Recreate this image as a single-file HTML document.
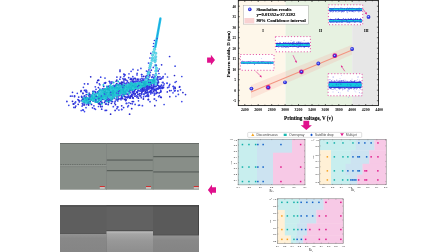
<!DOCTYPE html><html><head><meta charset="utf-8"><style>html,body{margin:0;padding:0;background:#fff;width:448px;height:252px;overflow:hidden}svg{display:block}text{font-family:"Liberation Serif",serif;font-weight:bold}.n{font-weight:normal}</style></head><body><svg width="448" height="252" viewBox="0 0 448 252"><defs><radialGradient id="gb" cx="0.45" cy="0.42" r="0.6"><stop offset="0" stop-color="#d0e0ff"/><stop offset="0.4" stop-color="#4048f0"/><stop offset="1" stop-color="#1a10b8"/></radialGradient></defs><circle cx="123.1" cy="94.4" r="0.9" fill="#3a4ae4"/><circle cx="135.0" cy="96.2" r="0.9" fill="#2828c8"/><circle cx="159.1" cy="92.9" r="0.9" fill="#2828c8"/><circle cx="156.9" cy="83.6" r="0.9" fill="#2828c8"/><circle cx="85.8" cy="91.7" r="0.9" fill="#4048ec"/><circle cx="129.7" cy="88.2" r="0.9" fill="#3038e0"/><circle cx="148.5" cy="95.4" r="0.9" fill="#4048ec"/><circle cx="88.4" cy="103.1" r="0.9" fill="#3038e0"/><circle cx="127.5" cy="81.1" r="0.9" fill="#2c30d8"/><circle cx="155.6" cy="78.4" r="0.9" fill="#3038e0"/><circle cx="152.4" cy="76.9" r="0.9" fill="#3840e8"/><circle cx="113.8" cy="94.0" r="0.9" fill="#4048ec"/><circle cx="142.0" cy="91.2" r="0.9" fill="#2828c8"/><circle cx="144.6" cy="86.8" r="0.9" fill="#2c30d8"/><circle cx="157.2" cy="84.7" r="0.9" fill="#2c30d8"/><circle cx="113.6" cy="92.1" r="0.9" fill="#3840e8"/><circle cx="145.5" cy="85.5" r="0.9" fill="#3a4ae4"/><circle cx="117.0" cy="87.9" r="0.9" fill="#2828c8"/><circle cx="88.8" cy="103.6" r="0.9" fill="#3a4ae4"/><circle cx="151.3" cy="90.6" r="0.9" fill="#3840e8"/><circle cx="151.3" cy="70.2" r="0.9" fill="#3038e0"/><circle cx="104.7" cy="91.7" r="0.9" fill="#3840e8"/><circle cx="130.6" cy="88.5" r="0.9" fill="#2828c8"/><circle cx="118.4" cy="93.7" r="0.9" fill="#3038e0"/><circle cx="82.7" cy="98.9" r="0.9" fill="#2c30d8"/><circle cx="86.6" cy="90.8" r="0.9" fill="#4048ec"/><circle cx="115.9" cy="95.4" r="0.9" fill="#3038e0"/><circle cx="103.0" cy="96.0" r="0.9" fill="#4048ec"/><circle cx="119.5" cy="85.3" r="0.9" fill="#3038e0"/><circle cx="111.5" cy="93.1" r="0.9" fill="#2828c8"/><circle cx="149.8" cy="75.8" r="0.9" fill="#2c30d8"/><circle cx="123.4" cy="89.4" r="0.9" fill="#4048ec"/><circle cx="151.9" cy="88.2" r="0.9" fill="#3840e8"/><circle cx="83.3" cy="110.2" r="0.9" fill="#3a4ae4"/><circle cx="93.1" cy="101.1" r="0.9" fill="#2828c8"/><circle cx="98.8" cy="91.0" r="0.9" fill="#4048ec"/><circle cx="128.4" cy="87.1" r="0.9" fill="#2c30d8"/><circle cx="116.2" cy="87.0" r="0.9" fill="#2c30d8"/><circle cx="147.4" cy="77.6" r="0.9" fill="#3a4ae4"/><circle cx="153.6" cy="88.3" r="0.9" fill="#4048ec"/><circle cx="95.9" cy="102.0" r="0.9" fill="#2c30d8"/><circle cx="127.2" cy="91.2" r="0.9" fill="#3840e8"/><circle cx="141.9" cy="76.6" r="0.9" fill="#4048ec"/><circle cx="125.0" cy="79.0" r="0.9" fill="#2c30d8"/><circle cx="141.5" cy="91.0" r="0.9" fill="#3a4ae4"/><circle cx="103.7" cy="86.4" r="0.9" fill="#2c30d8"/><circle cx="137.4" cy="91.8" r="0.9" fill="#3038e0"/><circle cx="88.7" cy="95.0" r="0.9" fill="#3038e0"/><circle cx="110.1" cy="83.1" r="0.9" fill="#3840e8"/><circle cx="112.0" cy="91.2" r="0.9" fill="#4048ec"/><circle cx="109.3" cy="81.3" r="0.9" fill="#2828c8"/><circle cx="106.3" cy="90.1" r="0.9" fill="#2c30d8"/><circle cx="105.8" cy="93.7" r="0.9" fill="#2828c8"/><circle cx="144.1" cy="89.9" r="0.9" fill="#2828c8"/><circle cx="73.3" cy="104.0" r="0.9" fill="#2828c8"/><circle cx="122.3" cy="86.4" r="0.9" fill="#4048ec"/><circle cx="119.9" cy="79.2" r="0.9" fill="#4048ec"/><circle cx="131.7" cy="94.5" r="0.9" fill="#2c30d8"/><circle cx="148.5" cy="87.2" r="0.9" fill="#2c30d8"/><circle cx="138.4" cy="98.2" r="0.9" fill="#2828c8"/><circle cx="113.9" cy="85.3" r="0.9" fill="#4048ec"/><circle cx="124.9" cy="89.0" r="0.9" fill="#3a4ae4"/><circle cx="142.1" cy="83.7" r="0.9" fill="#3a4ae4"/><circle cx="147.7" cy="84.2" r="0.9" fill="#3840e8"/><circle cx="125.4" cy="90.2" r="0.9" fill="#4048ec"/><circle cx="144.8" cy="89.2" r="0.9" fill="#3038e0"/><circle cx="102.5" cy="88.8" r="0.9" fill="#3a4ae4"/><circle cx="130.0" cy="98.2" r="0.9" fill="#3038e0"/><circle cx="108.3" cy="101.2" r="0.9" fill="#3840e8"/><circle cx="84.8" cy="96.0" r="0.9" fill="#3a4ae4"/><circle cx="83.0" cy="93.6" r="0.9" fill="#4048ec"/><circle cx="99.9" cy="98.2" r="0.9" fill="#3840e8"/><circle cx="91.3" cy="99.9" r="0.9" fill="#2828c8"/><circle cx="156.1" cy="88.6" r="0.9" fill="#3a4ae4"/><circle cx="116.0" cy="91.8" r="0.9" fill="#3a4ae4"/><circle cx="144.3" cy="89.6" r="0.9" fill="#2828c8"/><circle cx="118.6" cy="91.4" r="0.9" fill="#2c30d8"/><circle cx="86.4" cy="97.2" r="0.9" fill="#2828c8"/><circle cx="105.5" cy="96.3" r="0.9" fill="#2828c8"/><circle cx="129.5" cy="92.2" r="0.9" fill="#2c30d8"/><circle cx="106.0" cy="100.4" r="0.9" fill="#2c30d8"/><circle cx="121.8" cy="91.5" r="0.9" fill="#3a4ae4"/><circle cx="121.3" cy="98.2" r="0.9" fill="#3840e8"/><circle cx="92.9" cy="96.6" r="0.9" fill="#2828c8"/><circle cx="92.8" cy="93.4" r="0.9" fill="#2c30d8"/><circle cx="105.0" cy="91.4" r="0.9" fill="#3a4ae4"/><circle cx="109.5" cy="94.1" r="0.9" fill="#3a4ae4"/><circle cx="138.2" cy="85.4" r="0.9" fill="#3a4ae4"/><circle cx="143.6" cy="90.9" r="0.9" fill="#2828c8"/><circle cx="118.0" cy="97.9" r="0.9" fill="#2828c8"/><circle cx="113.9" cy="89.9" r="0.9" fill="#2c30d8"/><circle cx="99.8" cy="103.9" r="0.9" fill="#3840e8"/><circle cx="148.3" cy="99.7" r="0.9" fill="#3a4ae4"/><circle cx="104.0" cy="93.5" r="0.9" fill="#2828c8"/><circle cx="128.3" cy="82.9" r="0.9" fill="#2c30d8"/><circle cx="143.0" cy="87.3" r="0.9" fill="#2828c8"/><circle cx="145.1" cy="83.3" r="0.9" fill="#3840e8"/><circle cx="141.9" cy="89.3" r="0.9" fill="#3a4ae4"/><circle cx="133.0" cy="81.4" r="0.9" fill="#2828c8"/><circle cx="135.2" cy="86.3" r="0.9" fill="#3038e0"/><circle cx="105.3" cy="83.0" r="0.9" fill="#2c30d8"/><circle cx="121.9" cy="91.5" r="0.9" fill="#2c30d8"/><circle cx="136.4" cy="95.9" r="0.9" fill="#3840e8"/><circle cx="127.8" cy="89.5" r="0.9" fill="#2c30d8"/><circle cx="113.6" cy="88.1" r="0.9" fill="#3840e8"/><circle cx="153.7" cy="89.8" r="0.9" fill="#2c30d8"/><circle cx="86.3" cy="94.6" r="0.9" fill="#2c30d8"/><circle cx="154.8" cy="84.1" r="0.9" fill="#3840e8"/><circle cx="97.0" cy="82.5" r="0.9" fill="#2c30d8"/><circle cx="146.1" cy="87.0" r="0.9" fill="#3a4ae4"/><circle cx="94.5" cy="98.7" r="0.9" fill="#2c30d8"/><circle cx="120.0" cy="70.1" r="0.9" fill="#2828c8"/><circle cx="118.2" cy="85.1" r="0.9" fill="#3840e8"/><circle cx="102.8" cy="99.2" r="0.9" fill="#2c30d8"/><circle cx="122.0" cy="97.0" r="0.9" fill="#3038e0"/><circle cx="83.5" cy="101.0" r="0.9" fill="#4048ec"/><circle cx="72.5" cy="101.3" r="0.9" fill="#2828c8"/><circle cx="105.2" cy="101.4" r="0.9" fill="#3840e8"/><circle cx="141.7" cy="74.6" r="0.9" fill="#4048ec"/><circle cx="150.7" cy="82.1" r="0.9" fill="#3038e0"/><circle cx="153.2" cy="87.4" r="0.9" fill="#2828c8"/><circle cx="104.0" cy="88.9" r="0.9" fill="#4048ec"/><circle cx="82.9" cy="104.9" r="0.9" fill="#2828c8"/><circle cx="137.7" cy="96.3" r="0.9" fill="#3038e0"/><circle cx="131.1" cy="83.2" r="0.9" fill="#2828c8"/><circle cx="99.5" cy="103.9" r="0.9" fill="#2828c8"/><circle cx="157.9" cy="88.2" r="0.9" fill="#4048ec"/><circle cx="108.2" cy="104.5" r="0.9" fill="#2c30d8"/><circle cx="111.3" cy="92.3" r="0.9" fill="#3038e0"/><circle cx="139.1" cy="85.2" r="0.9" fill="#3038e0"/><circle cx="134.4" cy="87.5" r="0.9" fill="#3a4ae4"/><circle cx="121.1" cy="91.5" r="0.9" fill="#2828c8"/><circle cx="123.8" cy="94.8" r="0.9" fill="#4048ec"/><circle cx="124.6" cy="93.0" r="0.9" fill="#4048ec"/><circle cx="128.1" cy="88.6" r="0.9" fill="#4048ec"/><circle cx="78.7" cy="97.1" r="0.9" fill="#3038e0"/><circle cx="110.1" cy="100.6" r="0.9" fill="#2828c8"/><circle cx="126.2" cy="86.5" r="0.9" fill="#4048ec"/><circle cx="155.6" cy="80.6" r="0.9" fill="#3840e8"/><circle cx="158.2" cy="70.9" r="0.9" fill="#2c30d8"/><circle cx="110.2" cy="90.9" r="0.9" fill="#3038e0"/><circle cx="114.7" cy="98.1" r="0.9" fill="#2828c8"/><circle cx="109.9" cy="99.4" r="0.9" fill="#3a4ae4"/><circle cx="135.1" cy="104.4" r="0.9" fill="#3a4ae4"/><circle cx="123.2" cy="88.7" r="0.9" fill="#2c30d8"/><circle cx="113.3" cy="86.9" r="0.9" fill="#3840e8"/><circle cx="143.4" cy="99.0" r="0.9" fill="#2828c8"/><circle cx="157.5" cy="84.9" r="0.9" fill="#2c30d8"/><circle cx="108.1" cy="98.9" r="0.9" fill="#3a4ae4"/><circle cx="82.1" cy="100.2" r="0.9" fill="#2828c8"/><circle cx="158.5" cy="82.4" r="0.9" fill="#4048ec"/><circle cx="108.9" cy="95.1" r="0.9" fill="#3840e8"/><circle cx="120.1" cy="89.5" r="0.9" fill="#4048ec"/><circle cx="133.8" cy="85.1" r="0.9" fill="#3a4ae4"/><circle cx="137.1" cy="73.4" r="0.9" fill="#3a4ae4"/><circle cx="117.4" cy="95.8" r="0.9" fill="#2828c8"/><circle cx="122.0" cy="96.2" r="0.9" fill="#2828c8"/><circle cx="143.7" cy="83.4" r="0.9" fill="#2c30d8"/><circle cx="153.2" cy="86.2" r="0.9" fill="#3038e0"/><circle cx="117.8" cy="107.0" r="0.9" fill="#3038e0"/><circle cx="146.4" cy="83.1" r="0.9" fill="#3038e0"/><circle cx="125.4" cy="92.1" r="0.9" fill="#4048ec"/><circle cx="147.8" cy="88.4" r="0.9" fill="#2c30d8"/><circle cx="142.9" cy="80.6" r="0.9" fill="#2c30d8"/><circle cx="81.6" cy="96.4" r="0.9" fill="#2c30d8"/><circle cx="158.6" cy="85.9" r="0.9" fill="#2c30d8"/><circle cx="128.8" cy="91.2" r="0.9" fill="#3038e0"/><circle cx="115.1" cy="110.4" r="0.9" fill="#2c30d8"/><circle cx="156.2" cy="91.0" r="0.9" fill="#3038e0"/><circle cx="132.2" cy="85.9" r="0.9" fill="#2c30d8"/><circle cx="94.0" cy="91.5" r="0.9" fill="#3038e0"/><circle cx="141.5" cy="94.2" r="0.9" fill="#3a4ae4"/><circle cx="101.7" cy="109.2" r="0.9" fill="#3038e0"/><circle cx="122.6" cy="98.5" r="0.9" fill="#2c30d8"/><circle cx="142.5" cy="88.3" r="0.9" fill="#3a4ae4"/><circle cx="96.7" cy="101.1" r="0.9" fill="#3038e0"/><circle cx="154.4" cy="89.8" r="0.9" fill="#4048ec"/><circle cx="138.7" cy="84.3" r="0.9" fill="#3a4ae4"/><circle cx="129.0" cy="84.2" r="0.9" fill="#3a4ae4"/><circle cx="140.3" cy="85.7" r="0.9" fill="#2828c8"/><circle cx="146.6" cy="92.5" r="0.9" fill="#3840e8"/><circle cx="109.4" cy="96.7" r="0.9" fill="#2828c8"/><circle cx="120.0" cy="91.8" r="0.9" fill="#2c30d8"/><circle cx="99.6" cy="100.3" r="0.9" fill="#2c30d8"/><circle cx="130.0" cy="85.4" r="0.9" fill="#4048ec"/><circle cx="139.6" cy="90.9" r="0.9" fill="#3840e8"/><circle cx="151.9" cy="83.1" r="0.9" fill="#3a4ae4"/><circle cx="153.7" cy="83.7" r="0.9" fill="#2828c8"/><circle cx="114.7" cy="94.6" r="0.9" fill="#3a4ae4"/><circle cx="149.6" cy="86.5" r="0.9" fill="#2828c8"/><circle cx="106.9" cy="99.2" r="0.9" fill="#3840e8"/><circle cx="150.5" cy="83.8" r="0.9" fill="#3a4ae4"/><circle cx="128.8" cy="91.3" r="0.9" fill="#3038e0"/><circle cx="131.2" cy="96.1" r="0.9" fill="#3840e8"/><circle cx="116.8" cy="83.8" r="0.9" fill="#3a4ae4"/><circle cx="148.2" cy="87.1" r="0.9" fill="#3038e0"/><circle cx="86.8" cy="92.2" r="0.9" fill="#3a4ae4"/><circle cx="142.4" cy="86.1" r="0.9" fill="#2c30d8"/><circle cx="102.8" cy="91.9" r="0.9" fill="#2828c8"/><circle cx="128.4" cy="93.6" r="0.9" fill="#3840e8"/><circle cx="146.8" cy="79.0" r="0.9" fill="#3840e8"/><circle cx="136.9" cy="92.0" r="0.9" fill="#4048ec"/><circle cx="114.8" cy="86.7" r="0.9" fill="#2c30d8"/><circle cx="119.8" cy="95.7" r="0.9" fill="#3038e0"/><circle cx="144.9" cy="87.0" r="0.9" fill="#3a4ae4"/><circle cx="146.9" cy="75.7" r="0.9" fill="#3a4ae4"/><circle cx="106.5" cy="94.1" r="0.9" fill="#3038e0"/><circle cx="129.0" cy="102.8" r="0.9" fill="#4048ec"/><circle cx="118.5" cy="89.8" r="0.9" fill="#3a4ae4"/><circle cx="138.2" cy="79.6" r="0.9" fill="#3a4ae4"/><circle cx="157.9" cy="89.0" r="0.9" fill="#4048ec"/><circle cx="125.9" cy="87.2" r="0.9" fill="#2c30d8"/><circle cx="129.5" cy="97.5" r="0.9" fill="#4048ec"/><circle cx="136.5" cy="81.5" r="0.9" fill="#3840e8"/><circle cx="131.8" cy="84.0" r="0.9" fill="#4048ec"/><circle cx="113.5" cy="96.1" r="0.9" fill="#3038e0"/><circle cx="120.8" cy="91.4" r="0.9" fill="#2828c8"/><circle cx="104.6" cy="95.6" r="0.9" fill="#3a4ae4"/><circle cx="127.4" cy="86.2" r="0.9" fill="#3840e8"/><circle cx="125.4" cy="79.8" r="0.9" fill="#2c30d8"/><circle cx="116.6" cy="84.8" r="0.9" fill="#2828c8"/><circle cx="115.1" cy="101.5" r="0.9" fill="#3a4ae4"/><circle cx="97.7" cy="101.8" r="0.9" fill="#2828c8"/><circle cx="148.1" cy="87.4" r="0.9" fill="#2c30d8"/><circle cx="145.2" cy="93.0" r="0.9" fill="#2828c8"/><circle cx="111.9" cy="82.0" r="0.9" fill="#3840e8"/><circle cx="137.0" cy="97.3" r="0.9" fill="#3840e8"/><circle cx="128.0" cy="90.7" r="0.9" fill="#4048ec"/><circle cx="160.6" cy="86.3" r="0.9" fill="#2c30d8"/><circle cx="97.1" cy="98.5" r="0.9" fill="#3038e0"/><circle cx="153.0" cy="74.8" r="0.9" fill="#3a4ae4"/><circle cx="106.9" cy="100.1" r="0.9" fill="#2828c8"/><circle cx="117.3" cy="94.9" r="0.9" fill="#3038e0"/><circle cx="147.6" cy="89.0" r="0.9" fill="#2c30d8"/><circle cx="121.6" cy="92.4" r="0.9" fill="#2c30d8"/><circle cx="112.5" cy="101.6" r="0.9" fill="#3038e0"/><circle cx="110.0" cy="92.0" r="0.9" fill="#2828c8"/><circle cx="144.1" cy="87.8" r="0.9" fill="#2c30d8"/><circle cx="147.1" cy="85.3" r="0.9" fill="#3038e0"/><circle cx="158.3" cy="82.0" r="0.9" fill="#3038e0"/><circle cx="144.0" cy="94.6" r="0.9" fill="#3840e8"/><circle cx="144.9" cy="86.8" r="0.9" fill="#3a4ae4"/><circle cx="154.3" cy="78.3" r="0.9" fill="#2c30d8"/><circle cx="116.8" cy="99.0" r="0.9" fill="#2c30d8"/><circle cx="139.9" cy="82.1" r="0.9" fill="#2c30d8"/><circle cx="132.9" cy="80.9" r="0.9" fill="#2828c8"/><circle cx="123.1" cy="87.6" r="0.9" fill="#3038e0"/><circle cx="79.3" cy="101.8" r="0.9" fill="#2828c8"/><circle cx="160.9" cy="91.5" r="0.9" fill="#2828c8"/><circle cx="141.2" cy="90.7" r="0.9" fill="#3a4ae4"/><circle cx="90.5" cy="98.0" r="0.9" fill="#3a4ae4"/><circle cx="123.7" cy="90.6" r="0.9" fill="#2828c8"/><circle cx="106.5" cy="110.3" r="0.9" fill="#3038e0"/><circle cx="144.7" cy="83.4" r="0.9" fill="#4048ec"/><circle cx="148.4" cy="99.4" r="0.9" fill="#2828c8"/><circle cx="127.1" cy="94.4" r="0.9" fill="#2c30d8"/><circle cx="116.1" cy="99.9" r="0.9" fill="#3840e8"/><circle cx="153.9" cy="85.2" r="0.9" fill="#3a4ae4"/><circle cx="114.7" cy="93.6" r="0.9" fill="#2c30d8"/><circle cx="114.0" cy="94.9" r="0.9" fill="#4048ec"/><circle cx="95.3" cy="86.8" r="0.9" fill="#4048ec"/><circle cx="96.0" cy="93.6" r="0.9" fill="#3038e0"/><circle cx="152.9" cy="92.9" r="0.9" fill="#3038e0"/><circle cx="153.8" cy="77.4" r="0.9" fill="#4048ec"/><circle cx="116.9" cy="88.4" r="0.9" fill="#3038e0"/><circle cx="118.6" cy="85.0" r="0.9" fill="#3a4ae4"/><circle cx="147.1" cy="83.5" r="0.9" fill="#3840e8"/><circle cx="120.8" cy="83.6" r="0.9" fill="#2c30d8"/><circle cx="94.2" cy="94.5" r="0.9" fill="#4048ec"/><circle cx="123.2" cy="95.7" r="0.9" fill="#2828c8"/><circle cx="119.0" cy="85.2" r="0.9" fill="#3840e8"/><circle cx="148.0" cy="93.9" r="0.9" fill="#3038e0"/><circle cx="118.8" cy="89.2" r="0.9" fill="#4048ec"/><circle cx="106.3" cy="95.8" r="0.9" fill="#3a4ae4"/><circle cx="147.5" cy="94.9" r="0.9" fill="#2c30d8"/><circle cx="147.0" cy="95.9" r="0.9" fill="#2828c8"/><circle cx="99.7" cy="96.9" r="0.9" fill="#3038e0"/><circle cx="143.5" cy="85.4" r="0.9" fill="#3038e0"/><circle cx="154.0" cy="79.0" r="0.9" fill="#3a4ae4"/><circle cx="135.6" cy="87.9" r="0.9" fill="#3a4ae4"/><circle cx="153.0" cy="79.9" r="0.9" fill="#3840e8"/><circle cx="123.9" cy="79.9" r="0.9" fill="#2828c8"/><circle cx="147.8" cy="80.8" r="0.9" fill="#3a4ae4"/><circle cx="109.1" cy="86.0" r="0.9" fill="#3038e0"/><circle cx="94.5" cy="98.3" r="0.9" fill="#2828c8"/><circle cx="142.0" cy="83.9" r="0.9" fill="#2828c8"/><circle cx="106.5" cy="92.8" r="0.9" fill="#3840e8"/><circle cx="150.9" cy="86.8" r="0.9" fill="#3038e0"/><circle cx="154.1" cy="89.2" r="0.9" fill="#3a4ae4"/><circle cx="132.6" cy="97.9" r="0.9" fill="#2828c8"/><circle cx="128.7" cy="77.7" r="0.9" fill="#3038e0"/><circle cx="136.2" cy="84.9" r="0.9" fill="#3a4ae4"/><circle cx="92.9" cy="91.5" r="0.9" fill="#3038e0"/><circle cx="103.0" cy="92.3" r="0.9" fill="#2c30d8"/><circle cx="100.3" cy="94.7" r="0.9" fill="#2c30d8"/><circle cx="132.5" cy="92.0" r="0.9" fill="#3038e0"/><circle cx="116.4" cy="91.6" r="0.9" fill="#2828c8"/><circle cx="135.3" cy="81.5" r="0.9" fill="#2c30d8"/><circle cx="90.1" cy="101.4" r="0.9" fill="#2828c8"/><circle cx="115.8" cy="88.5" r="0.9" fill="#4048ec"/><circle cx="127.7" cy="90.7" r="0.9" fill="#3038e0"/><circle cx="97.0" cy="102.1" r="0.9" fill="#3038e0"/><circle cx="142.9" cy="84.8" r="0.9" fill="#3a4ae4"/><circle cx="161.4" cy="78.2" r="0.9" fill="#4048ec"/><circle cx="85.2" cy="100.3" r="0.9" fill="#3a4ae4"/><circle cx="140.8" cy="89.6" r="0.9" fill="#3038e0"/><circle cx="109.0" cy="100.7" r="0.9" fill="#2828c8"/><circle cx="140.3" cy="85.5" r="0.9" fill="#3a4ae4"/><circle cx="141.6" cy="74.6" r="0.9" fill="#3038e0"/><circle cx="107.5" cy="91.5" r="0.9" fill="#4048ec"/><circle cx="107.7" cy="97.1" r="0.9" fill="#4048ec"/><circle cx="119.5" cy="83.2" r="0.9" fill="#3840e8"/><circle cx="75.6" cy="101.9" r="0.9" fill="#4048ec"/><circle cx="134.1" cy="78.4" r="0.9" fill="#4048ec"/><circle cx="153.7" cy="82.0" r="0.9" fill="#4048ec"/><circle cx="153.1" cy="81.6" r="0.9" fill="#4048ec"/><circle cx="130.5" cy="82.2" r="0.9" fill="#3038e0"/><circle cx="139.1" cy="86.1" r="0.9" fill="#3840e8"/><circle cx="83.0" cy="98.1" r="0.9" fill="#2c30d8"/><circle cx="151.4" cy="88.7" r="0.9" fill="#2828c8"/><circle cx="137.9" cy="94.4" r="0.9" fill="#2c30d8"/><circle cx="103.7" cy="95.4" r="0.9" fill="#3a4ae4"/><circle cx="130.4" cy="89.1" r="0.9" fill="#3038e0"/><circle cx="113.2" cy="96.1" r="0.9" fill="#3840e8"/><circle cx="154.8" cy="86.6" r="0.9" fill="#3a4ae4"/><circle cx="126.9" cy="85.9" r="0.9" fill="#4048ec"/><circle cx="141.7" cy="84.8" r="0.9" fill="#2828c8"/><circle cx="105.0" cy="78.1" r="0.9" fill="#3a4ae4"/><circle cx="162.6" cy="88.3" r="0.9" fill="#2c30d8"/><circle cx="148.0" cy="84.9" r="0.9" fill="#3038e0"/><circle cx="131.7" cy="108.7" r="0.9" fill="#2828c8"/><circle cx="115.6" cy="89.4" r="0.9" fill="#3a4ae4"/><circle cx="135.0" cy="81.3" r="0.9" fill="#3038e0"/><circle cx="159.7" cy="88.3" r="0.9" fill="#2c30d8"/><circle cx="82.8" cy="109.9" r="0.9" fill="#4048ec"/><circle cx="111.8" cy="88.4" r="0.9" fill="#2828c8"/><circle cx="129.0" cy="97.2" r="0.9" fill="#3840e8"/><circle cx="141.7" cy="86.4" r="0.9" fill="#3a4ae4"/><circle cx="96.3" cy="96.8" r="0.9" fill="#3840e8"/><circle cx="110.1" cy="95.0" r="0.9" fill="#3a4ae4"/><circle cx="135.1" cy="83.6" r="0.9" fill="#2c30d8"/><circle cx="99.3" cy="98.1" r="0.9" fill="#2828c8"/><circle cx="131.8" cy="86.9" r="0.9" fill="#3a4ae4"/><circle cx="125.1" cy="96.7" r="0.9" fill="#3a4ae4"/><circle cx="150.3" cy="91.6" r="0.9" fill="#2c30d8"/><circle cx="77.9" cy="99.6" r="0.9" fill="#4048ec"/><circle cx="146.7" cy="82.2" r="0.9" fill="#2828c8"/><circle cx="128.4" cy="93.9" r="0.9" fill="#3840e8"/><circle cx="149.2" cy="80.3" r="0.9" fill="#3a4ae4"/><circle cx="149.6" cy="74.6" r="0.9" fill="#2c30d8"/><circle cx="91.1" cy="95.2" r="0.9" fill="#2c30d8"/><circle cx="124.5" cy="99.3" r="0.9" fill="#2828c8"/><circle cx="82.1" cy="106.1" r="0.9" fill="#3840e8"/><circle cx="98.3" cy="92.9" r="0.9" fill="#2828c8"/><circle cx="141.9" cy="88.4" r="0.9" fill="#2828c8"/><circle cx="141.3" cy="86.8" r="0.9" fill="#3a4ae4"/><circle cx="160.5" cy="92.2" r="0.9" fill="#3038e0"/><circle cx="157.5" cy="83.6" r="0.9" fill="#3038e0"/><circle cx="112.5" cy="93.3" r="0.9" fill="#3840e8"/><circle cx="115.4" cy="104.7" r="0.9" fill="#2828c8"/><circle cx="121.0" cy="99.7" r="0.9" fill="#4048ec"/><circle cx="135.9" cy="81.7" r="0.9" fill="#3a4ae4"/><circle cx="119.8" cy="85.9" r="0.9" fill="#3a4ae4"/><circle cx="133.0" cy="97.6" r="0.9" fill="#2828c8"/><circle cx="120.5" cy="77.1" r="0.9" fill="#2828c8"/><circle cx="123.5" cy="91.0" r="0.9" fill="#3a4ae4"/><circle cx="137.8" cy="81.7" r="0.9" fill="#3038e0"/><circle cx="109.8" cy="90.4" r="0.9" fill="#2828c8"/><circle cx="113.3" cy="86.3" r="0.9" fill="#4048ec"/><circle cx="121.6" cy="82.2" r="0.9" fill="#2c30d8"/><circle cx="151.1" cy="92.8" r="0.9" fill="#2c30d8"/><circle cx="113.0" cy="94.5" r="0.9" fill="#3a4ae4"/><circle cx="154.9" cy="84.2" r="0.9" fill="#2c30d8"/><circle cx="91.5" cy="104.4" r="0.9" fill="#2828c8"/><circle cx="121.7" cy="85.0" r="0.9" fill="#3038e0"/><circle cx="121.5" cy="95.2" r="0.9" fill="#4048ec"/><circle cx="148.3" cy="76.7" r="0.9" fill="#3038e0"/><circle cx="96.2" cy="99.5" r="0.9" fill="#2c30d8"/><circle cx="138.1" cy="90.8" r="0.9" fill="#3840e8"/><circle cx="155.3" cy="86.4" r="0.9" fill="#2828c8"/><circle cx="87.9" cy="103.9" r="0.9" fill="#4048ec"/><circle cx="149.5" cy="83.4" r="0.9" fill="#2828c8"/><circle cx="145.6" cy="96.3" r="0.9" fill="#3038e0"/><circle cx="89.0" cy="94.3" r="0.9" fill="#2828c8"/><circle cx="140.0" cy="81.2" r="0.9" fill="#3038e0"/><circle cx="146.6" cy="82.6" r="0.9" fill="#2c30d8"/><circle cx="151.8" cy="91.9" r="0.9" fill="#3038e0"/><circle cx="114.7" cy="87.6" r="0.9" fill="#4048ec"/><circle cx="139.6" cy="88.2" r="0.9" fill="#4048ec"/><circle cx="117.3" cy="106.8" r="0.9" fill="#4048ec"/><circle cx="103.2" cy="92.2" r="0.9" fill="#3840e8"/><circle cx="139.7" cy="84.2" r="0.9" fill="#3a4ae4"/><circle cx="116.2" cy="84.9" r="0.9" fill="#4048ec"/><circle cx="101.7" cy="95.7" r="0.9" fill="#4048ec"/><circle cx="120.9" cy="92.5" r="0.9" fill="#4048ec"/><circle cx="120.7" cy="83.3" r="0.9" fill="#2828c8"/><circle cx="103.4" cy="92.9" r="0.9" fill="#3a4ae4"/><circle cx="97.8" cy="80.5" r="0.9" fill="#2828c8"/><circle cx="135.2" cy="89.6" r="0.9" fill="#3840e8"/><circle cx="139.0" cy="94.4" r="0.9" fill="#3840e8"/><circle cx="139.2" cy="88.3" r="0.9" fill="#2828c8"/><circle cx="109.9" cy="81.9" r="0.9" fill="#3840e8"/><circle cx="126.8" cy="88.6" r="0.9" fill="#2828c8"/><circle cx="93.9" cy="105.8" r="0.9" fill="#3a4ae4"/><circle cx="106.1" cy="104.0" r="0.9" fill="#2c30d8"/><circle cx="147.8" cy="85.5" r="0.9" fill="#3a4ae4"/><circle cx="124.6" cy="96.4" r="0.9" fill="#2828c8"/><circle cx="78.2" cy="104.3" r="0.9" fill="#2c30d8"/><circle cx="128.4" cy="105.7" r="0.9" fill="#3a4ae4"/><circle cx="149.5" cy="87.9" r="0.9" fill="#3a4ae4"/><circle cx="139.3" cy="82.8" r="0.9" fill="#2c30d8"/><circle cx="133.1" cy="83.9" r="0.9" fill="#2c30d8"/><circle cx="74.5" cy="96.5" r="0.9" fill="#2828c8"/><circle cx="133.4" cy="88.5" r="0.9" fill="#2c30d8"/><circle cx="151.7" cy="77.3" r="0.9" fill="#4048ec"/><circle cx="133.8" cy="82.0" r="0.9" fill="#3840e8"/><circle cx="125.9" cy="97.4" r="0.9" fill="#3a4ae4"/><circle cx="133.1" cy="79.2" r="0.9" fill="#2828c8"/><circle cx="108.7" cy="102.6" r="0.9" fill="#2828c8"/><circle cx="98.7" cy="91.8" r="0.9" fill="#4048ec"/><circle cx="160.6" cy="97.2" r="0.9" fill="#2c30d8"/><circle cx="129.1" cy="89.9" r="0.9" fill="#3038e0"/><circle cx="134.1" cy="88.8" r="0.9" fill="#3a4ae4"/><circle cx="135.2" cy="78.5" r="0.9" fill="#2c30d8"/><circle cx="124.5" cy="94.3" r="0.9" fill="#3840e8"/><circle cx="116.9" cy="77.1" r="0.9" fill="#3038e0"/><circle cx="147.4" cy="90.8" r="0.9" fill="#3a4ae4"/><circle cx="146.5" cy="77.8" r="0.9" fill="#3840e8"/><circle cx="117.0" cy="97.2" r="0.9" fill="#2c30d8"/><circle cx="138.0" cy="90.1" r="0.9" fill="#2828c8"/><circle cx="117.7" cy="100.9" r="0.9" fill="#3a4ae4"/><circle cx="126.6" cy="80.3" r="0.9" fill="#4048ec"/><circle cx="154.8" cy="94.1" r="0.9" fill="#3840e8"/><circle cx="137.3" cy="92.7" r="0.9" fill="#2c30d8"/><circle cx="130.4" cy="87.6" r="0.9" fill="#2828c8"/><circle cx="145.3" cy="90.0" r="0.9" fill="#3a4ae4"/><circle cx="118.1" cy="89.2" r="0.9" fill="#3a4ae4"/><circle cx="84.5" cy="90.4" r="0.9" fill="#2c30d8"/><circle cx="127.9" cy="90.5" r="0.9" fill="#3a4ae4"/><circle cx="92.6" cy="98.8" r="0.9" fill="#2c30d8"/><circle cx="126.2" cy="99.8" r="0.9" fill="#2c30d8"/><circle cx="108.0" cy="96.6" r="0.9" fill="#3a4ae4"/><circle cx="123.9" cy="82.0" r="0.9" fill="#4048ec"/><circle cx="73.8" cy="104.0" r="0.9" fill="#2c30d8"/><circle cx="111.0" cy="97.4" r="0.9" fill="#4048ec"/><circle cx="127.5" cy="97.8" r="0.9" fill="#4048ec"/><circle cx="85.0" cy="99.1" r="0.9" fill="#3a4ae4"/><circle cx="86.0" cy="90.2" r="0.9" fill="#3840e8"/><circle cx="156.1" cy="86.4" r="0.9" fill="#3840e8"/><circle cx="130.3" cy="92.7" r="0.9" fill="#4048ec"/><circle cx="159.8" cy="86.5" r="0.9" fill="#2c30d8"/><circle cx="148.4" cy="85.8" r="0.9" fill="#3a4ae4"/><circle cx="88.8" cy="95.8" r="0.9" fill="#3038e0"/><circle cx="124.9" cy="75.0" r="0.9" fill="#3038e0"/><circle cx="149.8" cy="92.1" r="0.9" fill="#3038e0"/><circle cx="130.4" cy="79.4" r="0.9" fill="#2828c8"/><circle cx="100.9" cy="101.5" r="0.9" fill="#2828c8"/><circle cx="96.0" cy="89.3" r="0.9" fill="#3a4ae4"/><circle cx="102.5" cy="92.3" r="0.9" fill="#4048ec"/><circle cx="157.6" cy="83.1" r="0.9" fill="#2828c8"/><circle cx="131.8" cy="89.3" r="0.9" fill="#3038e0"/><circle cx="132.8" cy="88.8" r="0.9" fill="#3038e0"/><circle cx="107.2" cy="92.3" r="0.9" fill="#3a4ae4"/><circle cx="124.0" cy="76.4" r="0.9" fill="#3a4ae4"/><circle cx="131.5" cy="78.9" r="0.9" fill="#3840e8"/><circle cx="155.9" cy="73.9" r="0.9" fill="#3840e8"/><circle cx="116.0" cy="88.2" r="0.9" fill="#3038e0"/><circle cx="115.9" cy="86.9" r="0.9" fill="#4048ec"/><circle cx="146.9" cy="89.6" r="0.9" fill="#3038e0"/><circle cx="135.9" cy="88.9" r="0.9" fill="#2c30d8"/><circle cx="136.2" cy="88.2" r="0.9" fill="#2828c8"/><circle cx="141.1" cy="89.3" r="0.9" fill="#4048ec"/><circle cx="151.2" cy="82.1" r="0.9" fill="#3038e0"/><circle cx="114.3" cy="98.3" r="0.9" fill="#4048ec"/><circle cx="98.5" cy="103.6" r="0.9" fill="#2828c8"/><circle cx="103.0" cy="93.6" r="0.9" fill="#2c30d8"/><circle cx="141.3" cy="97.7" r="0.9" fill="#3a4ae4"/><circle cx="111.4" cy="103.3" r="0.9" fill="#2828c8"/><circle cx="87.9" cy="83.9" r="0.9" fill="#2c30d8"/><circle cx="153.0" cy="80.5" r="0.9" fill="#4048ec"/><circle cx="130.8" cy="96.6" r="0.9" fill="#3840e8"/><circle cx="85.6" cy="97.9" r="0.9" fill="#3038e0"/><circle cx="142.4" cy="90.6" r="0.9" fill="#3840e8"/><circle cx="145.0" cy="93.3" r="0.9" fill="#3a4ae4"/><circle cx="104.4" cy="83.2" r="0.9" fill="#4048ec"/><circle cx="139.9" cy="93.6" r="0.9" fill="#2828c8"/><circle cx="113.3" cy="106.7" r="0.9" fill="#4048ec"/><circle cx="127.2" cy="88.2" r="0.9" fill="#2c30d8"/><circle cx="101.0" cy="95.1" r="0.9" fill="#3840e8"/><circle cx="143.6" cy="96.8" r="0.9" fill="#3840e8"/><circle cx="142.6" cy="88.9" r="0.9" fill="#2c30d8"/><circle cx="155.1" cy="84.0" r="0.9" fill="#3a4ae4"/><circle cx="135.1" cy="86.3" r="0.9" fill="#3038e0"/><circle cx="92.5" cy="107.8" r="0.9" fill="#3038e0"/><circle cx="84.3" cy="104.9" r="0.9" fill="#2828c8"/><circle cx="123.8" cy="91.5" r="0.9" fill="#2c30d8"/><circle cx="147.3" cy="86.9" r="0.9" fill="#2828c8"/><circle cx="148.5" cy="83.4" r="0.9" fill="#2c30d8"/><circle cx="132.8" cy="76.7" r="0.9" fill="#3a4ae4"/><circle cx="79.6" cy="101.0" r="0.9" fill="#3a4ae4"/><circle cx="132.4" cy="90.3" r="0.9" fill="#3840e8"/><circle cx="153.5" cy="83.3" r="0.9" fill="#3840e8"/><circle cx="111.5" cy="101.0" r="0.9" fill="#3038e0"/><circle cx="130.9" cy="78.5" r="0.9" fill="#3a4ae4"/><circle cx="134.5" cy="90.7" r="0.9" fill="#2c30d8"/><circle cx="88.6" cy="105.0" r="0.9" fill="#2828c8"/><circle cx="161.6" cy="87.7" r="0.9" fill="#3840e8"/><circle cx="126.0" cy="84.1" r="0.9" fill="#4048ec"/><circle cx="118.8" cy="98.9" r="0.9" fill="#3840e8"/><circle cx="109.7" cy="89.7" r="0.9" fill="#4048ec"/><circle cx="75.1" cy="107.4" r="0.9" fill="#2828c8"/><circle cx="132.6" cy="84.4" r="0.9" fill="#3038e0"/><circle cx="117.2" cy="90.4" r="0.9" fill="#3840e8"/><circle cx="142.7" cy="88.9" r="0.9" fill="#2828c8"/><circle cx="100.7" cy="94.4" r="0.9" fill="#3038e0"/><circle cx="105.6" cy="82.6" r="0.9" fill="#2c30d8"/><circle cx="123.6" cy="107.6" r="0.9" fill="#3038e0"/><circle cx="124.2" cy="87.3" r="0.9" fill="#3038e0"/><circle cx="150.2" cy="84.7" r="0.9" fill="#4048ec"/><circle cx="159.2" cy="87.3" r="0.9" fill="#2c30d8"/><circle cx="156.4" cy="80.5" r="0.9" fill="#4048ec"/><circle cx="148.9" cy="89.0" r="0.9" fill="#3038e0"/><circle cx="126.0" cy="83.4" r="0.9" fill="#4048ec"/><circle cx="133.7" cy="87.0" r="0.9" fill="#2c30d8"/><circle cx="148.7" cy="77.6" r="0.9" fill="#3038e0"/><circle cx="114.7" cy="86.1" r="0.9" fill="#3038e0"/><circle cx="109.4" cy="89.8" r="0.9" fill="#4048ec"/><circle cx="111.9" cy="97.3" r="0.9" fill="#3a4ae4"/><circle cx="84.5" cy="83.8" r="0.9" fill="#3038e0"/><circle cx="140.8" cy="85.1" r="0.9" fill="#3038e0"/><circle cx="160.7" cy="88.5" r="0.9" fill="#4048ec"/><circle cx="81.8" cy="97.3" r="0.9" fill="#2c30d8"/><circle cx="84.1" cy="99.1" r="0.9" fill="#3a4ae4"/><circle cx="118.8" cy="94.8" r="0.9" fill="#3038e0"/><circle cx="94.4" cy="108.6" r="0.9" fill="#3038e0"/><circle cx="143.7" cy="76.4" r="0.9" fill="#2828c8"/><circle cx="121.7" cy="105.8" r="0.9" fill="#2828c8"/><circle cx="109.9" cy="87.4" r="0.9" fill="#2828c8"/><circle cx="147.3" cy="96.1" r="0.9" fill="#3a4ae4"/><circle cx="148.4" cy="96.4" r="0.9" fill="#3038e0"/><circle cx="150.0" cy="101.7" r="0.9" fill="#3a4ae4"/><circle cx="136.1" cy="84.2" r="0.9" fill="#2c30d8"/><circle cx="151.8" cy="89.2" r="0.9" fill="#3a4ae4"/><circle cx="131.5" cy="87.7" r="0.9" fill="#2828c8"/><circle cx="155.0" cy="76.1" r="0.9" fill="#3038e0"/><circle cx="148.6" cy="85.1" r="0.9" fill="#3a4ae4"/><circle cx="148.6" cy="86.3" r="0.9" fill="#3a4ae4"/><circle cx="151.2" cy="79.9" r="0.9" fill="#3a4ae4"/><circle cx="154.3" cy="95.1" r="0.9" fill="#3840e8"/><circle cx="95.2" cy="91.7" r="0.9" fill="#3a4ae4"/><circle cx="129.8" cy="87.8" r="0.9" fill="#3038e0"/><circle cx="107.0" cy="98.9" r="0.9" fill="#3a4ae4"/><circle cx="132.3" cy="103.8" r="0.9" fill="#4048ec"/><circle cx="118.0" cy="99.4" r="0.9" fill="#2828c8"/><circle cx="106.9" cy="86.5" r="0.9" fill="#3840e8"/><circle cx="161.6" cy="85.4" r="0.9" fill="#2c30d8"/><circle cx="102.0" cy="102.3" r="0.9" fill="#3a4ae4"/><circle cx="112.1" cy="86.7" r="0.9" fill="#3038e0"/><circle cx="135.9" cy="88.3" r="0.9" fill="#2c30d8"/><circle cx="130.3" cy="90.6" r="0.9" fill="#2828c8"/><circle cx="146.2" cy="83.5" r="0.9" fill="#3a4ae4"/><circle cx="126.8" cy="103.3" r="0.9" fill="#3038e0"/><circle cx="139.8" cy="84.4" r="0.9" fill="#2c30d8"/><circle cx="151.6" cy="83.7" r="0.9" fill="#2c30d8"/><circle cx="100.8" cy="106.7" r="0.9" fill="#2828c8"/><circle cx="150.3" cy="72.4" r="0.9" fill="#3840e8"/><circle cx="105.7" cy="104.2" r="0.9" fill="#3a4ae4"/><circle cx="156.3" cy="93.4" r="0.9" fill="#3038e0"/><circle cx="131.1" cy="79.3" r="0.9" fill="#2828c8"/><circle cx="82.3" cy="103.5" r="0.9" fill="#3a4ae4"/><circle cx="157.2" cy="92.6" r="0.9" fill="#2828c8"/><circle cx="133.5" cy="91.7" r="0.9" fill="#3038e0"/><circle cx="130.9" cy="83.9" r="0.9" fill="#2828c8"/><circle cx="132.3" cy="101.6" r="0.9" fill="#2828c8"/><circle cx="105.4" cy="100.8" r="0.9" fill="#3840e8"/><circle cx="111.6" cy="83.3" r="0.9" fill="#3840e8"/><circle cx="135.2" cy="93.7" r="0.9" fill="#3038e0"/><circle cx="66.9" cy="101.5" r="0.9" fill="#3038e0"/><circle cx="101.7" cy="102.9" r="0.9" fill="#3038e0"/><circle cx="87.3" cy="103.0" r="0.9" fill="#3038e0"/><circle cx="106.0" cy="91.2" r="0.9" fill="#3a4ae4"/><circle cx="146.5" cy="71.1" r="0.9" fill="#3840e8"/><circle cx="116.8" cy="95.9" r="0.9" fill="#3a4ae4"/><circle cx="147.9" cy="86.9" r="0.9" fill="#3840e8"/><circle cx="88.2" cy="99.4" r="0.9" fill="#2c30d8"/><circle cx="143.5" cy="94.1" r="0.9" fill="#3a4ae4"/><circle cx="129.6" cy="114.2" r="0.9" fill="#2828c8"/><circle cx="123.8" cy="74.1" r="0.9" fill="#3038e0"/><circle cx="132.5" cy="92.0" r="0.9" fill="#3840e8"/><circle cx="89.8" cy="94.5" r="0.9" fill="#2c30d8"/><circle cx="133.6" cy="93.2" r="0.9" fill="#2828c8"/><circle cx="115.2" cy="88.5" r="0.9" fill="#3038e0"/><circle cx="101.2" cy="96.9" r="0.9" fill="#4048ec"/><circle cx="152.2" cy="88.1" r="0.9" fill="#2828c8"/><circle cx="122.0" cy="96.8" r="0.9" fill="#3a4ae4"/><circle cx="99.4" cy="102.6" r="0.9" fill="#4048ec"/><circle cx="138.1" cy="79.2" r="0.9" fill="#3a4ae4"/><circle cx="134.4" cy="83.3" r="0.9" fill="#3a4ae4"/><circle cx="108.7" cy="98.7" r="0.9" fill="#3840e8"/><circle cx="139.1" cy="85.5" r="0.9" fill="#4048ec"/><circle cx="122.4" cy="90.9" r="0.9" fill="#2828c8"/><circle cx="144.0" cy="81.1" r="0.9" fill="#3a4ae4"/><circle cx="133.5" cy="101.6" r="0.9" fill="#3038e0"/><circle cx="151.0" cy="87.5" r="0.9" fill="#3840e8"/><circle cx="84.2" cy="96.2" r="0.9" fill="#3038e0"/><circle cx="139.0" cy="88.4" r="0.9" fill="#4048ec"/><circle cx="147.8" cy="83.5" r="0.9" fill="#3038e0"/><circle cx="118.1" cy="87.2" r="0.9" fill="#2828c8"/><circle cx="97.5" cy="92.0" r="0.9" fill="#3038e0"/><circle cx="130.5" cy="86.4" r="0.9" fill="#2828c8"/><circle cx="108.2" cy="95.5" r="0.9" fill="#2828c8"/><circle cx="126.3" cy="93.0" r="0.9" fill="#4048ec"/><circle cx="122.2" cy="85.2" r="0.9" fill="#3038e0"/><circle cx="122.6" cy="90.0" r="0.9" fill="#3840e8"/><circle cx="117.4" cy="91.2" r="0.9" fill="#3840e8"/><circle cx="156.0" cy="81.9" r="0.9" fill="#3a4ae4"/><circle cx="138.7" cy="84.5" r="0.9" fill="#2828c8"/><circle cx="107.5" cy="88.6" r="0.9" fill="#4048ec"/><circle cx="113.4" cy="96.6" r="0.9" fill="#3a4ae4"/><circle cx="123.5" cy="87.8" r="0.9" fill="#3a4ae4"/><circle cx="123.8" cy="85.8" r="0.9" fill="#3038e0"/><circle cx="128.4" cy="96.0" r="0.9" fill="#3840e8"/><circle cx="102.7" cy="94.9" r="0.9" fill="#3840e8"/><circle cx="118.0" cy="96.2" r="0.9" fill="#4048ec"/><circle cx="111.7" cy="95.2" r="0.9" fill="#2828c8"/><circle cx="142.4" cy="105.7" r="0.9" fill="#4048ec"/><circle cx="137.3" cy="79.3" r="0.9" fill="#2828c8"/><circle cx="129.9" cy="88.1" r="0.9" fill="#3038e0"/><circle cx="84.4" cy="102.4" r="0.9" fill="#3038e0"/><circle cx="135.6" cy="88.7" r="0.9" fill="#2828c8"/><circle cx="126.9" cy="87.5" r="0.9" fill="#2c30d8"/><circle cx="122.0" cy="86.3" r="0.9" fill="#3840e8"/><circle cx="101.6" cy="96.3" r="0.9" fill="#2828c8"/><circle cx="158.1" cy="88.8" r="0.9" fill="#2c30d8"/><circle cx="144.0" cy="78.9" r="0.9" fill="#3840e8"/><circle cx="151.3" cy="87.7" r="0.9" fill="#2828c8"/><circle cx="109.7" cy="88.4" r="0.9" fill="#2828c8"/><circle cx="109.6" cy="88.6" r="0.9" fill="#3038e0"/><circle cx="121.5" cy="87.4" r="0.9" fill="#4048ec"/><circle cx="161.2" cy="97.4" r="0.9" fill="#2c30d8"/><circle cx="109.7" cy="89.6" r="0.9" fill="#2c30d8"/><circle cx="75.0" cy="103.0" r="0.9" fill="#3a4ae4"/><circle cx="157.9" cy="76.9" r="0.9" fill="#2828c8"/><circle cx="118.1" cy="90.5" r="0.9" fill="#4048ec"/><circle cx="135.0" cy="94.2" r="0.9" fill="#2828c8"/><circle cx="146.3" cy="88.8" r="0.9" fill="#3038e0"/><circle cx="113.5" cy="93.9" r="0.9" fill="#3840e8"/><circle cx="122.5" cy="82.4" r="0.9" fill="#2828c8"/><circle cx="136.9" cy="81.2" r="0.9" fill="#3840e8"/><circle cx="121.4" cy="85.8" r="0.9" fill="#4048ec"/><circle cx="116.8" cy="80.2" r="0.9" fill="#2828c8"/><circle cx="147.7" cy="92.3" r="0.9" fill="#3a4ae4"/><circle cx="141.4" cy="91.2" r="0.9" fill="#2c30d8"/><circle cx="134.0" cy="94.8" r="0.9" fill="#3840e8"/><circle cx="116.6" cy="84.0" r="0.9" fill="#2828c8"/><circle cx="142.0" cy="78.6" r="0.9" fill="#2c30d8"/><circle cx="124.2" cy="85.2" r="0.9" fill="#2c30d8"/><circle cx="122.9" cy="93.5" r="0.9" fill="#3a4ae4"/><circle cx="103.5" cy="97.8" r="0.9" fill="#2828c8"/><circle cx="154.4" cy="82.4" r="0.9" fill="#3a4ae4"/><circle cx="139.9" cy="95.8" r="0.9" fill="#2828c8"/><circle cx="134.5" cy="91.8" r="0.9" fill="#3038e0"/><circle cx="145.9" cy="77.9" r="0.9" fill="#2c30d8"/><circle cx="98.9" cy="93.9" r="0.9" fill="#2828c8"/><circle cx="127.0" cy="82.8" r="0.9" fill="#3a4ae4"/><circle cx="151.6" cy="83.7" r="0.9" fill="#3a4ae4"/><circle cx="151.2" cy="81.5" r="0.9" fill="#2c30d8"/><circle cx="150.7" cy="93.8" r="0.9" fill="#4048ec"/><circle cx="128.7" cy="84.9" r="0.9" fill="#2c30d8"/><circle cx="101.2" cy="100.4" r="0.9" fill="#2c30d8"/><circle cx="140.7" cy="86.3" r="0.9" fill="#4048ec"/><circle cx="150.1" cy="91.7" r="0.9" fill="#2c30d8"/><circle cx="148.2" cy="81.9" r="0.9" fill="#3840e8"/><circle cx="125.7" cy="100.5" r="0.9" fill="#2c30d8"/><circle cx="102.2" cy="106.5" r="0.9" fill="#3a4ae4"/><circle cx="124.2" cy="83.3" r="0.9" fill="#3038e0"/><circle cx="135.5" cy="78.8" r="0.9" fill="#2c30d8"/><circle cx="112.4" cy="98.9" r="0.9" fill="#3038e0"/><circle cx="145.9" cy="76.4" r="0.9" fill="#2c30d8"/><circle cx="95.8" cy="96.6" r="0.9" fill="#3038e0"/><circle cx="114.7" cy="103.1" r="0.85" fill="#2c30d8"/><circle cx="163.6" cy="85.7" r="0.85" fill="#4048ec"/><circle cx="143.0" cy="90.6" r="0.85" fill="#2c30d8"/><circle cx="158.6" cy="96.6" r="0.85" fill="#3a4ae4"/><circle cx="153.8" cy="91.3" r="0.85" fill="#2828c8"/><circle cx="131.7" cy="96.0" r="0.85" fill="#2828c8"/><circle cx="127.7" cy="106.8" r="0.85" fill="#3840e8"/><circle cx="102.7" cy="98.9" r="0.85" fill="#3038e0"/><circle cx="121.0" cy="91.9" r="0.85" fill="#4048ec"/><circle cx="145.9" cy="79.5" r="0.85" fill="#4048ec"/><circle cx="78.7" cy="100.2" r="0.85" fill="#2c30d8"/><circle cx="89.4" cy="102.2" r="0.85" fill="#3038e0"/><circle cx="138.1" cy="80.8" r="0.85" fill="#3840e8"/><circle cx="120.0" cy="71.5" r="0.85" fill="#2c30d8"/><circle cx="104.4" cy="102.5" r="0.85" fill="#2828c8"/><circle cx="141.6" cy="93.7" r="0.85" fill="#2c30d8"/><circle cx="132.6" cy="83.0" r="0.85" fill="#4048ec"/><circle cx="130.2" cy="83.3" r="0.85" fill="#2828c8"/><circle cx="109.7" cy="91.5" r="0.85" fill="#3038e0"/><circle cx="151.6" cy="85.4" r="0.85" fill="#3038e0"/><circle cx="86.3" cy="99.8" r="0.85" fill="#2828c8"/><circle cx="116.1" cy="81.3" r="0.85" fill="#2c30d8"/><circle cx="153.7" cy="87.0" r="0.85" fill="#3038e0"/><circle cx="150.3" cy="87.9" r="0.85" fill="#4048ec"/><circle cx="156.3" cy="89.5" r="0.85" fill="#4048ec"/><circle cx="129.0" cy="73.8" r="0.85" fill="#4048ec"/><circle cx="140.2" cy="79.2" r="0.85" fill="#3a4ae4"/><circle cx="95.5" cy="109.3" r="0.85" fill="#4048ec"/><circle cx="121.5" cy="98.0" r="0.85" fill="#2c30d8"/><circle cx="154.2" cy="99.0" r="0.85" fill="#2c30d8"/><circle cx="101.5" cy="90.5" r="0.85" fill="#3a4ae4"/><circle cx="125.2" cy="89.8" r="0.85" fill="#3a4ae4"/><circle cx="81.5" cy="100.7" r="0.85" fill="#4048ec"/><circle cx="126.2" cy="103.4" r="0.85" fill="#3a4ae4"/><circle cx="94.2" cy="99.5" r="0.85" fill="#4048ec"/><circle cx="95.7" cy="92.8" r="0.85" fill="#2828c8"/><circle cx="88.6" cy="102.7" r="0.85" fill="#3038e0"/><circle cx="130.2" cy="96.0" r="0.85" fill="#2828c8"/><circle cx="118.9" cy="110.1" r="0.85" fill="#3840e8"/><circle cx="121.9" cy="83.8" r="0.85" fill="#2828c8"/><circle cx="143.4" cy="80.1" r="0.85" fill="#2c30d8"/><circle cx="149.9" cy="58.0" r="0.85" fill="#3a4ae4"/><circle cx="86.8" cy="101.0" r="0.85" fill="#2c30d8"/><circle cx="131.5" cy="95.4" r="0.85" fill="#3038e0"/><circle cx="99.9" cy="89.2" r="0.85" fill="#3a4ae4"/><circle cx="157.8" cy="77.0" r="0.85" fill="#2c30d8"/><circle cx="123.0" cy="78.7" r="0.85" fill="#3038e0"/><circle cx="156.5" cy="93.0" r="0.85" fill="#3038e0"/><circle cx="130.7" cy="103.5" r="0.85" fill="#2828c8"/><circle cx="111.4" cy="91.6" r="0.85" fill="#2c30d8"/><circle cx="139.5" cy="105.2" r="0.85" fill="#3a4ae4"/><circle cx="107.0" cy="101.3" r="0.85" fill="#3038e0"/><circle cx="108.1" cy="86.8" r="0.85" fill="#2828c8"/><circle cx="145.3" cy="91.3" r="0.85" fill="#2828c8"/><circle cx="140.9" cy="68.4" r="0.85" fill="#3a4ae4"/><circle cx="146.8" cy="78.2" r="0.85" fill="#3a4ae4"/><circle cx="150.4" cy="84.2" r="0.85" fill="#2c30d8"/><circle cx="133.3" cy="98.3" r="0.85" fill="#4048ec"/><circle cx="70.5" cy="96.2" r="0.85" fill="#3840e8"/><circle cx="98.4" cy="87.6" r="0.85" fill="#2828c8"/><circle cx="115.8" cy="85.4" r="0.85" fill="#3840e8"/><circle cx="138.5" cy="105.3" r="0.85" fill="#3a4ae4"/><circle cx="124.9" cy="88.4" r="0.85" fill="#4048ec"/><circle cx="132.4" cy="94.2" r="0.85" fill="#3840e8"/><circle cx="89.2" cy="93.1" r="0.85" fill="#3a4ae4"/><circle cx="99.9" cy="84.8" r="0.85" fill="#3a4ae4"/><circle cx="105.7" cy="94.5" r="0.85" fill="#3038e0"/><circle cx="98.5" cy="106.5" r="0.85" fill="#3840e8"/><circle cx="100.7" cy="77.2" r="0.85" fill="#3840e8"/><circle cx="147.8" cy="71.7" r="0.85" fill="#3038e0"/><circle cx="154.7" cy="93.1" r="0.85" fill="#3a4ae4"/><circle cx="84.5" cy="111.6" r="0.85" fill="#4048ec"/><circle cx="124.6" cy="74.5" r="0.85" fill="#3038e0"/><circle cx="105.2" cy="110.4" r="0.85" fill="#2c30d8"/><circle cx="83.4" cy="87.3" r="0.85" fill="#3a4ae4"/><circle cx="91.1" cy="96.5" r="0.85" fill="#3038e0"/><circle cx="144.7" cy="89.1" r="0.85" fill="#3840e8"/><circle cx="77.3" cy="93.3" r="0.85" fill="#3840e8"/><circle cx="103.0" cy="99.5" r="0.85" fill="#3038e0"/><circle cx="120.1" cy="98.6" r="0.85" fill="#3038e0"/><circle cx="125.6" cy="99.1" r="0.85" fill="#2828c8"/><circle cx="162.6" cy="87.1" r="0.85" fill="#2828c8"/><circle cx="154.7" cy="99.0" r="0.85" fill="#3a4ae4"/><circle cx="160.8" cy="79.2" r="0.85" fill="#2828c8"/><circle cx="81.2" cy="110.6" r="0.85" fill="#4048ec"/><circle cx="120.8" cy="91.2" r="0.85" fill="#2c30d8"/><circle cx="152.5" cy="89.7" r="0.85" fill="#4048ec"/><circle cx="150.1" cy="87.6" r="0.85" fill="#4048ec"/><circle cx="141.8" cy="91.9" r="0.85" fill="#3a4ae4"/><circle cx="105.1" cy="92.6" r="0.85" fill="#3840e8"/><circle cx="148.5" cy="63.1" r="0.85" fill="#4048ec"/><circle cx="137.0" cy="92.5" r="0.85" fill="#2828c8"/><circle cx="154.9" cy="89.9" r="0.85" fill="#2828c8"/><circle cx="130.3" cy="97.6" r="0.85" fill="#2828c8"/><circle cx="146.1" cy="86.3" r="0.85" fill="#2c30d8"/><circle cx="110.6" cy="114.2" r="0.85" fill="#2828c8"/><circle cx="146.8" cy="90.2" r="0.85" fill="#3038e0"/><circle cx="102.1" cy="91.1" r="0.85" fill="#3038e0"/><circle cx="153.5" cy="80.6" r="0.85" fill="#4048ec"/><circle cx="121.7" cy="109.5" r="0.85" fill="#2c30d8"/><circle cx="146.5" cy="92.8" r="0.85" fill="#3a4ae4"/><circle cx="75.8" cy="106.1" r="0.85" fill="#2c30d8"/><circle cx="89.7" cy="102.4" r="0.85" fill="#3038e0"/><circle cx="100.5" cy="96.5" r="0.85" fill="#4048ec"/><circle cx="154.8" cy="105.7" r="0.85" fill="#2828c8"/><circle cx="98.7" cy="80.2" r="0.85" fill="#2c30d8"/><circle cx="148.9" cy="69.9" r="0.85" fill="#3840e8"/><circle cx="133.6" cy="81.9" r="0.85" fill="#2c30d8"/><circle cx="140.8" cy="95.9" r="0.85" fill="#2c30d8"/><circle cx="132.2" cy="96.0" r="0.85" fill="#2828c8"/><circle cx="156.3" cy="100.5" r="0.85" fill="#3a4ae4"/><circle cx="129.0" cy="88.0" r="0.85" fill="#4048ec"/><circle cx="157.0" cy="78.6" r="0.85" fill="#3840e8"/><circle cx="147.3" cy="95.4" r="0.85" fill="#3a4ae4"/><circle cx="101.1" cy="94.5" r="0.85" fill="#3a4ae4"/><circle cx="72.5" cy="92.3" r="0.85" fill="#3038e0"/><circle cx="121.7" cy="109.4" r="0.85" fill="#4048ec"/><circle cx="138.5" cy="100.8" r="0.85" fill="#3a4ae4"/><circle cx="133.0" cy="83.1" r="0.85" fill="#3840e8"/><circle cx="114.9" cy="93.6" r="0.85" fill="#4048ec"/><circle cx="86.0" cy="107.7" r="0.85" fill="#3a4ae4"/><circle cx="115.6" cy="94.3" r="0.85" fill="#4048ec"/><circle cx="74.6" cy="95.8" r="0.85" fill="#3840e8"/><circle cx="163.0" cy="82.4" r="0.85" fill="#3038e0"/><circle cx="137.0" cy="74.9" r="0.85" fill="#4048ec"/><circle cx="164.1" cy="104.5" r="0.85" fill="#3a4ae4"/><circle cx="129.0" cy="90.8" r="0.85" fill="#3038e0"/><circle cx="80.9" cy="91.6" r="0.85" fill="#3038e0"/><circle cx="142.5" cy="79.9" r="0.85" fill="#3a4ae4"/><circle cx="150.5" cy="90.5" r="0.85" fill="#2c30d8"/><circle cx="131.1" cy="71.3" r="0.85" fill="#3840e8"/><circle cx="141.9" cy="92.1" r="0.85" fill="#2828c8"/><circle cx="81.1" cy="90.7" r="0.85" fill="#2828c8"/><circle cx="157.2" cy="85.0" r="0.85" fill="#2c30d8"/><circle cx="134.8" cy="86.8" r="0.85" fill="#3a4ae4"/><circle cx="127.9" cy="96.9" r="0.85" fill="#2c30d8"/><circle cx="117.2" cy="89.7" r="0.85" fill="#2c30d8"/><circle cx="122.5" cy="88.9" r="0.85" fill="#2828c8"/><circle cx="150.8" cy="53.3" r="0.85" fill="#2828c8"/><circle cx="159.2" cy="87.2" r="0.85" fill="#2c30d8"/><circle cx="153.3" cy="67.4" r="0.85" fill="#3a4ae4"/><circle cx="148.5" cy="77.6" r="0.85" fill="#4048ec"/><circle cx="116.9" cy="108.7" r="0.85" fill="#3038e0"/><circle cx="126.8" cy="97.2" r="0.85" fill="#3038e0"/><circle cx="100.4" cy="104.8" r="0.85" fill="#2828c8"/><circle cx="148.1" cy="92.2" r="0.85" fill="#3a4ae4"/><circle cx="147.0" cy="85.3" r="0.85" fill="#2c30d8"/><circle cx="131.6" cy="81.0" r="0.85" fill="#3840e8"/><circle cx="149.0" cy="87.5" r="0.85" fill="#2c30d8"/><circle cx="68.8" cy="105.3" r="0.85" fill="#3a4ae4"/><circle cx="137.9" cy="70.1" r="0.85" fill="#3038e0"/><circle cx="90.7" cy="76.8" r="0.85" fill="#2828c8"/><circle cx="101.0" cy="96.1" r="0.85" fill="#2828c8"/><circle cx="72.1" cy="96.1" r="0.85" fill="#3038e0"/><circle cx="148.1" cy="87.9" r="0.85" fill="#3840e8"/><circle cx="82.9" cy="93.0" r="0.85" fill="#2828c8"/><circle cx="146.9" cy="92.3" r="0.85" fill="#2828c8"/><circle cx="141.2" cy="91.0" r="0.85" fill="#3a4ae4"/><circle cx="99.3" cy="83.8" r="0.85" fill="#3840e8"/><circle cx="155.7" cy="90.2" r="0.85" fill="#3038e0"/><circle cx="122.5" cy="86.0" r="0.85" fill="#3840e8"/><circle cx="109.3" cy="88.4" r="0.85" fill="#2c30d8"/><circle cx="107.4" cy="86.7" r="0.85" fill="#3038e0"/><circle cx="121.7" cy="96.6" r="0.85" fill="#3840e8"/><circle cx="73.8" cy="107.4" r="0.85" fill="#3a4ae4"/><circle cx="148.4" cy="74.4" r="0.85" fill="#4048ec"/><circle cx="161.2" cy="87.5" r="0.85" fill="#3038e0"/><circle cx="113.9" cy="91.1" r="0.85" fill="#4048ec"/><circle cx="133.0" cy="69.4" r="0.85" fill="#3a4ae4"/><circle cx="118.6" cy="88.7" r="0.85" fill="#3a4ae4"/><circle cx="164.1" cy="83.9" r="0.85" fill="#3840e8"/><circle cx="175.1" cy="82.3" r="0.85" fill="#3a4ae4"/><circle cx="161.1" cy="88.1" r="0.85" fill="#3840e8"/><circle cx="159.4" cy="95.6" r="0.85" fill="#3840e8"/><circle cx="178.4" cy="94.4" r="0.85" fill="#3a4ae4"/><circle cx="174.4" cy="90.9" r="0.85" fill="#3038e0"/><circle cx="185.5" cy="94.6" r="0.85" fill="#2c30d8"/><circle cx="180.5" cy="89.8" r="0.85" fill="#3a4ae4"/><circle cx="169.8" cy="96.7" r="0.85" fill="#2c30d8"/><circle cx="181.8" cy="101.6" r="0.85" fill="#4048ec"/><circle cx="181.8" cy="76.5" r="0.85" fill="#3a4ae4"/><circle cx="167.0" cy="83.1" r="0.85" fill="#4048ec"/><circle cx="175.0" cy="87.4" r="0.85" fill="#2828c8"/><circle cx="179.5" cy="87.2" r="0.85" fill="#2c30d8"/><circle cx="176.2" cy="81.5" r="0.85" fill="#3840e8"/><circle cx="169.3" cy="85.6" r="0.85" fill="#3a4ae4"/><circle cx="169.7" cy="90.7" r="0.85" fill="#2828c8"/><circle cx="167.3" cy="91.9" r="0.85" fill="#2c30d8"/><circle cx="169.8" cy="84.3" r="0.85" fill="#3840e8"/><circle cx="173.2" cy="86.3" r="0.85" fill="#2828c8"/><circle cx="163.6" cy="87.6" r="0.85" fill="#2c30d8"/><circle cx="160.8" cy="90.4" r="0.85" fill="#4048ec"/><circle cx="175.9" cy="96.3" r="0.85" fill="#3a4ae4"/><circle cx="168.9" cy="87.1" r="0.85" fill="#3038e0"/><circle cx="162.8" cy="77.9" r="0.85" fill="#4048ec"/><circle cx="175.2" cy="90.6" r="0.85" fill="#3840e8"/><circle cx="177.9" cy="90.9" r="0.85" fill="#2c30d8"/><circle cx="162.4" cy="82.5" r="0.85" fill="#3a4ae4"/><circle cx="167.6" cy="87.7" r="0.85" fill="#3a4ae4"/><circle cx="174.0" cy="87.0" r="0.85" fill="#3a4ae4"/><circle cx="171.2" cy="90.5" r="0.85" fill="#3a4ae4"/><circle cx="173.8" cy="88.8" r="0.85" fill="#2c30d8"/><circle cx="173.4" cy="86.6" r="0.85" fill="#3840e8"/><circle cx="161.4" cy="85.1" r="0.85" fill="#3a4ae4"/><circle cx="173.0" cy="92.8" r="0.85" fill="#4048ec"/><circle cx="175.2" cy="88.4" r="0.85" fill="#2828c8"/><circle cx="179.7" cy="86.5" r="0.85" fill="#2c30d8"/><circle cx="174.5" cy="75.5" r="0.85" fill="#2828c8"/><circle cx="157.1" cy="88.5" r="0.85" fill="#2c30d8"/><circle cx="182.9" cy="92.6" r="0.85" fill="#2828c8"/><circle cx="92.0" cy="98.0" r="1.0" fill="#20c0d0"/><circle cx="119.3" cy="92.6" r="1.0" fill="#20c0d0"/><circle cx="119.5" cy="88.0" r="1.0" fill="#1cbcd0"/><circle cx="94.9" cy="99.9" r="1.0" fill="#20c0d0"/><circle cx="132.1" cy="88.8" r="1.0" fill="#30c8d8"/><circle cx="124.4" cy="88.7" r="1.0" fill="#18b4c8"/><circle cx="123.8" cy="90.2" r="1.0" fill="#1cbcd0"/><circle cx="136.9" cy="87.9" r="1.0" fill="#30c8d8"/><circle cx="128.7" cy="86.9" r="1.0" fill="#30c8d8"/><circle cx="115.6" cy="88.3" r="1.0" fill="#18b4c8"/><circle cx="96.7" cy="98.1" r="1.0" fill="#18b4c8"/><circle cx="112.8" cy="93.0" r="1.0" fill="#30c8d8"/><circle cx="89.6" cy="97.4" r="1.0" fill="#20c0d0"/><circle cx="141.1" cy="85.5" r="1.0" fill="#20c0d0"/><circle cx="82.5" cy="101.4" r="1.0" fill="#28c8d8"/><circle cx="129.6" cy="87.6" r="1.0" fill="#18b4c8"/><circle cx="116.9" cy="85.7" r="1.0" fill="#28c8d8"/><circle cx="129.3" cy="85.1" r="1.0" fill="#30c8d8"/><circle cx="134.4" cy="85.4" r="1.0" fill="#30c8d8"/><circle cx="134.3" cy="85.6" r="1.0" fill="#28c8d8"/><circle cx="106.4" cy="98.6" r="1.0" fill="#20c0d0"/><circle cx="140.6" cy="86.3" r="1.0" fill="#28c8d8"/><circle cx="82.9" cy="98.8" r="1.0" fill="#20c0d0"/><circle cx="148.8" cy="81.0" r="1.0" fill="#1cbcd0"/><circle cx="152.7" cy="81.4" r="1.0" fill="#28c8d8"/><circle cx="101.9" cy="96.0" r="1.0" fill="#30c8d8"/><circle cx="103.0" cy="90.2" r="1.0" fill="#20c0d0"/><circle cx="141.9" cy="83.6" r="1.0" fill="#18b4c8"/><circle cx="107.2" cy="92.2" r="1.0" fill="#20c0d0"/><circle cx="131.7" cy="87.6" r="1.0" fill="#20c0d0"/><circle cx="147.9" cy="84.3" r="1.0" fill="#30c8d8"/><circle cx="85.9" cy="101.1" r="1.0" fill="#30c8d8"/><circle cx="105.8" cy="92.4" r="1.0" fill="#20c0d0"/><circle cx="127.2" cy="88.7" r="1.0" fill="#18b4c8"/><circle cx="92.9" cy="99.0" r="1.0" fill="#18b4c8"/><circle cx="121.6" cy="87.2" r="1.0" fill="#30c8d8"/><circle cx="106.7" cy="101.5" r="1.0" fill="#28c8d8"/><circle cx="144.9" cy="86.5" r="1.0" fill="#18b4c8"/><circle cx="149.9" cy="83.0" r="1.0" fill="#18b4c8"/><circle cx="141.0" cy="83.2" r="1.0" fill="#18b4c8"/><circle cx="131.0" cy="86.9" r="1.0" fill="#18b4c8"/><circle cx="106.8" cy="87.1" r="1.0" fill="#1cbcd0"/><circle cx="147.8" cy="82.9" r="1.0" fill="#1cbcd0"/><circle cx="140.5" cy="85.9" r="1.0" fill="#30c8d8"/><circle cx="126.1" cy="88.0" r="1.0" fill="#18b4c8"/><circle cx="99.6" cy="96.7" r="1.0" fill="#20c0d0"/><circle cx="148.1" cy="82.5" r="1.0" fill="#1cbcd0"/><circle cx="147.3" cy="83.2" r="1.0" fill="#20c0d0"/><circle cx="107.6" cy="95.5" r="1.0" fill="#30c8d8"/><circle cx="98.6" cy="93.3" r="1.0" fill="#18b4c8"/><circle cx="145.2" cy="82.7" r="1.0" fill="#1cbcd0"/><circle cx="142.9" cy="83.2" r="1.0" fill="#28c8d8"/><circle cx="98.6" cy="98.4" r="1.0" fill="#28c8d8"/><circle cx="123.6" cy="89.7" r="1.0" fill="#28c8d8"/><circle cx="84.1" cy="101.8" r="1.0" fill="#28c8d8"/><circle cx="148.6" cy="81.9" r="1.0" fill="#18b4c8"/><circle cx="143.4" cy="83.2" r="1.0" fill="#18b4c8"/><circle cx="149.3" cy="83.2" r="1.0" fill="#18b4c8"/><circle cx="107.8" cy="89.0" r="1.0" fill="#30c8d8"/><circle cx="91.0" cy="98.6" r="1.0" fill="#28c8d8"/><circle cx="137.3" cy="88.4" r="1.0" fill="#30c8d8"/><circle cx="108.3" cy="91.2" r="1.0" fill="#18b4c8"/><circle cx="151.8" cy="81.1" r="1.0" fill="#30c8d8"/><circle cx="135.1" cy="87.8" r="1.0" fill="#28c8d8"/><circle cx="137.8" cy="86.4" r="1.0" fill="#1cbcd0"/><circle cx="86.2" cy="100.2" r="1.0" fill="#28c8d8"/><circle cx="150.3" cy="80.9" r="1.0" fill="#30c8d8"/><circle cx="147.1" cy="82.0" r="1.0" fill="#1cbcd0"/><circle cx="147.0" cy="84.2" r="1.0" fill="#28c8d8"/><circle cx="145.7" cy="83.3" r="1.0" fill="#18b4c8"/><circle cx="141.7" cy="83.4" r="1.0" fill="#1cbcd0"/><circle cx="119.3" cy="86.3" r="1.0" fill="#28c8d8"/><circle cx="95.7" cy="97.9" r="1.0" fill="#18b4c8"/><circle cx="139.9" cy="83.4" r="1.0" fill="#18b4c8"/><circle cx="84.3" cy="102.6" r="1.0" fill="#1cbcd0"/><circle cx="116.6" cy="90.9" r="1.0" fill="#28c8d8"/><circle cx="97.5" cy="97.9" r="1.0" fill="#18b4c8"/><circle cx="120.0" cy="88.5" r="1.0" fill="#1cbcd0"/><circle cx="146.6" cy="81.9" r="1.0" fill="#30c8d8"/><circle cx="142.6" cy="83.2" r="1.0" fill="#28c8d8"/><circle cx="101.2" cy="98.9" r="1.0" fill="#1cbcd0"/><circle cx="136.9" cy="86.1" r="1.0" fill="#18b4c8"/><circle cx="139.1" cy="85.0" r="1.0" fill="#30c8d8"/><circle cx="100.1" cy="95.8" r="1.0" fill="#18b4c8"/><circle cx="100.1" cy="96.0" r="1.0" fill="#28c8d8"/><circle cx="137.0" cy="83.9" r="1.0" fill="#18b4c8"/><circle cx="146.6" cy="83.4" r="1.0" fill="#20c0d0"/><circle cx="118.0" cy="93.4" r="1.0" fill="#18b4c8"/><circle cx="131.2" cy="87.0" r="1.0" fill="#30c8d8"/><circle cx="122.5" cy="91.6" r="1.0" fill="#30c8d8"/><circle cx="131.9" cy="86.5" r="1.0" fill="#20c0d0"/><circle cx="140.7" cy="84.5" r="1.0" fill="#28c8d8"/><circle cx="88.1" cy="98.2" r="1.0" fill="#1cbcd0"/><circle cx="114.0" cy="92.1" r="1.0" fill="#18b4c8"/><circle cx="109.0" cy="96.3" r="1.0" fill="#18b4c8"/><circle cx="133.8" cy="84.3" r="1.0" fill="#1cbcd0"/><circle cx="98.4" cy="93.4" r="1.0" fill="#30c8d8"/><circle cx="138.8" cy="82.9" r="1.0" fill="#1cbcd0"/><circle cx="105.7" cy="88.9" r="1.0" fill="#20c0d0"/><circle cx="133.8" cy="87.8" r="1.0" fill="#18b4c8"/><circle cx="139.5" cy="85.4" r="1.0" fill="#30c8d8"/><circle cx="126.7" cy="87.8" r="1.0" fill="#1cbcd0"/><circle cx="122.2" cy="90.9" r="1.0" fill="#20c0d0"/><circle cx="118.2" cy="88.3" r="1.0" fill="#20c0d0"/><circle cx="87.4" cy="99.7" r="1.0" fill="#20c0d0"/><circle cx="140.6" cy="87.2" r="1.0" fill="#30c8d8"/><circle cx="142.4" cy="85.7" r="1.0" fill="#18b4c8"/><circle cx="152.0" cy="82.6" r="1.0" fill="#28c8d8"/><circle cx="129.4" cy="92.9" r="1.0" fill="#18b4c8"/><circle cx="127.6" cy="89.0" r="1.0" fill="#18b4c8"/><circle cx="120.8" cy="88.9" r="1.0" fill="#30c8d8"/><circle cx="95.3" cy="94.2" r="1.0" fill="#30c8d8"/><circle cx="107.2" cy="93.6" r="1.0" fill="#28c8d8"/><circle cx="108.8" cy="90.5" r="1.0" fill="#1cbcd0"/><circle cx="107.1" cy="90.2" r="1.0" fill="#1cbcd0"/><circle cx="131.1" cy="86.9" r="1.0" fill="#1cbcd0"/><circle cx="153.3" cy="83.1" r="1.0" fill="#1cbcd0"/><circle cx="91.4" cy="99.8" r="1.0" fill="#20c0d0"/><circle cx="110.7" cy="84.7" r="1.0" fill="#20c0d0"/><circle cx="90.9" cy="98.7" r="1.0" fill="#18b4c8"/><circle cx="110.3" cy="92.1" r="1.0" fill="#1cbcd0"/><circle cx="121.2" cy="88.6" r="1.0" fill="#30c8d8"/><circle cx="116.4" cy="88.4" r="1.0" fill="#1cbcd0"/><circle cx="88.4" cy="100.9" r="1.0" fill="#30c8d8"/><circle cx="148.3" cy="83.9" r="1.0" fill="#20c0d0"/><circle cx="98.5" cy="101.7" r="1.0" fill="#30c8d8"/><circle cx="105.1" cy="89.6" r="1.0" fill="#28c8d8"/><circle cx="147.3" cy="83.2" r="1.0" fill="#18b4c8"/><circle cx="143.0" cy="83.2" r="1.0" fill="#28c8d8"/><circle cx="130.7" cy="88.9" r="1.0" fill="#20c0d0"/><circle cx="114.2" cy="91.7" r="1.0" fill="#1cbcd0"/><circle cx="146.6" cy="82.8" r="1.0" fill="#30c8d8"/><circle cx="141.2" cy="84.9" r="1.0" fill="#28c8d8"/><circle cx="123.8" cy="84.5" r="1.0" fill="#28c8d8"/><circle cx="122.6" cy="89.2" r="1.0" fill="#18b4c8"/><circle cx="146.6" cy="82.5" r="1.0" fill="#20c0d0"/><circle cx="94.8" cy="97.0" r="1.0" fill="#30c8d8"/><circle cx="146.2" cy="81.2" r="1.0" fill="#28c8d8"/><circle cx="111.2" cy="91.9" r="1.0" fill="#28c8d8"/><circle cx="118.2" cy="90.8" r="1.0" fill="#18b4c8"/><circle cx="149.4" cy="82.4" r="1.0" fill="#20c0d0"/><circle cx="90.6" cy="96.8" r="1.0" fill="#20c0d0"/><circle cx="116.6" cy="91.7" r="1.0" fill="#18b4c8"/><circle cx="137.5" cy="84.1" r="1.0" fill="#20c0d0"/><circle cx="152.1" cy="79.8" r="1.0" fill="#30c8d8"/><circle cx="127.5" cy="89.2" r="1.0" fill="#18b4c8"/><circle cx="104.8" cy="93.7" r="1.0" fill="#18b4c8"/><circle cx="137.7" cy="84.2" r="1.0" fill="#20c0d0"/><circle cx="143.0" cy="81.9" r="1.0" fill="#30c8d8"/><circle cx="122.4" cy="91.3" r="1.0" fill="#18b4c8"/><circle cx="128.3" cy="86.2" r="1.0" fill="#1cbcd0"/><circle cx="104.9" cy="99.3" r="1.0" fill="#28c8d8"/><circle cx="132.9" cy="87.5" r="1.0" fill="#1cbcd0"/><circle cx="98.3" cy="101.0" r="1.0" fill="#20c0d0"/><circle cx="86.2" cy="100.9" r="1.0" fill="#28c8d8"/><circle cx="151.1" cy="81.6" r="1.0" fill="#20c0d0"/><circle cx="86.9" cy="98.0" r="1.0" fill="#20c0d0"/><circle cx="110.1" cy="88.5" r="1.0" fill="#18b4c8"/><circle cx="151.0" cy="82.7" r="1.0" fill="#1cbcd0"/><circle cx="147.1" cy="82.5" r="1.0" fill="#30c8d8"/><circle cx="110.2" cy="89.5" r="1.0" fill="#18b4c8"/><circle cx="133.7" cy="84.6" r="1.0" fill="#1cbcd0"/><circle cx="120.5" cy="93.0" r="1.0" fill="#28c8d8"/><circle cx="128.7" cy="90.6" r="1.0" fill="#18b4c8"/><circle cx="140.8" cy="87.8" r="1.0" fill="#28c8d8"/><circle cx="91.7" cy="96.0" r="1.0" fill="#18b4c8"/><circle cx="134.5" cy="88.5" r="1.0" fill="#18b4c8"/><circle cx="130.5" cy="88.3" r="1.0" fill="#20c0d0"/><circle cx="93.2" cy="92.4" r="1.0" fill="#20c0d0"/><circle cx="112.9" cy="93.2" r="1.0" fill="#30c8d8"/><circle cx="132.9" cy="89.4" r="1.0" fill="#20c0d0"/><circle cx="150.8" cy="81.9" r="1.0" fill="#1cbcd0"/><circle cx="126.2" cy="85.2" r="1.0" fill="#28c8d8"/><circle cx="140.7" cy="85.0" r="1.0" fill="#30c8d8"/><circle cx="85.2" cy="99.6" r="1.0" fill="#18b4c8"/><circle cx="151.3" cy="80.8" r="1.0" fill="#20c0d0"/><circle cx="120.3" cy="89.8" r="1.0" fill="#1cbcd0"/><circle cx="111.3" cy="100.1" r="1.0" fill="#18b4c8"/><circle cx="134.6" cy="85.5" r="1.0" fill="#28c8d8"/><circle cx="96.0" cy="96.2" r="1.0" fill="#30c8d8"/><circle cx="152.0" cy="82.1" r="1.0" fill="#1cbcd0"/><circle cx="126.3" cy="87.8" r="1.0" fill="#30c8d8"/><circle cx="150.2" cy="80.9" r="1.0" fill="#30c8d8"/><circle cx="112.1" cy="95.1" r="1.0" fill="#20c0d0"/><circle cx="123.6" cy="88.7" r="1.0" fill="#30c8d8"/><circle cx="115.4" cy="94.5" r="1.0" fill="#18b4c8"/><circle cx="148.9" cy="82.0" r="1.0" fill="#20c0d0"/><circle cx="146.8" cy="83.9" r="1.0" fill="#1cbcd0"/><circle cx="140.3" cy="87.1" r="1.0" fill="#18b4c8"/><circle cx="110.8" cy="87.6" r="1.0" fill="#28c8d8"/><circle cx="132.8" cy="87.2" r="1.0" fill="#18b4c8"/><circle cx="142.2" cy="84.7" r="1.0" fill="#30c8d8"/><circle cx="106.5" cy="91.4" r="1.0" fill="#28c8d8"/><circle cx="117.3" cy="90.5" r="1.0" fill="#30c8d8"/><circle cx="148.3" cy="83.4" r="1.0" fill="#20c0d0"/><circle cx="110.1" cy="90.0" r="1.0" fill="#1cbcd0"/><circle cx="140.6" cy="84.5" r="1.0" fill="#28c8d8"/><circle cx="135.1" cy="86.9" r="1.0" fill="#28c8d8"/><circle cx="122.1" cy="91.8" r="1.0" fill="#28c8d8"/><circle cx="153.2" cy="80.0" r="1.0" fill="#28c8d8"/><circle cx="100.8" cy="92.1" r="1.0" fill="#30c8d8"/><circle cx="137.8" cy="84.4" r="1.0" fill="#30c8d8"/><circle cx="116.3" cy="94.1" r="1.0" fill="#30c8d8"/><circle cx="92.8" cy="100.7" r="1.0" fill="#30c8d8"/><circle cx="107.9" cy="90.0" r="1.0" fill="#20c0d0"/><circle cx="101.6" cy="96.4" r="1.0" fill="#28c8d8"/><circle cx="134.6" cy="84.6" r="1.0" fill="#18b4c8"/><circle cx="131.3" cy="86.3" r="1.0" fill="#30c8d8"/><circle cx="148.8" cy="82.3" r="1.0" fill="#18b4c8"/><circle cx="112.6" cy="86.6" r="1.0" fill="#30c8d8"/><circle cx="149.3" cy="82.5" r="1.0" fill="#20c0d0"/><circle cx="132.8" cy="89.6" r="1.0" fill="#18b4c8"/><circle cx="123.5" cy="87.2" r="1.0" fill="#30c8d8"/><circle cx="135.3" cy="84.6" r="1.0" fill="#18b4c8"/><circle cx="123.1" cy="88.0" r="1.0" fill="#28c8d8"/><circle cx="95.5" cy="101.5" r="1.0" fill="#1cbcd0"/><circle cx="154.5" cy="82.1" r="1.0" fill="#18b4c8"/><circle cx="91.9" cy="97.3" r="1.0" fill="#28c8d8"/><circle cx="123.4" cy="91.2" r="1.0" fill="#28c8d8"/><circle cx="110.7" cy="91.0" r="1.0" fill="#20c0d0"/><circle cx="108.0" cy="93.5" r="1.0" fill="#20c0d0"/><circle cx="137.0" cy="88.4" r="1.0" fill="#28c8d8"/><circle cx="105.3" cy="92.3" r="1.0" fill="#20c0d0"/><circle cx="87.7" cy="103.0" r="1.0" fill="#20c0d0"/><circle cx="89.3" cy="98.9" r="1.0" fill="#30c8d8"/><circle cx="110.6" cy="89.8" r="1.0" fill="#28c8d8"/><circle cx="132.7" cy="85.3" r="1.0" fill="#20c0d0"/><circle cx="136.2" cy="86.0" r="1.0" fill="#18b4c8"/><circle cx="150.1" cy="83.1" r="1.0" fill="#20c0d0"/><circle cx="138.1" cy="84.7" r="1.0" fill="#28c8d8"/><circle cx="116.3" cy="87.1" r="1.0" fill="#1cbcd0"/><circle cx="117.2" cy="95.7" r="1.0" fill="#30c8d8"/><circle cx="118.2" cy="91.6" r="1.0" fill="#28c8d8"/><circle cx="147.6" cy="81.1" r="1.0" fill="#20c0d0"/><circle cx="110.0" cy="86.8" r="1.0" fill="#28c8d8"/><circle cx="83.2" cy="100.5" r="1.0" fill="#28c8d8"/><circle cx="119.9" cy="87.4" r="1.0" fill="#18b4c8"/><circle cx="119.7" cy="94.5" r="1.0" fill="#18b4c8"/><circle cx="89.7" cy="99.7" r="1.0" fill="#1cbcd0"/><circle cx="103.0" cy="90.1" r="1.0" fill="#18b4c8"/><circle cx="112.7" cy="93.8" r="1.0" fill="#28c8d8"/><circle cx="153.2" cy="79.4" r="1.0" fill="#1cbcd0"/><circle cx="111.5" cy="95.1" r="1.0" fill="#18b4c8"/><circle cx="126.5" cy="90.4" r="1.0" fill="#20c0d0"/><circle cx="146.7" cy="81.6" r="1.0" fill="#20c0d0"/><circle cx="106.1" cy="91.7" r="1.0" fill="#1cbcd0"/><circle cx="153.5" cy="81.8" r="1.0" fill="#30c8d8"/><circle cx="94.8" cy="96.3" r="1.0" fill="#18b4c8"/><circle cx="116.1" cy="92.1" r="1.0" fill="#28c8d8"/><circle cx="103.7" cy="97.9" r="1.0" fill="#1cbcd0"/><circle cx="132.3" cy="87.1" r="1.0" fill="#18b4c8"/><circle cx="92.7" cy="96.3" r="1.0" fill="#30c8d8"/><circle cx="126.3" cy="90.4" r="1.0" fill="#28c8d8"/><circle cx="138.0" cy="86.8" r="1.0" fill="#30c8d8"/><circle cx="98.1" cy="97.1" r="1.0" fill="#30c8d8"/><circle cx="150.6" cy="83.3" r="1.0" fill="#1cbcd0"/><circle cx="121.3" cy="91.6" r="1.0" fill="#20c0d0"/><circle cx="140.7" cy="86.1" r="1.0" fill="#28c8d8"/><circle cx="118.8" cy="87.8" r="1.0" fill="#30c8d8"/><circle cx="96.7" cy="96.4" r="1.0" fill="#18b4c8"/><circle cx="92.4" cy="95.1" r="1.0" fill="#28c8d8"/><circle cx="143.7" cy="82.5" r="1.0" fill="#30c8d8"/><circle cx="115.1" cy="92.8" r="1.0" fill="#1cbcd0"/><circle cx="139.2" cy="83.6" r="1.0" fill="#18b4c8"/><circle cx="137.4" cy="87.0" r="1.0" fill="#18b4c8"/><circle cx="119.1" cy="87.5" r="1.0" fill="#30c8d8"/><circle cx="136.6" cy="86.5" r="1.0" fill="#1cbcd0"/><circle cx="108.2" cy="94.2" r="1.0" fill="#20c0d0"/><circle cx="118.3" cy="92.0" r="1.0" fill="#30c8d8"/><circle cx="86.0" cy="100.8" r="1.0" fill="#1cbcd0"/><circle cx="110.5" cy="91.5" r="1.0" fill="#18b4c8"/><circle cx="117.3" cy="91.2" r="1.0" fill="#30c8d8"/><circle cx="133.8" cy="87.3" r="1.0" fill="#28c8d8"/><circle cx="113.1" cy="92.4" r="1.0" fill="#30c8d8"/><circle cx="96.6" cy="93.8" r="1.0" fill="#30c8d8"/><circle cx="102.4" cy="93.1" r="1.0" fill="#30c8d8"/><circle cx="142.7" cy="84.0" r="1.0" fill="#30c8d8"/><circle cx="126.3" cy="89.4" r="1.0" fill="#30c8d8"/><circle cx="109.6" cy="89.0" r="1.0" fill="#20c0d0"/><circle cx="85.0" cy="101.6" r="1.0" fill="#1cbcd0"/><circle cx="93.6" cy="98.0" r="1.0" fill="#28c8d8"/><circle cx="150.6" cy="80.4" r="1.0" fill="#18b4c8"/><circle cx="104.5" cy="95.6" r="1.0" fill="#20c0d0"/><circle cx="137.0" cy="86.8" r="1.0" fill="#28c8d8"/><circle cx="150.0" cy="80.4" r="1.0" fill="#28c8d8"/><circle cx="108.8" cy="93.3" r="1.0" fill="#28c8d8"/><circle cx="128.7" cy="84.2" r="1.0" fill="#18b4c8"/><circle cx="145.5" cy="84.9" r="1.0" fill="#18b4c8"/><circle cx="92.1" cy="98.4" r="1.0" fill="#20c0d0"/><circle cx="109.0" cy="92.6" r="1.0" fill="#30c8d8"/><circle cx="141.0" cy="85.8" r="1.0" fill="#18b4c8"/><circle cx="103.6" cy="95.9" r="1.0" fill="#20c0d0"/><circle cx="149.3" cy="83.2" r="1.0" fill="#28c8d8"/><circle cx="110.1" cy="91.7" r="1.0" fill="#28c8d8"/><circle cx="86.3" cy="99.3" r="1.0" fill="#18b4c8"/><circle cx="120.7" cy="90.6" r="1.0" fill="#20c0d0"/><circle cx="152.8" cy="81.7" r="1.0" fill="#1cbcd0"/><circle cx="152.6" cy="82.7" r="1.0" fill="#30c8d8"/><circle cx="148.2" cy="81.8" r="1.0" fill="#18b4c8"/><circle cx="120.8" cy="88.6" r="1.0" fill="#28c8d8"/><circle cx="145.8" cy="82.7" r="1.0" fill="#1cbcd0"/><circle cx="134.9" cy="88.0" r="1.0" fill="#30c8d8"/><circle cx="140.9" cy="84.4" r="1.0" fill="#1cbcd0"/><circle cx="100.1" cy="95.6" r="1.0" fill="#18b4c8"/><circle cx="102.5" cy="95.5" r="1.0" fill="#1cbcd0"/><circle cx="112.1" cy="94.9" r="1.0" fill="#28c8d8"/><circle cx="124.6" cy="88.5" r="1.0" fill="#30c8d8"/><circle cx="148.8" cy="82.6" r="1.0" fill="#18b4c8"/><circle cx="99.5" cy="96.7" r="1.0" fill="#30c8d8"/><circle cx="110.2" cy="93.9" r="1.0" fill="#20c0d0"/><circle cx="153.1" cy="82.2" r="1.0" fill="#30c8d8"/><circle cx="124.5" cy="93.0" r="1.0" fill="#18b4c8"/><circle cx="95.0" cy="95.4" r="1.0" fill="#18b4c8"/><circle cx="122.6" cy="86.5" r="1.0" fill="#18b4c8"/><circle cx="95.3" cy="102.0" r="1.0" fill="#20c0d0"/><circle cx="149.7" cy="84.4" r="1.0" fill="#18b4c8"/><circle cx="144.5" cy="84.7" r="1.0" fill="#20c0d0"/><circle cx="90.4" cy="103.2" r="1.0" fill="#30c8d8"/><circle cx="135.8" cy="87.6" r="1.0" fill="#28c8d8"/><circle cx="87.6" cy="98.8" r="1.0" fill="#30c8d8"/><circle cx="112.3" cy="87.8" r="1.0" fill="#18b4c8"/><circle cx="146.2" cy="81.4" r="1.0" fill="#1cbcd0"/><circle cx="144.1" cy="84.3" r="1.0" fill="#20c0d0"/><circle cx="122.9" cy="95.7" r="1.0" fill="#28c8d8"/><circle cx="96.9" cy="97.3" r="1.0" fill="#28c8d8"/><circle cx="121.2" cy="89.1" r="1.0" fill="#28c8d8"/><circle cx="128.9" cy="86.1" r="1.0" fill="#20c0d0"/><circle cx="113.1" cy="90.9" r="1.0" fill="#20c0d0"/><circle cx="103.4" cy="95.3" r="1.0" fill="#20c0d0"/><circle cx="118.5" cy="94.5" r="1.0" fill="#20c0d0"/><circle cx="103.6" cy="92.8" r="1.0" fill="#18b4c8"/><circle cx="145.5" cy="81.9" r="1.0" fill="#30c8d8"/><circle cx="117.2" cy="98.1" r="1.0" fill="#30c8d8"/><circle cx="120.3" cy="92.0" r="1.0" fill="#1cbcd0"/><circle cx="148.9" cy="82.1" r="1.0" fill="#1cbcd0"/><circle cx="137.0" cy="86.1" r="1.0" fill="#30c8d8"/><circle cx="144.5" cy="83.3" r="1.0" fill="#1cbcd0"/><circle cx="126.0" cy="86.8" r="1.0" fill="#30c8d8"/><circle cx="102.8" cy="98.0" r="1.0" fill="#20c0d0"/><circle cx="129.2" cy="87.6" r="1.0" fill="#30c8d8"/><circle cx="115.9" cy="87.8" r="1.0" fill="#28c8d8"/><circle cx="114.9" cy="93.9" r="1.0" fill="#28c8d8"/><circle cx="133.0" cy="87.1" r="1.0" fill="#18b4c8"/><circle cx="132.7" cy="87.3" r="1.0" fill="#18b4c8"/><circle cx="113.4" cy="93.8" r="1.0" fill="#1cbcd0"/><circle cx="101.0" cy="100.2" r="1.0" fill="#18b4c8"/><circle cx="134.7" cy="84.0" r="1.0" fill="#18b4c8"/><circle cx="83.9" cy="99.9" r="1.0" fill="#20c0d0"/><circle cx="134.7" cy="83.6" r="1.0" fill="#30c8d8"/><circle cx="146.0" cy="82.1" r="1.0" fill="#18b4c8"/><circle cx="107.6" cy="91.3" r="1.0" fill="#20c0d0"/><circle cx="112.7" cy="93.1" r="1.0" fill="#1cbcd0"/><circle cx="128.9" cy="88.7" r="1.0" fill="#18b4c8"/><circle cx="131.9" cy="88.7" r="1.0" fill="#20c0d0"/><circle cx="137.3" cy="84.6" r="1.0" fill="#28c8d8"/><circle cx="116.3" cy="92.7" r="1.0" fill="#28c8d8"/><circle cx="135.4" cy="85.6" r="1.0" fill="#20c0d0"/><circle cx="123.7" cy="86.5" r="1.0" fill="#18b4c8"/><circle cx="120.3" cy="89.4" r="1.0" fill="#28c8d8"/><circle cx="94.7" cy="97.8" r="1.0" fill="#30c8d8"/><circle cx="109.4" cy="96.1" r="1.0" fill="#18b4c8"/><circle cx="133.6" cy="85.1" r="1.0" fill="#18b4c8"/><circle cx="129.3" cy="89.4" r="1.0" fill="#1cbcd0"/><circle cx="148.2" cy="81.1" r="1.0" fill="#30c8d8"/><circle cx="103.8" cy="93.7" r="1.0" fill="#18b4c8"/><circle cx="149.6" cy="81.5" r="1.0" fill="#1cbcd0"/><circle cx="119.1" cy="94.2" r="1.0" fill="#18b4c8"/><circle cx="100.6" cy="96.0" r="1.0" fill="#18b4c8"/><circle cx="113.6" cy="92.1" r="1.0" fill="#30c8d8"/><circle cx="134.0" cy="85.7" r="1.0" fill="#1cbcd0"/><circle cx="97.4" cy="93.5" r="1.0" fill="#1cbcd0"/><circle cx="133.0" cy="85.0" r="1.0" fill="#28c8d8"/><circle cx="102.4" cy="97.9" r="1.0" fill="#1cbcd0"/><circle cx="86.0" cy="102.9" r="1.0" fill="#30c8d8"/><circle cx="146.7" cy="81.5" r="1.0" fill="#28c8d8"/><circle cx="93.3" cy="99.4" r="1.0" fill="#28c8d8"/><circle cx="113.8" cy="97.4" r="1.0" fill="#28c8d8"/><circle cx="136.2" cy="86.9" r="1.0" fill="#28c8d8"/><circle cx="144.4" cy="83.3" r="1.0" fill="#20c0d0"/><circle cx="118.1" cy="81.5" r="1.0" fill="#1cbcd0"/><circle cx="129.2" cy="87.5" r="1.0" fill="#20c0d0"/><circle cx="131.5" cy="83.0" r="1.0" fill="#20c0d0"/><circle cx="142.7" cy="85.7" r="1.0" fill="#20c0d0"/><circle cx="140.2" cy="82.4" r="1.0" fill="#1cbcd0"/><circle cx="138.7" cy="83.8" r="1.0" fill="#30c8d8"/><circle cx="122.0" cy="90.1" r="1.0" fill="#1cbcd0"/><circle cx="139.6" cy="85.6" r="1.0" fill="#18b4c8"/><circle cx="149.9" cy="83.4" r="1.0" fill="#28c8d8"/><circle cx="138.1" cy="86.5" r="1.0" fill="#20c0d0"/><circle cx="132.2" cy="88.3" r="1.0" fill="#20c0d0"/><circle cx="127.6" cy="89.0" r="1.0" fill="#20c0d0"/><circle cx="99.1" cy="91.2" r="1.0" fill="#28c8d8"/><circle cx="116.8" cy="91.8" r="1.0" fill="#28c8d8"/><circle cx="106.3" cy="95.7" r="1.0" fill="#18b4c8"/><circle cx="119.3" cy="93.7" r="1.0" fill="#18b4c8"/><circle cx="149.7" cy="81.4" r="1.0" fill="#20c0d0"/><circle cx="128.0" cy="89.3" r="1.0" fill="#30c8d8"/><circle cx="152.9" cy="80.4" r="1.0" fill="#28c8d8"/><circle cx="121.9" cy="92.8" r="1.0" fill="#20c0d0"/><circle cx="91.6" cy="97.0" r="1.0" fill="#20c0d0"/><circle cx="145.9" cy="85.0" r="1.0" fill="#18b4c8"/><circle cx="129.0" cy="86.8" r="1.0" fill="#18b4c8"/><circle cx="103.4" cy="85.0" r="1.0" fill="#20c0d0"/><circle cx="143.1" cy="81.8" r="1.0" fill="#30c8d8"/><circle cx="98.9" cy="94.9" r="1.0" fill="#20c0d0"/><circle cx="113.2" cy="87.4" r="1.0" fill="#1cbcd0"/><circle cx="148.3" cy="83.2" r="1.0" fill="#28c8d8"/><circle cx="98.2" cy="99.1" r="1.0" fill="#1cbcd0"/><circle cx="95.9" cy="98.8" r="1.0" fill="#30c8d8"/><circle cx="149.5" cy="81.4" r="1.0" fill="#20c0d0"/><circle cx="129.4" cy="86.7" r="1.0" fill="#20c0d0"/><circle cx="100.0" cy="90.2" r="1.0" fill="#18b4c8"/><circle cx="130.6" cy="86.3" r="1.0" fill="#30c8d8"/><circle cx="113.9" cy="96.4" r="1.0" fill="#20c0d0"/><circle cx="124.2" cy="93.6" r="1.0" fill="#30c8d8"/><circle cx="98.7" cy="95.1" r="1.0" fill="#28c8d8"/><circle cx="138.3" cy="82.7" r="1.0" fill="#30c8d8"/><circle cx="132.4" cy="86.8" r="1.0" fill="#28c8d8"/><circle cx="137.8" cy="84.1" r="1.0" fill="#30c8d8"/><circle cx="130.3" cy="86.7" r="1.0" fill="#20c0d0"/><circle cx="151.0" cy="80.9" r="1.0" fill="#18b4c8"/><circle cx="100.7" cy="97.3" r="1.0" fill="#30c8d8"/><circle cx="131.0" cy="88.3" r="1.0" fill="#28c8d8"/><circle cx="129.0" cy="90.4" r="1.0" fill="#20c0d0"/><circle cx="115.4" cy="93.9" r="1.0" fill="#28c8d8"/><circle cx="146.9" cy="81.1" r="1.0" fill="#18b4c8"/><circle cx="149.6" cy="82.5" r="1.0" fill="#28c8d8"/><circle cx="137.2" cy="87.5" r="1.0" fill="#18b4c8"/><circle cx="150.9" cy="80.6" r="1.0" fill="#18b4c8"/><circle cx="87.3" cy="98.6" r="1.0" fill="#1cbcd0"/><circle cx="112.6" cy="92.7" r="1.0" fill="#28c8d8"/><circle cx="127.3" cy="86.9" r="1.0" fill="#20c0d0"/><circle cx="113.6" cy="82.5" r="1.0" fill="#1cbcd0"/><circle cx="119.9" cy="87.4" r="1.0" fill="#30c8d8"/><circle cx="116.7" cy="87.3" r="1.0" fill="#30c8d8"/><circle cx="128.5" cy="88.5" r="1.0" fill="#18b4c8"/><circle cx="131.3" cy="85.0" r="1.0" fill="#18b4c8"/><circle cx="150.1" cy="81.6" r="1.0" fill="#1cbcd0"/><circle cx="117.6" cy="88.6" r="1.0" fill="#1cbcd0"/><circle cx="139.8" cy="84.0" r="1.0" fill="#18b4c8"/><circle cx="144.4" cy="84.0" r="1.0" fill="#1cbcd0"/><circle cx="136.5" cy="84.9" r="1.0" fill="#18b4c8"/><circle cx="147.2" cy="82.5" r="1.0" fill="#1cbcd0"/><circle cx="120.1" cy="89.6" r="1.0" fill="#30c8d8"/><circle cx="85.5" cy="102.0" r="1.0" fill="#28c8d8"/><circle cx="138.9" cy="86.0" r="1.0" fill="#28c8d8"/><circle cx="113.5" cy="89.5" r="1.0" fill="#1cbcd0"/><circle cx="127.4" cy="86.5" r="1.0" fill="#18b4c8"/><circle cx="128.9" cy="85.5" r="1.0" fill="#28c8d8"/><circle cx="154.1" cy="80.7" r="1.0" fill="#20c0d0"/><circle cx="138.3" cy="83.4" r="1.0" fill="#30c8d8"/><circle cx="110.1" cy="93.1" r="1.0" fill="#20c0d0"/><circle cx="95.0" cy="98.7" r="1.0" fill="#18b4c8"/><circle cx="123.2" cy="88.1" r="1.0" fill="#18b4c8"/><circle cx="90.7" cy="99.4" r="1.0" fill="#18b4c8"/><circle cx="147.8" cy="80.7" r="1.0" fill="#28c8d8"/><circle cx="101.2" cy="90.0" r="1.0" fill="#28c8d8"/><circle cx="109.8" cy="86.0" r="1.0" fill="#28c8d8"/><circle cx="136.8" cy="86.2" r="1.0" fill="#1cbcd0"/><circle cx="140.5" cy="84.1" r="1.0" fill="#18b4c8"/><circle cx="128.5" cy="88.7" r="1.0" fill="#1cbcd0"/><circle cx="146.9" cy="83.9" r="1.0" fill="#28c8d8"/><circle cx="110.9" cy="90.2" r="1.0" fill="#28c8d8"/><circle cx="119.1" cy="91.2" r="1.0" fill="#18b4c8"/><circle cx="135.5" cy="84.0" r="1.0" fill="#1cbcd0"/><circle cx="136.7" cy="85.4" r="1.0" fill="#18b4c8"/><circle cx="142.1" cy="83.1" r="1.0" fill="#20c0d0"/><circle cx="136.8" cy="85.0" r="1.0" fill="#18b4c8"/><circle cx="87.3" cy="100.3" r="1.0" fill="#28c8d8"/><circle cx="99.7" cy="97.3" r="1.0" fill="#28c8d8"/><circle cx="129.4" cy="88.0" r="1.0" fill="#18b4c8"/><circle cx="147.6" cy="82.3" r="1.0" fill="#28c8d8"/><circle cx="152.6" cy="82.1" r="1.0" fill="#28c8d8"/><circle cx="148.8" cy="84.9" r="1.0" fill="#18b4c8"/><circle cx="94.5" cy="99.3" r="1.0" fill="#20c0d0"/><circle cx="107.7" cy="89.8" r="1.0" fill="#18b4c8"/><circle cx="106.1" cy="96.4" r="1.0" fill="#20c0d0"/><circle cx="144.7" cy="82.6" r="1.0" fill="#28c8d8"/><circle cx="93.8" cy="100.6" r="1.0" fill="#1cbcd0"/><circle cx="125.3" cy="91.5" r="1.0" fill="#1cbcd0"/><circle cx="99.3" cy="96.8" r="1.0" fill="#18b4c8"/><circle cx="150.5" cy="82.7" r="1.0" fill="#20c0d0"/><circle cx="119.6" cy="90.7" r="1.0" fill="#1cbcd0"/><circle cx="133.2" cy="87.2" r="1.0" fill="#18b4c8"/><circle cx="111.1" cy="87.8" r="1.0" fill="#30c8d8"/><circle cx="145.7" cy="82.9" r="1.0" fill="#30c8d8"/><circle cx="107.3" cy="90.8" r="1.0" fill="#1cbcd0"/><circle cx="113.7" cy="93.5" r="1.0" fill="#30c8d8"/><circle cx="147.7" cy="82.4" r="1.0" fill="#28c8d8"/><circle cx="152.5" cy="81.8" r="1.0" fill="#1cbcd0"/><circle cx="112.6" cy="86.0" r="1.0" fill="#30c8d8"/><circle cx="131.3" cy="85.6" r="1.0" fill="#1cbcd0"/><circle cx="95.3" cy="97.7" r="1.0" fill="#1cbcd0"/><circle cx="101.9" cy="96.6" r="1.0" fill="#18b4c8"/><circle cx="101.0" cy="97.1" r="1.0" fill="#1cbcd0"/><circle cx="113.6" cy="94.0" r="1.0" fill="#28c8d8"/><circle cx="146.3" cy="83.0" r="1.0" fill="#28c8d8"/><circle cx="150.0" cy="82.0" r="1.0" fill="#1cbcd0"/><circle cx="94.1" cy="97.9" r="1.0" fill="#1cbcd0"/><circle cx="109.4" cy="101.6" r="1.0" fill="#28c8d8"/><circle cx="105.6" cy="97.8" r="1.0" fill="#1cbcd0"/><circle cx="119.7" cy="93.9" r="1.0" fill="#28c8d8"/><circle cx="104.0" cy="96.5" r="1.0" fill="#28c8d8"/><circle cx="129.0" cy="93.7" r="1.0" fill="#30c8d8"/><circle cx="125.6" cy="91.0" r="1.0" fill="#1cbcd0"/><circle cx="127.7" cy="86.3" r="1.0" fill="#28c8d8"/><circle cx="115.5" cy="95.9" r="1.0" fill="#30c8d8"/><circle cx="102.0" cy="95.5" r="1.0" fill="#1cbcd0"/><circle cx="108.7" cy="93.7" r="1.0" fill="#18b4c8"/><circle cx="100.4" cy="99.5" r="1.0" fill="#18b4c8"/><circle cx="126.1" cy="92.5" r="1.0" fill="#18b4c8"/><circle cx="142.9" cy="83.8" r="1.0" fill="#18b4c8"/><circle cx="141.7" cy="83.6" r="1.0" fill="#18b4c8"/><circle cx="153.2" cy="82.0" r="1.0" fill="#30c8d8"/><circle cx="110.1" cy="96.5" r="1.0" fill="#20c0d0"/><circle cx="97.5" cy="101.9" r="1.0" fill="#18b4c8"/><circle cx="136.4" cy="86.3" r="1.0" fill="#18b4c8"/><circle cx="120.3" cy="91.2" r="1.0" fill="#28c8d8"/><circle cx="103.1" cy="92.2" r="1.0" fill="#30c8d8"/><circle cx="133.2" cy="88.3" r="1.0" fill="#1cbcd0"/><circle cx="137.5" cy="84.3" r="1.0" fill="#18b4c8"/><circle cx="123.3" cy="87.4" r="1.0" fill="#1cbcd0"/><circle cx="131.9" cy="86.3" r="1.0" fill="#1cbcd0"/><circle cx="149.8" cy="81.6" r="1.0" fill="#1cbcd0"/><circle cx="130.8" cy="83.0" r="1.0" fill="#28c8d8"/><circle cx="126.7" cy="88.1" r="1.0" fill="#1cbcd0"/><circle cx="142.3" cy="83.5" r="1.0" fill="#1cbcd0"/><circle cx="147.5" cy="82.3" r="1.0" fill="#18b4c8"/><circle cx="117.6" cy="89.8" r="1.0" fill="#1cbcd0"/><circle cx="140.4" cy="84.3" r="1.0" fill="#1cbcd0"/><circle cx="117.9" cy="85.1" r="1.0" fill="#20c0d0"/><circle cx="106.1" cy="95.8" r="1.0" fill="#20c0d0"/><circle cx="92.6" cy="97.7" r="1.0" fill="#18b4c8"/><circle cx="114.6" cy="91.5" r="1.0" fill="#1cbcd0"/><circle cx="133.7" cy="85.8" r="1.0" fill="#18b4c8"/><circle cx="105.9" cy="91.4" r="1.0" fill="#30c8d8"/><circle cx="116.3" cy="85.0" r="1.0" fill="#18b4c8"/><circle cx="117.2" cy="94.4" r="1.0" fill="#1cbcd0"/><circle cx="115.6" cy="89.0" r="1.0" fill="#28c8d8"/><circle cx="118.8" cy="92.0" r="1.0" fill="#30c8d8"/><circle cx="132.3" cy="84.6" r="1.0" fill="#28c8d8"/><circle cx="139.5" cy="85.1" r="1.0" fill="#28c8d8"/><circle cx="149.7" cy="82.3" r="1.0" fill="#1cbcd0"/><circle cx="154.0" cy="81.4" r="1.0" fill="#20c0d0"/><circle cx="127.3" cy="91.0" r="1.0" fill="#18b4c8"/><circle cx="134.7" cy="85.6" r="1.0" fill="#20c0d0"/><circle cx="122.7" cy="91.4" r="1.0" fill="#20c0d0"/><circle cx="109.5" cy="96.7" r="1.0" fill="#1cbcd0"/><circle cx="107.1" cy="92.4" r="1.0" fill="#1cbcd0"/><circle cx="92.5" cy="95.5" r="1.0" fill="#28c8d8"/><circle cx="135.1" cy="87.1" r="1.0" fill="#18b4c8"/><circle cx="131.8" cy="90.0" r="1.0" fill="#18b4c8"/><circle cx="99.9" cy="96.3" r="1.0" fill="#20c0d0"/><circle cx="128.4" cy="89.0" r="1.0" fill="#18b4c8"/><circle cx="120.6" cy="89.4" r="1.0" fill="#20c0d0"/><circle cx="141.8" cy="86.2" r="1.0" fill="#28c8d8"/><circle cx="103.3" cy="94.5" r="1.0" fill="#20c0d0"/><circle cx="131.1" cy="86.9" r="1.0" fill="#20c0d0"/><circle cx="104.4" cy="92.3" r="1.0" fill="#1cbcd0"/><circle cx="106.5" cy="98.2" r="1.0" fill="#1cbcd0"/><circle cx="154.4" cy="80.8" r="1.0" fill="#20c0d0"/><circle cx="146.9" cy="81.3" r="1.0" fill="#18b4c8"/><circle cx="142.3" cy="86.0" r="1.0" fill="#28c8d8"/><circle cx="122.5" cy="92.7" r="1.0" fill="#30c8d8"/><circle cx="84.5" cy="97.5" r="1.0" fill="#1cbcd0"/><circle cx="143.4" cy="83.6" r="1.0" fill="#30c8d8"/><circle cx="110.7" cy="97.9" r="1.0" fill="#1cbcd0"/><circle cx="105.7" cy="91.6" r="1.0" fill="#18b4c8"/><circle cx="112.8" cy="89.7" r="1.0" fill="#30c8d8"/><circle cx="102.3" cy="95.3" r="1.0" fill="#18b4c8"/><circle cx="110.6" cy="97.6" r="1.0" fill="#30c8d8"/><circle cx="113.3" cy="95.4" r="1.0" fill="#20c0d0"/><circle cx="106.9" cy="95.9" r="1.0" fill="#20c0d0"/><circle cx="131.6" cy="85.9" r="1.0" fill="#1cbcd0"/><circle cx="137.3" cy="88.2" r="1.0" fill="#28c8d8"/><circle cx="117.5" cy="90.7" r="1.0" fill="#1cbcd0"/><circle cx="88.0" cy="94.5" r="1.0" fill="#30c8d8"/><circle cx="123.6" cy="88.3" r="1.0" fill="#20c0d0"/><circle cx="135.1" cy="87.2" r="1.0" fill="#20c0d0"/><circle cx="96.5" cy="98.2" r="1.0" fill="#28c8d8"/><circle cx="139.7" cy="87.6" r="1.0" fill="#28c8d8"/><circle cx="120.7" cy="92.4" r="1.0" fill="#28c8d8"/><circle cx="134.9" cy="84.6" r="1.0" fill="#1cbcd0"/><circle cx="95.8" cy="95.2" r="1.0" fill="#30c8d8"/><circle cx="111.1" cy="94.8" r="1.0" fill="#30c8d8"/><circle cx="115.9" cy="94.9" r="1.0" fill="#28c8d8"/><circle cx="147.5" cy="81.7" r="1.0" fill="#30c8d8"/><circle cx="142.9" cy="82.5" r="1.0" fill="#1cbcd0"/><circle cx="102.6" cy="95.9" r="1.0" fill="#28c8d8"/><circle cx="101.5" cy="93.3" r="1.0" fill="#28c8d8"/><circle cx="141.1" cy="85.5" r="1.0" fill="#1cbcd0"/><circle cx="131.5" cy="88.1" r="1.0" fill="#20c0d0"/><circle cx="101.8" cy="103.7" r="1.0" fill="#18b4c8"/><circle cx="115.4" cy="91.4" r="1.0" fill="#28c8d8"/><circle cx="133.2" cy="86.8" r="1.0" fill="#20c0d0"/><circle cx="148.9" cy="81.9" r="1.0" fill="#28c8d8"/><circle cx="104.1" cy="96.1" r="1.0" fill="#18b4c8"/><circle cx="113.9" cy="89.6" r="1.0" fill="#28c8d8"/><circle cx="118.6" cy="90.2" r="1.0" fill="#1cbcd0"/><circle cx="131.2" cy="87.5" r="1.0" fill="#20c0d0"/><circle cx="99.8" cy="93.4" r="1.0" fill="#30c8d8"/><circle cx="113.6" cy="95.3" r="1.0" fill="#20c0d0"/><circle cx="101.1" cy="97.8" r="1.0" fill="#20c0d0"/><circle cx="135.5" cy="87.3" r="1.0" fill="#30c8d8"/><circle cx="105.8" cy="97.9" r="1.0" fill="#28c8d8"/><circle cx="120.3" cy="85.9" r="1.0" fill="#28c8d8"/><circle cx="123.3" cy="87.8" r="1.0" fill="#30c8d8"/><circle cx="142.8" cy="81.9" r="1.0" fill="#30c8d8"/><circle cx="137.3" cy="84.3" r="1.0" fill="#28c8d8"/><circle cx="112.6" cy="91.3" r="1.0" fill="#18b4c8"/><circle cx="119.4" cy="92.6" r="1.0" fill="#28c8d8"/><circle cx="113.6" cy="88.1" r="1.0" fill="#20c0d0"/><circle cx="95.6" cy="101.6" r="1.0" fill="#28c8d8"/><circle cx="137.8" cy="85.5" r="1.0" fill="#1cbcd0"/><circle cx="128.7" cy="87.6" r="1.0" fill="#18b4c8"/><circle cx="129.0" cy="86.5" r="1.0" fill="#1cbcd0"/><circle cx="109.0" cy="97.2" r="1.0" fill="#28c8d8"/><circle cx="139.7" cy="83.5" r="1.0" fill="#30c8d8"/><circle cx="126.4" cy="86.9" r="1.0" fill="#18b4c8"/><circle cx="142.6" cy="82.6" r="1.0" fill="#20c0d0"/><circle cx="148.8" cy="81.2" r="1.0" fill="#18b4c8"/><circle cx="121.7" cy="88.2" r="1.0" fill="#30c8d8"/><circle cx="133.5" cy="84.2" r="1.0" fill="#30c8d8"/><circle cx="134.1" cy="85.4" r="1.0" fill="#28c8d8"/><circle cx="140.5" cy="85.9" r="1.0" fill="#30c8d8"/><circle cx="115.2" cy="87.6" r="1.0" fill="#1cbcd0"/><circle cx="138.9" cy="84.4" r="1.0" fill="#28c8d8"/><circle cx="141.0" cy="83.9" r="1.0" fill="#1cbcd0"/><circle cx="124.4" cy="91.5" r="1.0" fill="#18b4c8"/><circle cx="150.0" cy="81.5" r="1.0" fill="#20c0d0"/><circle cx="110.7" cy="93.7" r="1.0" fill="#1cbcd0"/><circle cx="133.1" cy="87.2" r="1.0" fill="#18b4c8"/><circle cx="84.9" cy="99.5" r="1.0" fill="#28c8d8"/><circle cx="122.0" cy="86.2" r="1.0" fill="#1cbcd0"/><circle cx="87.5" cy="100.1" r="1.0" fill="#1cbcd0"/><circle cx="116.6" cy="88.7" r="1.0" fill="#28c8d8"/><circle cx="101.3" cy="92.6" r="1.0" fill="#28c8d8"/><circle cx="126.6" cy="88.4" r="1.0" fill="#20c0d0"/><circle cx="106.1" cy="93.3" r="1.0" fill="#20c0d0"/><circle cx="116.2" cy="93.6" r="1.0" fill="#20c0d0"/><circle cx="105.4" cy="89.0" r="1.0" fill="#30c8d8"/><circle cx="139.7" cy="85.7" r="1.0" fill="#20c0d0"/><circle cx="102.7" cy="92.4" r="1.0" fill="#20c0d0"/><circle cx="105.9" cy="93.7" r="1.0" fill="#1cbcd0"/><circle cx="137.7" cy="86.9" r="1.0" fill="#1cbcd0"/><circle cx="110.8" cy="89.0" r="1.0" fill="#30c8d8"/><circle cx="144.6" cy="82.6" r="1.0" fill="#18b4c8"/><circle cx="136.8" cy="85.2" r="1.0" fill="#28c8d8"/><circle cx="131.5" cy="85.2" r="1.0" fill="#1cbcd0"/><circle cx="120.8" cy="93.4" r="1.0" fill="#1cbcd0"/><circle cx="94.7" cy="98.6" r="1.0" fill="#18b4c8"/><circle cx="120.0" cy="94.4" r="1.0" fill="#30c8d8"/><circle cx="90.9" cy="97.0" r="1.0" fill="#28c8d8"/><circle cx="129.2" cy="89.4" r="1.0" fill="#28c8d8"/><circle cx="98.6" cy="98.1" r="1.0" fill="#18b4c8"/><circle cx="93.3" cy="96.9" r="1.0" fill="#30c8d8"/><circle cx="148.7" cy="79.7" r="1.0" fill="#18b4c8"/><circle cx="122.6" cy="88.5" r="1.0" fill="#28c8d8"/><circle cx="99.4" cy="97.3" r="1.0" fill="#1cbcd0"/><circle cx="109.9" cy="94.7" r="1.0" fill="#20c0d0"/><circle cx="120.7" cy="87.4" r="1.0" fill="#18b4c8"/><circle cx="119.8" cy="92.0" r="1.0" fill="#28c8d8"/><circle cx="125.5" cy="89.4" r="1.0" fill="#28c8d8"/><circle cx="132.6" cy="84.8" r="1.0" fill="#30c8d8"/><circle cx="152.5" cy="80.1" r="1.0" fill="#28c8d8"/><circle cx="137.3" cy="83.0" r="1.0" fill="#30c8d8"/><circle cx="136.7" cy="84.9" r="1.0" fill="#1cbcd0"/><circle cx="120.0" cy="88.9" r="1.0" fill="#28c8d8"/><circle cx="90.1" cy="97.8" r="1.0" fill="#18b4c8"/><circle cx="133.5" cy="87.3" r="1.0" fill="#1cbcd0"/><circle cx="129.6" cy="88.3" r="1.0" fill="#1cbcd0"/><circle cx="119.5" cy="88.0" r="1.0" fill="#1cbcd0"/><circle cx="144.9" cy="84.5" r="1.0" fill="#1cbcd0"/><circle cx="124.2" cy="91.0" r="1.0" fill="#30c8d8"/><circle cx="145.4" cy="83.8" r="1.0" fill="#18b4c8"/><circle cx="154.7" cy="80.3" r="1.0" fill="#1cbcd0"/><circle cx="139.3" cy="88.3" r="1.0" fill="#28c8d8"/><circle cx="142.5" cy="83.7" r="1.0" fill="#1cbcd0"/><circle cx="129.7" cy="90.0" r="1.0" fill="#18b4c8"/><circle cx="101.0" cy="92.9" r="1.0" fill="#30c8d8"/><circle cx="102.8" cy="94.2" r="1.0" fill="#28c8d8"/><circle cx="142.7" cy="84.0" r="1.0" fill="#30c8d8"/><circle cx="123.0" cy="93.1" r="1.0" fill="#20c0d0"/><circle cx="110.5" cy="93.0" r="1.0" fill="#30c8d8"/><circle cx="85.7" cy="101.9" r="1.0" fill="#30c8d8"/><circle cx="128.3" cy="89.8" r="1.0" fill="#28c8d8"/><circle cx="121.6" cy="90.7" r="1.0" fill="#30c8d8"/><circle cx="123.6" cy="91.6" r="1.0" fill="#1cbcd0"/><circle cx="142.9" cy="86.5" r="1.0" fill="#20c0d0"/><circle cx="132.2" cy="83.5" r="1.0" fill="#20c0d0"/><circle cx="141.6" cy="82.6" r="1.0" fill="#30c8d8"/><circle cx="93.2" cy="98.7" r="1.0" fill="#1cbcd0"/><circle cx="101.4" cy="95.5" r="1.0" fill="#20c0d0"/><circle cx="113.8" cy="89.5" r="1.0" fill="#1cbcd0"/><circle cx="105.5" cy="97.9" r="1.0" fill="#1cbcd0"/><circle cx="104.8" cy="97.5" r="1.0" fill="#28c8d8"/><circle cx="101.7" cy="97.5" r="1.0" fill="#18b4c8"/><circle cx="103.2" cy="92.2" r="1.0" fill="#20c0d0"/><circle cx="103.6" cy="98.6" r="1.0" fill="#30c8d8"/><circle cx="146.3" cy="81.4" r="1.0" fill="#30c8d8"/><circle cx="154.1" cy="81.9" r="1.0" fill="#20c0d0"/><circle cx="146.9" cy="81.5" r="1.0" fill="#1cbcd0"/><circle cx="92.5" cy="100.3" r="1.0" fill="#28c8d8"/><circle cx="152.2" cy="80.9" r="1.0" fill="#18b4c8"/><circle cx="128.7" cy="88.2" r="1.0" fill="#20c0d0"/><circle cx="117.8" cy="90.5" r="1.0" fill="#28c8d8"/><circle cx="82.7" cy="100.7" r="1.0" fill="#30c8d8"/><circle cx="145.4" cy="81.5" r="1.0" fill="#20c0d0"/><circle cx="127.7" cy="87.6" r="1.0" fill="#28c8d8"/><circle cx="108.6" cy="95.1" r="1.0" fill="#20c0d0"/><circle cx="107.6" cy="89.3" r="1.0" fill="#18b4c8"/><circle cx="135.4" cy="85.8" r="1.0" fill="#18b4c8"/><circle cx="129.4" cy="90.1" r="1.0" fill="#30c8d8"/><circle cx="95.7" cy="100.6" r="1.0" fill="#1cbcd0"/><circle cx="145.1" cy="82.0" r="1.0" fill="#28c8d8"/><circle cx="150.2" cy="81.5" r="1.0" fill="#20c0d0"/><circle cx="123.8" cy="91.9" r="1.0" fill="#18b4c8"/><circle cx="147.6" cy="82.8" r="1.0" fill="#30c8d8"/><circle cx="114.6" cy="89.7" r="1.0" fill="#28c8d8"/><circle cx="144.8" cy="81.4" r="1.0" fill="#20c0d0"/><circle cx="135.6" cy="84.8" r="1.0" fill="#30c8d8"/><circle cx="120.3" cy="85.2" r="1.0" fill="#20c0d0"/><circle cx="116.7" cy="88.1" r="1.0" fill="#1cbcd0"/><circle cx="90.0" cy="102.8" r="1.0" fill="#28c8d8"/><circle cx="122.5" cy="88.0" r="1.0" fill="#1cbcd0"/><circle cx="149.1" cy="81.0" r="1.0" fill="#30c8d8"/><circle cx="109.0" cy="92.5" r="1.0" fill="#18b4c8"/><circle cx="100.3" cy="100.0" r="1.0" fill="#28c8d8"/><circle cx="126.4" cy="88.1" r="1.0" fill="#18b4c8"/><circle cx="125.1" cy="88.0" r="1.0" fill="#30c8d8"/><circle cx="108.7" cy="93.5" r="1.0" fill="#30c8d8"/><circle cx="140.3" cy="85.2" r="1.0" fill="#28c8d8"/><circle cx="96.6" cy="98.2" r="1.0" fill="#20c0d0"/><circle cx="110.7" cy="87.2" r="1.0" fill="#28c8d8"/><circle cx="145.0" cy="82.5" r="1.0" fill="#18b4c8"/><circle cx="126.3" cy="88.9" r="1.0" fill="#30c8d8"/><circle cx="93.6" cy="93.6" r="1.0" fill="#30c8d8"/><circle cx="129.1" cy="86.2" r="1.0" fill="#1cbcd0"/><circle cx="127.1" cy="91.5" r="1.0" fill="#28c8d8"/><circle cx="145.6" cy="83.5" r="1.0" fill="#18b4c8"/><circle cx="115.2" cy="89.9" r="1.0" fill="#28c8d8"/><circle cx="131.0" cy="86.2" r="1.0" fill="#30c8d8"/><circle cx="128.0" cy="87.8" r="1.0" fill="#30c8d8"/><circle cx="133.8" cy="86.4" r="1.0" fill="#1cbcd0"/><circle cx="109.5" cy="94.0" r="1.0" fill="#1cbcd0"/><circle cx="126.6" cy="89.8" r="1.0" fill="#1cbcd0"/><circle cx="143.9" cy="82.6" r="1.0" fill="#1cbcd0"/><circle cx="134.8" cy="84.7" r="1.0" fill="#30c8d8"/><circle cx="91.0" cy="98.1" r="1.0" fill="#30c8d8"/><circle cx="151.1" cy="80.8" r="1.0" fill="#1cbcd0"/><circle cx="99.4" cy="99.9" r="1.0" fill="#30c8d8"/><circle cx="120.5" cy="88.4" r="1.0" fill="#20c0d0"/><circle cx="147.6" cy="83.7" r="1.0" fill="#28c8d8"/><circle cx="94.5" cy="95.4" r="1.0" fill="#1cbcd0"/><circle cx="108.9" cy="89.9" r="1.0" fill="#18b4c8"/><circle cx="138.6" cy="84.4" r="1.0" fill="#1cbcd0"/><circle cx="133.9" cy="89.0" r="1.0" fill="#28c8d8"/><circle cx="96.3" cy="98.7" r="1.0" fill="#28c8d8"/><circle cx="150.5" cy="82.9" r="1.0" fill="#20c0d0"/><circle cx="87.1" cy="100.6" r="1.0" fill="#28c8d8"/><circle cx="136.3" cy="87.4" r="1.0" fill="#28c8d8"/><circle cx="117.4" cy="90.9" r="1.0" fill="#20c0d0"/><circle cx="119.2" cy="93.0" r="1.0" fill="#28c8d8"/><circle cx="138.0" cy="85.1" r="1.0" fill="#30c8d8"/><circle cx="154.0" cy="80.6" r="1.0" fill="#18b4c8"/><circle cx="133.7" cy="86.5" r="1.0" fill="#28c8d8"/><circle cx="96.2" cy="98.1" r="1.0" fill="#30c8d8"/><circle cx="145.9" cy="82.5" r="1.0" fill="#20c0d0"/><circle cx="108.8" cy="97.3" r="1.0" fill="#30c8d8"/><circle cx="113.5" cy="90.6" r="1.0" fill="#18b4c8"/><circle cx="125.1" cy="88.7" r="1.0" fill="#30c8d8"/><circle cx="116.3" cy="90.2" r="1.0" fill="#20c0d0"/><circle cx="99.9" cy="96.3" r="1.0" fill="#28c8d8"/><circle cx="102.5" cy="91.6" r="1.0" fill="#28c8d8"/><circle cx="95.3" cy="95.4" r="1.0" fill="#28c8d8"/><circle cx="130.5" cy="88.0" r="1.0" fill="#1cbcd0"/><circle cx="107.1" cy="93.7" r="1.0" fill="#30c8d8"/><circle cx="141.0" cy="84.1" r="1.0" fill="#20c0d0"/><circle cx="139.4" cy="83.9" r="1.0" fill="#30c8d8"/><circle cx="136.0" cy="86.8" r="1.0" fill="#30c8d8"/><circle cx="150.2" cy="81.6" r="1.0" fill="#1cbcd0"/><circle cx="102.7" cy="93.8" r="1.0" fill="#30c8d8"/><circle cx="133.7" cy="87.0" r="1.0" fill="#18b4c8"/><circle cx="127.2" cy="86.0" r="1.0" fill="#30c8d8"/><circle cx="105.1" cy="89.2" r="1.0" fill="#20c0d0"/><circle cx="113.4" cy="89.0" r="1.0" fill="#28c8d8"/><circle cx="141.9" cy="84.6" r="1.0" fill="#18b4c8"/><circle cx="142.3" cy="85.3" r="1.0" fill="#18b4c8"/><circle cx="103.8" cy="95.9" r="1.0" fill="#20c0d0"/><circle cx="104.5" cy="93.3" r="1.0" fill="#18b4c8"/><circle cx="148.4" cy="82.4" r="1.0" fill="#18b4c8"/><circle cx="98.8" cy="94.7" r="1.0" fill="#28c8d8"/><circle cx="125.9" cy="86.2" r="1.0" fill="#20c0d0"/><circle cx="135.2" cy="83.7" r="1.0" fill="#1cbcd0"/><circle cx="120.3" cy="91.1" r="1.0" fill="#18b4c8"/><circle cx="151.4" cy="81.4" r="1.0" fill="#30c8d8"/><circle cx="126.6" cy="92.3" r="1.0" fill="#28c8d8"/><circle cx="123.2" cy="89.9" r="1.0" fill="#18b4c8"/><circle cx="135.8" cy="87.1" r="1.0" fill="#18b4c8"/><circle cx="118.3" cy="91.3" r="1.0" fill="#30c8d8"/><circle cx="113.3" cy="91.6" r="1.0" fill="#1cbcd0"/><circle cx="120.0" cy="91.6" r="1.0" fill="#20c0d0"/><circle cx="143.8" cy="84.1" r="1.0" fill="#28c8d8"/><circle cx="107.0" cy="88.1" r="1.0" fill="#28c8d8"/><circle cx="138.8" cy="87.1" r="1.0" fill="#28c8d8"/><circle cx="140.1" cy="84.7" r="1.0" fill="#1cbcd0"/><circle cx="112.7" cy="93.5" r="1.0" fill="#18b4c8"/><circle cx="131.7" cy="86.3" r="1.0" fill="#20c0d0"/><circle cx="141.1" cy="83.5" r="1.0" fill="#28c8d8"/><circle cx="128.9" cy="87.1" r="1.0" fill="#20c0d0"/><circle cx="99.7" cy="99.9" r="1.0" fill="#18b4c8"/><circle cx="91.6" cy="95.9" r="1.0" fill="#18b4c8"/><circle cx="144.2" cy="84.1" r="1.0" fill="#1cbcd0"/><circle cx="123.1" cy="88.2" r="1.0" fill="#20c0d0"/><circle cx="125.5" cy="94.1" r="1.0" fill="#18b4c8"/><circle cx="119.4" cy="86.3" r="1.0" fill="#28c8d8"/><circle cx="146.6" cy="82.6" r="1.0" fill="#20c0d0"/><circle cx="110.4" cy="93.6" r="1.0" fill="#18b4c8"/><circle cx="144.5" cy="83.2" r="1.0" fill="#18b4c8"/><circle cx="131.9" cy="88.7" r="1.0" fill="#18b4c8"/><circle cx="97.2" cy="96.4" r="1.0" fill="#18b4c8"/><circle cx="131.0" cy="89.4" r="1.0" fill="#1cbcd0"/><circle cx="130.2" cy="89.1" r="1.0" fill="#20c0d0"/><circle cx="112.1" cy="94.1" r="1.0" fill="#20c0d0"/><circle cx="88.4" cy="101.5" r="1.0" fill="#1cbcd0"/><circle cx="123.7" cy="87.3" r="1.0" fill="#20c0d0"/><circle cx="147.4" cy="82.5" r="1.0" fill="#30c8d8"/><circle cx="129.7" cy="84.8" r="1.0" fill="#20c0d0"/><circle cx="132.4" cy="87.9" r="1.0" fill="#20c0d0"/><circle cx="124.0" cy="93.5" r="1.0" fill="#20c0d0"/><circle cx="92.4" cy="97.9" r="1.0" fill="#1cbcd0"/><circle cx="139.1" cy="85.1" r="1.0" fill="#20c0d0"/><circle cx="122.9" cy="87.2" r="1.0" fill="#18b4c8"/><circle cx="88.0" cy="99.7" r="1.0" fill="#28c8d8"/><circle cx="137.9" cy="87.1" r="1.0" fill="#28c8d8"/><circle cx="146.8" cy="81.9" r="1.0" fill="#30c8d8"/><circle cx="120.3" cy="91.8" r="1.0" fill="#1cbcd0"/><circle cx="147.9" cy="84.1" r="1.0" fill="#28c8d8"/><circle cx="136.7" cy="87.2" r="1.0" fill="#1cbcd0"/><circle cx="130.6" cy="85.5" r="1.0" fill="#20c0d0"/><circle cx="98.7" cy="99.5" r="1.0" fill="#18b4c8"/><circle cx="112.3" cy="92.4" r="1.0" fill="#18b4c8"/><circle cx="108.4" cy="91.4" r="1.0" fill="#28c8d8"/><circle cx="132.5" cy="86.5" r="1.0" fill="#28c8d8"/><circle cx="107.7" cy="88.7" r="1.0" fill="#18b4c8"/><circle cx="138.8" cy="83.4" r="1.0" fill="#1cbcd0"/><circle cx="140.6" cy="83.5" r="1.0" fill="#28c8d8"/><circle cx="100.6" cy="99.5" r="1.0" fill="#28c8d8"/><circle cx="134.6" cy="85.2" r="1.0" fill="#1cbcd0"/><circle cx="117.4" cy="92.3" r="1.0" fill="#28c8d8"/><circle cx="104.5" cy="89.7" r="1.0" fill="#18b4c8"/><circle cx="121.2" cy="88.2" r="1.0" fill="#30c8d8"/><circle cx="139.2" cy="84.1" r="1.0" fill="#20c0d0"/><circle cx="128.2" cy="87.5" r="1.0" fill="#1cbcd0"/><circle cx="151.9" cy="80.6" r="1.0" fill="#28c8d8"/><circle cx="118.3" cy="89.6" r="1.0" fill="#1cbcd0"/><circle cx="125.5" cy="88.0" r="1.0" fill="#30c8d8"/><circle cx="146.4" cy="83.4" r="1.0" fill="#20c0d0"/><circle cx="110.7" cy="96.2" r="1.0" fill="#30c8d8"/><circle cx="86.2" cy="100.5" r="1.0" fill="#20c0d0"/><circle cx="132.8" cy="85.5" r="1.0" fill="#18b4c8"/><circle cx="122.4" cy="92.8" r="1.0" fill="#20c0d0"/><circle cx="102.6" cy="97.1" r="1.0" fill="#1cbcd0"/><circle cx="134.2" cy="85.9" r="1.0" fill="#1cbcd0"/><circle cx="123.9" cy="88.1" r="1.0" fill="#18b4c8"/><circle cx="111.8" cy="88.2" r="1.0" fill="#20c0d0"/><circle cx="108.7" cy="95.5" r="1.0" fill="#1cbcd0"/><circle cx="106.7" cy="92.8" r="1.0" fill="#18b4c8"/><circle cx="153.0" cy="80.4" r="1.0" fill="#18b4c8"/><circle cx="112.6" cy="92.7" r="1.0" fill="#1cbcd0"/><circle cx="131.8" cy="87.1" r="1.0" fill="#1cbcd0"/><circle cx="117.0" cy="89.7" r="1.0" fill="#28c8d8"/><circle cx="115.5" cy="92.4" r="1.0" fill="#20c0d0"/><circle cx="100.4" cy="97.2" r="1.0" fill="#18b4c8"/><circle cx="139.0" cy="85.5" r="1.0" fill="#20c0d0"/><circle cx="113.0" cy="93.1" r="1.0" fill="#18b4c8"/><circle cx="133.1" cy="87.6" r="1.0" fill="#20c0d0"/><circle cx="106.7" cy="91.1" r="1.0" fill="#30c8d8"/><circle cx="149.4" cy="80.7" r="1.0" fill="#28c8d8"/><circle cx="111.9" cy="97.5" r="1.0" fill="#28c8d8"/><circle cx="142.8" cy="83.2" r="1.0" fill="#18b4c8"/><circle cx="111.5" cy="94.4" r="1.0" fill="#20c0d0"/><circle cx="145.8" cy="81.6" r="1.0" fill="#1cbcd0"/><circle cx="86.7" cy="99.7" r="1.0" fill="#18b4c8"/><circle cx="111.3" cy="90.7" r="1.0" fill="#28c8d8"/><circle cx="95.2" cy="96.1" r="1.0" fill="#28c8d8"/><circle cx="120.8" cy="90.2" r="1.0" fill="#1cbcd0"/><circle cx="113.2" cy="96.5" r="1.0" fill="#20c0d0"/><circle cx="89.5" cy="98.8" r="1.0" fill="#18b4c8"/><circle cx="101.0" cy="94.6" r="1.0" fill="#30c8d8"/><circle cx="95.9" cy="101.8" r="1.0" fill="#20c0d0"/><circle cx="123.3" cy="86.5" r="1.0" fill="#18b4c8"/><circle cx="142.2" cy="84.0" r="1.0" fill="#30c8d8"/><circle cx="94.7" cy="99.9" r="1.0" fill="#30c8d8"/><circle cx="144.5" cy="84.5" r="1.0" fill="#18b4c8"/><circle cx="128.0" cy="84.4" r="1.0" fill="#30c8d8"/><circle cx="132.9" cy="88.2" r="1.0" fill="#30c8d8"/><circle cx="117.4" cy="90.7" r="1.0" fill="#1cbcd0"/><circle cx="115.1" cy="90.2" r="1.0" fill="#28c8d8"/><circle cx="112.3" cy="98.7" r="1.0" fill="#18b4c8"/><circle cx="153.6" cy="85.1" r="0.75" fill="#3840e8"/><circle cx="148.7" cy="82.6" r="0.75" fill="#3840e8"/><circle cx="84.0" cy="103.3" r="0.75" fill="#3a4ae4"/><circle cx="154.3" cy="78.0" r="0.75" fill="#3840e8"/><circle cx="89.9" cy="96.4" r="0.75" fill="#4048ec"/><circle cx="101.4" cy="96.1" r="0.75" fill="#3840e8"/><circle cx="150.4" cy="82.4" r="0.75" fill="#2c30d8"/><circle cx="98.9" cy="98.6" r="0.75" fill="#3a4ae4"/><circle cx="119.4" cy="90.8" r="0.75" fill="#4048ec"/><circle cx="118.5" cy="93.6" r="0.75" fill="#4048ec"/><circle cx="122.7" cy="87.4" r="0.75" fill="#3a4ae4"/><circle cx="129.8" cy="90.2" r="0.75" fill="#4048ec"/><circle cx="138.8" cy="85.4" r="0.75" fill="#3038e0"/><circle cx="96.1" cy="96.2" r="0.75" fill="#2828c8"/><circle cx="95.5" cy="100.9" r="0.75" fill="#3a4ae4"/><circle cx="82.9" cy="99.2" r="0.75" fill="#2828c8"/><circle cx="118.4" cy="91.7" r="0.75" fill="#3038e0"/><circle cx="110.7" cy="92.2" r="0.75" fill="#3038e0"/><circle cx="116.7" cy="93.0" r="0.75" fill="#4048ec"/><circle cx="148.6" cy="79.5" r="0.75" fill="#3840e8"/><circle cx="95.7" cy="99.5" r="0.75" fill="#3840e8"/><circle cx="104.4" cy="93.9" r="0.75" fill="#3840e8"/><circle cx="141.6" cy="81.9" r="0.75" fill="#2c30d8"/><circle cx="146.9" cy="87.9" r="0.75" fill="#3038e0"/><circle cx="137.6" cy="86.5" r="0.75" fill="#3840e8"/><circle cx="90.0" cy="97.0" r="0.75" fill="#4048ec"/><circle cx="111.0" cy="94.9" r="0.75" fill="#3a4ae4"/><circle cx="88.8" cy="99.3" r="0.75" fill="#3038e0"/><circle cx="86.3" cy="104.7" r="0.75" fill="#3840e8"/><circle cx="141.1" cy="80.6" r="0.75" fill="#2828c8"/><circle cx="154.5" cy="49.3" r="1.3" fill="#66dcea" stroke="#26b8d8" stroke-width="0.45"/><circle cx="153.6" cy="52.0" r="1.3" fill="#66dcea" stroke="#26b8d8" stroke-width="0.45"/><circle cx="152.7" cy="55.0" r="1.3" fill="#66dcea" stroke="#26b8d8" stroke-width="0.45"/><circle cx="152.5" cy="58.0" r="1.3" fill="#66dcea" stroke="#26b8d8" stroke-width="0.45"/><circle cx="152.2" cy="60.3" r="1.3" fill="#66dcea" stroke="#26b8d8" stroke-width="0.45"/><circle cx="150.9" cy="63.3" r="1.3" fill="#66dcea" stroke="#26b8d8" stroke-width="0.45"/><circle cx="150.3" cy="65.6" r="1.3" fill="#66dcea" stroke="#26b8d8" stroke-width="0.45"/><circle cx="149.8" cy="67.8" r="1.3" fill="#66dcea" stroke="#26b8d8" stroke-width="0.45"/><circle cx="148.7" cy="72.4" r="1.3" fill="#66dcea" stroke="#26b8d8" stroke-width="0.45"/><circle cx="148.2" cy="73.8" r="1.3" fill="#66dcea" stroke="#26b8d8" stroke-width="0.45"/><circle cx="147.7" cy="77.3" r="1.3" fill="#66dcea" stroke="#26b8d8" stroke-width="0.45"/><circle cx="146.2" cy="79.8" r="1.3" fill="#66dcea" stroke="#26b8d8" stroke-width="0.45"/><circle cx="155.7" cy="53.3" r="1.3" fill="#66dcea" stroke="#26b8d8" stroke-width="0.45"/><circle cx="155.6" cy="56.8" r="1.3" fill="#66dcea" stroke="#26b8d8" stroke-width="0.45"/><circle cx="155.4" cy="59.5" r="1.3" fill="#66dcea" stroke="#26b8d8" stroke-width="0.45"/><circle cx="155.0" cy="61.5" r="1.3" fill="#66dcea" stroke="#26b8d8" stroke-width="0.45"/><circle cx="155.6" cy="65.5" r="1.3" fill="#66dcea" stroke="#26b8d8" stroke-width="0.45"/><circle cx="156.5" cy="68.4" r="1.3" fill="#66dcea" stroke="#26b8d8" stroke-width="0.45"/><circle cx="155.9" cy="71.1" r="1.3" fill="#66dcea" stroke="#26b8d8" stroke-width="0.45"/><circle cx="155.8" cy="74.9" r="1.3" fill="#66dcea" stroke="#26b8d8" stroke-width="0.45"/><circle cx="155.6" cy="78.2" r="1.3" fill="#66dcea" stroke="#26b8d8" stroke-width="0.45"/><circle cx="156.4" cy="81.1" r="1.3" fill="#66dcea" stroke="#26b8d8" stroke-width="0.45"/><circle cx="155.8" cy="83.9" r="1.3" fill="#66dcea" stroke="#26b8d8" stroke-width="0.45"/><circle cx="163.1" cy="76.6" r="0.85" fill="#2c30d8"/><circle cx="175.1" cy="66.2" r="0.85" fill="#3a4ae4"/><circle cx="158.0" cy="80.5" r="0.85" fill="#3038e0"/><circle cx="159.3" cy="69.0" r="0.85" fill="#3a4ae4"/><circle cx="165.2" cy="74.0" r="0.85" fill="#3a4ae4"/><circle cx="167.1" cy="83.3" r="0.85" fill="#3a4ae4"/><circle cx="158.9" cy="73.5" r="0.85" fill="#3840e8"/><circle cx="156.0" cy="65.2" r="0.85" fill="#3a4ae4"/><circle cx="159.9" cy="76.8" r="0.85" fill="#2c30d8"/><circle cx="167.5" cy="77.0" r="0.85" fill="#3a4ae4"/><circle cx="157.2" cy="79.2" r="0.85" fill="#4048ec"/><circle cx="159.1" cy="79.2" r="0.85" fill="#2828c8"/><circle cx="161.6" cy="64.8" r="0.85" fill="#2c30d8"/><circle cx="169.6" cy="56.5" r="0.85" fill="#2c30d8"/><line x1="155.3" y1="47" x2="160.4" y2="18.6" stroke="#30c8ea" stroke-width="2.5" stroke-linecap="round"/><line x1="155.3" y1="47" x2="160.4" y2="18.6" stroke="#1aa8e0" stroke-width="1.1" stroke-linecap="round"/><circle cx="154.4" cy="40.5" r="0.8" fill="#3030d8"/><circle cx="153.6" cy="43.5" r="0.8" fill="#3a3ae0"/><circle cx="153.3" cy="46.5" r="0.8" fill="#3030d8"/><circle cx="157.2" cy="38.5" r="0.7" fill="#4040e0"/><polygon points="207.1,57.5 210.9,57.5 210.9,54.8 215,60 210.9,65.3 210.9,62.8 207.1,62.8" fill="#e0108c"/><polygon points="216,187.3 212,187.3 212,184.6 207.9,190 212,195.3 212,192.7 216,192.7" fill="#e0108c"/><polygon points="303.4,120.7 309.2,120.7 309.2,125.2 311.9,125.2 306.3,130.1 300.7,125.2 303.4,125.2" fill="#e0108c"/><rect x="238.3" y="0.4" width="47.2" height="105.2" fill="#fef7ea"/><rect x="285.5" y="0.4" width="66.7" height="105.2" fill="#e7f2e1"/><rect x="352.2" y="0.4" width="26.3" height="105.2" fill="#e7e7e7"/><polygon points="251.0,85.3 352.2,44.8 352.2,54.6 251.0,98.4" fill="#f8a8a0" opacity="0.24"/><line x1="251.0" y1="92.1" x2="352.2" y2="50.1" stroke="#f39480" stroke-width="1.05"/><rect x="243.4" y="5.6" width="64.8" height="18.5" fill="#fff" stroke="#999" stroke-width="0.4"/><circle cx="249.8" cy="9.4" r="1.8" fill="url(#gb)"/><rect x="244.4" y="18" width="9.9" height="5.4" fill="#f9d2d2"/><text x="256.5" y="10.8" font-size="4.9" stroke="#000" stroke-width="0.12" textLength="35" lengthAdjust="spacingAndGlyphs">Simulation results</text><text x="256.5" y="16.3" font-size="4.9" stroke="#000" stroke-width="0.12" textLength="38.7" lengthAdjust="spacingAndGlyphs">y=0.01352x-37.3292</text><text x="256.5" y="22.1" font-size="4.9" stroke="#000" stroke-width="0.12" textLength="49.3" lengthAdjust="spacingAndGlyphs">90% Confidence interval</text><rect x="240.4" y="54.5" width="33.6" height="15.8" fill="#fff"/><circle cx="261.5" cy="58.6" r="0.45" fill="#a0a0f4"/><circle cx="242.3" cy="61.0" r="0.45" fill="#7070e8"/><circle cx="262.4" cy="63.6" r="0.45" fill="#9090f0"/><circle cx="251.0" cy="60.8" r="0.45" fill="#a0a0f4"/><circle cx="254.5" cy="64.3" r="0.45" fill="#6a6ae0"/><polygon points="241.0,61.62 241.6,61.56 242.2,61.57 242.8,61.54 243.4,61.63 244.0,61.54 244.6,61.61 245.2,61.53 245.8,61.64 246.4,61.58 247.0,61.57 247.6,61.54 248.2,61.52 248.8,61.60 249.4,61.57 250.0,61.60 250.6,61.58 251.2,61.63 251.8,61.57 252.4,61.51 253.0,61.59 253.6,61.62 254.2,61.60 254.8,61.60 255.4,61.60 256.0,61.62 256.6,61.60 257.2,61.54 257.8,61.53 258.4,61.50 259.0,61.63 259.6,61.62 260.2,61.53 260.8,61.58 261.4,61.51 262.0,61.62 262.6,61.55 263.2,61.50 263.8,61.52 264.4,61.57 265.0,61.62 265.6,61.56 266.2,61.58 266.8,61.57 267.4,61.60 268.0,61.57 268.6,61.51 269.2,61.56 269.8,61.57 270.4,61.60 271.0,61.57 271.6,61.64 272.2,61.59 272.8,61.58 273.4,61.52 273.4,63.67 272.8,63.64 272.2,63.65 271.6,63.65 271.0,63.66 270.4,63.65 269.8,63.68 269.2,63.65 268.6,63.65 268.0,63.67 267.4,63.68 266.8,63.67 266.2,63.67 265.6,63.68 265.0,63.65 264.4,63.68 263.8,63.68 263.2,63.70 262.6,63.67 262.0,63.67 261.4,63.64 260.8,63.68 260.2,63.67 259.6,63.69 259.0,63.69 258.4,63.70 257.8,63.66 257.2,63.66 256.6,63.67 256.0,63.65 255.4,63.67 254.8,63.65 254.2,63.66 253.6,63.64 253.0,63.68 252.4,63.66 251.8,63.68 251.2,63.69 250.6,63.69 250.0,63.65 249.4,63.68 248.8,63.69 248.2,63.67 247.6,63.65 247.0,63.68 246.4,63.69 245.8,63.66 245.2,63.67 244.6,63.64 244.0,63.69 243.4,63.65 242.8,63.65 242.2,63.66 241.6,63.66 241.0,63.70" fill="#2c34d4"/><circle cx="248.8" cy="61.4" r="0.45" fill="#3a42dc"/><circle cx="258.3" cy="61.5" r="0.45" fill="#3a42dc"/><circle cx="253.9" cy="61.4" r="0.45" fill="#3a42dc"/><circle cx="243.7" cy="61.4" r="0.45" fill="#3a42dc"/><circle cx="247.7" cy="63.7" r="0.45" fill="#3a42dc"/><circle cx="263.1" cy="61.4" r="0.45" fill="#3a42dc"/><circle cx="268.5" cy="63.8" r="0.45" fill="#3a42dc"/><circle cx="270.4" cy="63.7" r="0.45" fill="#3a42dc"/><rect x="240.8" y="61.9" width="32.8" height="1.7" rx="0.57" fill="#12cade"/><circle cx="268.4" cy="62.8" r="0.35" fill="#2a40d0"/><circle cx="243.8" cy="63.2" r="0.35" fill="#2a40d0"/><circle cx="259.1" cy="63.2" r="0.35" fill="#2a40d0"/><circle cx="267.8" cy="62.5" r="0.35" fill="#2a40d0"/><circle cx="268.6" cy="63.4" r="0.35" fill="#2a40d0"/><circle cx="271.2" cy="62.8" r="0.35" fill="#2a40d0"/><circle cx="262.0" cy="61.6" r="0.35" fill="#2a40d0"/><circle cx="265.4" cy="63.4" r="0.35" fill="#2a40d0"/><circle cx="262.0" cy="62.3" r="0.35" fill="#2a40d0"/><circle cx="264.7" cy="62.9" r="0.35" fill="#2a40d0"/><circle cx="258.9" cy="62.9" r="0.35" fill="#2a40d0"/><circle cx="265.9" cy="63.5" r="0.35" fill="#2a40d0"/><circle cx="267.2" cy="63.1" r="0.35" fill="#2a40d0"/><circle cx="249.4" cy="63.2" r="0.35" fill="#2a40d0"/><circle cx="257.4" cy="62.3" r="0.35" fill="#2a40d0"/><circle cx="250.5" cy="62.4" r="0.35" fill="#2a40d0"/><circle cx="254.3" cy="64.2" r="0.35" fill="#2a40d0"/><circle cx="244.1" cy="63.7" r="0.35" fill="#2a40d0"/><circle cx="270.5" cy="62.8" r="0.35" fill="#2a40d0"/><circle cx="261.6" cy="61.9" r="0.35" fill="#2a40d0"/><rect x="240.4" y="54.5" width="33.6" height="15.8" fill="none" stroke="#e45aa8" stroke-width="1" stroke-dasharray="1.1 2"/><rect x="275.4" y="36.6" width="35.0" height="15.2" fill="#fff"/><circle cx="278.9" cy="45.9" r="0.45" fill="#a0a0f4"/><circle cx="293.9" cy="41.3" r="0.45" fill="#7070e8"/><circle cx="291.1" cy="40.6" r="0.45" fill="#7070e8"/><circle cx="297.7" cy="44.5" r="0.45" fill="#7070e8"/><circle cx="298.0" cy="46.9" r="0.45" fill="#9090f0"/><circle cx="301.9" cy="46.4" r="0.45" fill="#9090f0"/><circle cx="304.5" cy="47.6" r="0.45" fill="#9090f0"/><circle cx="295.2" cy="44.2" r="0.45" fill="#7070e8"/><circle cx="295.0" cy="45.5" r="0.45" fill="#9090f0"/><circle cx="304.1" cy="40.2" r="0.45" fill="#6a6ae0"/><circle cx="284.2" cy="46.7" r="0.45" fill="#7070e8"/><circle cx="286.5" cy="43.6" r="0.45" fill="#9090f0"/><circle cx="295.4" cy="45.9" r="0.45" fill="#9090f0"/><circle cx="284.9" cy="46.8" r="0.45" fill="#6a6ae0"/><polygon points="276.0,42.93 276.6,42.76 277.2,43.08 277.8,42.62 278.4,43.10 279.0,42.93 279.6,43.12 280.2,43.06 280.8,42.81 281.4,42.93 282.0,43.14 282.6,42.89 283.2,42.88 283.8,43.08 284.4,43.11 285.0,42.71 285.6,42.84 286.2,43.01 286.8,43.06 287.4,42.84 288.0,43.05 288.6,42.93 289.2,42.56 289.8,42.99 290.4,42.77 291.0,42.76 291.6,43.02 292.2,43.04 292.8,43.11 293.4,42.69 294.0,42.65 294.6,42.74 295.2,42.79 295.8,43.02 296.4,42.97 297.0,43.15 297.6,42.71 298.2,42.94 298.8,43.02 299.4,43.06 300.0,42.87 300.6,42.72 301.2,43.10 301.8,42.55 302.4,42.62 303.0,43.11 303.6,43.15 304.2,42.85 304.8,42.72 305.4,42.78 306.0,42.84 306.6,42.89 307.2,42.77 307.8,42.88 308.4,42.78 309.0,42.67 309.6,42.94 309.8,42.80 309.8,46.70 309.6,46.99 309.0,46.97 308.4,46.77 307.8,46.83 307.2,46.97 306.6,46.97 306.0,46.77 305.4,46.89 304.8,46.97 304.2,47.03 303.6,46.94 303.0,46.81 302.4,46.63 301.8,47.05 301.2,46.79 300.6,47.03 300.0,46.65 299.4,47.00 298.8,46.93 298.2,46.75 297.6,46.81 297.0,46.64 296.4,46.89 295.8,46.71 295.2,47.00 294.6,46.97 294.0,46.75 293.4,46.98 292.8,46.78 292.2,46.99 291.6,46.66 291.0,47.01 290.4,46.88 289.8,47.01 289.2,46.64 288.6,46.66 288.0,46.86 287.4,46.89 286.8,46.84 286.2,46.95 285.6,46.66 285.0,46.80 284.4,46.91 283.8,46.71 283.2,46.87 282.6,46.61 282.0,46.89 281.4,46.67 280.8,46.69 280.2,46.67 279.6,46.85 279.0,46.67 278.4,46.69 277.8,46.82 277.2,47.03 276.6,47.04 276.0,46.89" fill="#2c34d4"/><circle cx="308.4" cy="42.4" r="0.45" fill="#3a42dc"/><circle cx="300.2" cy="42.5" r="0.45" fill="#3a42dc"/><circle cx="288.6" cy="47.4" r="0.45" fill="#3a42dc"/><circle cx="282.7" cy="46.9" r="0.45" fill="#3a42dc"/><circle cx="296.4" cy="42.8" r="0.45" fill="#3a42dc"/><circle cx="286.0" cy="47.2" r="0.45" fill="#3a42dc"/><circle cx="292.0" cy="42.8" r="0.45" fill="#3a42dc"/><circle cx="287.5" cy="47.1" r="0.45" fill="#3a42dc"/><circle cx="294.0" cy="42.0" r="0.45" fill="#3a42dc"/><circle cx="281.9" cy="47.2" r="0.45" fill="#3a42dc"/><circle cx="284.1" cy="42.7" r="0.45" fill="#3a42dc"/><circle cx="298.3" cy="42.1" r="0.45" fill="#3a42dc"/><circle cx="290.5" cy="42.6" r="0.45" fill="#3a42dc"/><circle cx="279.8" cy="42.3" r="0.45" fill="#3a42dc"/><circle cx="280.2" cy="42.4" r="0.45" fill="#3a42dc"/><circle cx="286.9" cy="42.2" r="0.45" fill="#3a42dc"/><circle cx="283.5" cy="42.8" r="0.45" fill="#3a42dc"/><circle cx="278.8" cy="47.4" r="0.45" fill="#3a42dc"/><circle cx="298.2" cy="42.2" r="0.45" fill="#3a42dc"/><circle cx="293.8" cy="42.4" r="0.45" fill="#3a42dc"/><circle cx="283.5" cy="47.0" r="0.45" fill="#3a42dc"/><circle cx="292.9" cy="42.4" r="0.45" fill="#3a42dc"/><circle cx="307.4" cy="42.6" r="0.45" fill="#3a42dc"/><circle cx="285.4" cy="42.4" r="0.45" fill="#3a42dc"/><circle cx="299.2" cy="42.4" r="0.45" fill="#3a42dc"/><circle cx="297.1" cy="47.2" r="0.45" fill="#3a42dc"/><circle cx="303.2" cy="46.9" r="0.45" fill="#3a42dc"/><circle cx="296.7" cy="42.1" r="0.45" fill="#3a42dc"/><circle cx="288.6" cy="42.2" r="0.45" fill="#3a42dc"/><circle cx="292.5" cy="42.7" r="0.45" fill="#3a42dc"/><circle cx="292.9" cy="46.9" r="0.45" fill="#3a42dc"/><circle cx="306.1" cy="42.6" r="0.45" fill="#3a42dc"/><circle cx="304.2" cy="47.2" r="0.45" fill="#3a42dc"/><circle cx="283.3" cy="42.8" r="0.45" fill="#3a42dc"/><circle cx="285.9" cy="47.3" r="0.45" fill="#3a42dc"/><circle cx="308.2" cy="47.1" r="0.45" fill="#3a42dc"/><circle cx="308.8" cy="47.1" r="0.45" fill="#3a42dc"/><circle cx="298.1" cy="47.4" r="0.45" fill="#3a42dc"/><circle cx="298.8" cy="47.4" r="0.45" fill="#3a42dc"/><circle cx="298.1" cy="42.2" r="0.45" fill="#3a42dc"/><circle cx="298.0" cy="42.0" r="0.45" fill="#3a42dc"/><circle cx="303.7" cy="42.6" r="0.45" fill="#3a42dc"/><circle cx="301.0" cy="42.0" r="0.45" fill="#3a42dc"/><circle cx="299.1" cy="42.0" r="0.45" fill="#3a42dc"/><circle cx="301.1" cy="47.1" r="0.45" fill="#3a42dc"/><rect x="275.8" y="44.0" width="34.2" height="1.9" rx="0.63" fill="#12cade"/><circle cx="294.4" cy="45.3" r="0.35" fill="#2a40d0"/><circle cx="307.9" cy="44.1" r="0.35" fill="#2a40d0"/><circle cx="277.3" cy="44.5" r="0.35" fill="#2a40d0"/><circle cx="282.1" cy="45.0" r="0.35" fill="#2a40d0"/><circle cx="298.3" cy="45.0" r="0.35" fill="#2a40d0"/><circle cx="292.5" cy="44.6" r="0.35" fill="#2a40d0"/><circle cx="293.7" cy="44.6" r="0.35" fill="#2a40d0"/><circle cx="299.4" cy="45.5" r="0.35" fill="#2a40d0"/><circle cx="292.2" cy="44.7" r="0.35" fill="#2a40d0"/><circle cx="283.5" cy="45.8" r="0.35" fill="#2a40d0"/><circle cx="296.2" cy="44.5" r="0.35" fill="#2a40d0"/><circle cx="278.5" cy="45.2" r="0.35" fill="#2a40d0"/><circle cx="299.3" cy="45.0" r="0.35" fill="#2a40d0"/><circle cx="302.5" cy="44.9" r="0.35" fill="#2a40d0"/><circle cx="297.4" cy="44.7" r="0.35" fill="#2a40d0"/><circle cx="300.5" cy="44.6" r="0.35" fill="#2a40d0"/><circle cx="296.5" cy="44.7" r="0.35" fill="#2a40d0"/><circle cx="300.7" cy="45.3" r="0.35" fill="#2a40d0"/><circle cx="306.9" cy="44.8" r="0.35" fill="#2a40d0"/><circle cx="289.7" cy="44.4" r="0.35" fill="#2a40d0"/><circle cx="279.3" cy="44.7" r="0.35" fill="#2a40d0"/><rect x="275.4" y="36.6" width="35.0" height="15.2" fill="none" stroke="#e45aa8" stroke-width="1" stroke-dasharray="1.1 2"/><rect x="328.4" y="4.8" width="34.3" height="19.9" fill="#fff"/><circle cx="349.8" cy="7.4" r="0.45" fill="#a0a0f4"/><circle cx="346.7" cy="11.1" r="0.45" fill="#6a6ae0"/><circle cx="346.7" cy="9.0" r="0.45" fill="#9090f0"/><circle cx="334.7" cy="7.0" r="0.45" fill="#a0a0f4"/><circle cx="347.7" cy="12.8" r="0.45" fill="#7070e8"/><circle cx="354.7" cy="9.5" r="0.45" fill="#a0a0f4"/><polygon points="329.0,8.16 329.6,8.03 330.2,8.03 330.8,8.10 331.4,8.06 332.0,8.02 332.6,8.08 333.2,8.01 333.8,8.03 334.4,8.13 335.0,8.10 335.6,8.10 336.2,8.05 336.8,8.02 337.4,8.07 338.0,8.03 338.6,8.02 339.2,8.16 339.8,8.07 340.4,8.07 341.0,8.13 341.6,8.01 342.2,8.02 342.8,8.08 343.4,8.14 344.0,8.05 344.6,8.06 345.2,8.14 345.8,8.14 346.4,8.03 347.0,8.12 347.6,8.00 348.2,8.06 348.8,8.06 349.4,8.12 350.0,8.12 350.6,8.07 351.2,8.06 351.8,8.07 352.4,8.11 353.0,8.01 353.6,8.00 354.2,8.07 354.8,8.09 355.4,8.15 356.0,8.02 356.6,8.10 357.2,8.11 357.8,8.09 358.4,8.09 359.0,8.08 359.6,8.06 360.2,8.08 360.8,8.11 361.4,8.14 362.0,8.02 362.1,8.03 362.1,11.39 362.0,11.12 361.4,11.30 360.8,11.17 360.2,11.24 359.6,11.40 359.0,11.17 358.4,11.49 357.8,11.02 357.2,11.40 356.6,11.06 356.0,11.33 355.4,11.47 354.8,11.16 354.2,11.13 353.6,11.25 353.0,11.02 352.4,11.40 351.8,11.36 351.2,11.43 350.6,11.32 350.0,11.11 349.4,11.49 348.8,11.27 348.2,11.21 347.6,11.37 347.0,11.28 346.4,11.07 345.8,11.04 345.2,10.99 344.6,11.17 344.0,11.46 343.4,11.17 342.8,11.45 342.2,11.15 341.6,11.38 341.0,11.03 340.4,11.42 339.8,11.22 339.2,11.18 338.6,11.19 338.0,11.01 337.4,11.02 336.8,10.98 336.2,11.11 335.6,11.10 335.0,11.17 334.4,11.11 333.8,11.23 333.2,11.43 332.6,11.08 332.0,11.08 331.4,11.34 330.8,11.07 330.2,11.27 329.6,11.00 329.0,11.39" fill="#2c34d4"/><circle cx="352.1" cy="7.9" r="0.45" fill="#3a42dc"/><circle cx="358.8" cy="11.9" r="0.45" fill="#3a42dc"/><circle cx="332.6" cy="11.9" r="0.45" fill="#3a42dc"/><circle cx="359.1" cy="8.0" r="0.45" fill="#3a42dc"/><circle cx="352.9" cy="11.4" r="0.45" fill="#3a42dc"/><circle cx="330.3" cy="11.3" r="0.45" fill="#3a42dc"/><circle cx="335.3" cy="11.7" r="0.45" fill="#3a42dc"/><circle cx="336.7" cy="11.4" r="0.45" fill="#3a42dc"/><circle cx="347.6" cy="7.9" r="0.45" fill="#3a42dc"/><circle cx="341.9" cy="11.3" r="0.45" fill="#3a42dc"/><circle cx="335.8" cy="11.6" r="0.45" fill="#3a42dc"/><circle cx="338.4" cy="11.7" r="0.45" fill="#3a42dc"/><circle cx="339.3" cy="11.4" r="0.45" fill="#3a42dc"/><circle cx="352.9" cy="11.3" r="0.45" fill="#3a42dc"/><circle cx="344.1" cy="11.6" r="0.45" fill="#3a42dc"/><circle cx="342.6" cy="11.4" r="0.45" fill="#3a42dc"/><circle cx="330.9" cy="11.3" r="0.45" fill="#3a42dc"/><circle cx="343.2" cy="11.9" r="0.45" fill="#3a42dc"/><circle cx="347.0" cy="11.9" r="0.45" fill="#3a42dc"/><circle cx="353.9" cy="11.9" r="0.45" fill="#3a42dc"/><circle cx="341.9" cy="8.0" r="0.45" fill="#3a42dc"/><circle cx="337.2" cy="11.9" r="0.45" fill="#3a42dc"/><circle cx="349.9" cy="11.5" r="0.45" fill="#3a42dc"/><circle cx="330.0" cy="11.9" r="0.45" fill="#3a42dc"/><circle cx="352.1" cy="11.6" r="0.45" fill="#3a42dc"/><circle cx="331.9" cy="11.5" r="0.45" fill="#3a42dc"/><circle cx="341.4" cy="12.0" r="0.45" fill="#3a42dc"/><circle cx="333.5" cy="11.8" r="0.45" fill="#3a42dc"/><circle cx="340.3" cy="8.0" r="0.45" fill="#3a42dc"/><rect x="328.8" y="8.4" width="33.5" height="1.8" rx="0.60" fill="#12cade"/><circle cx="351.3" cy="10.0" r="0.35" fill="#2a40d0"/><circle cx="358.9" cy="8.9" r="0.35" fill="#2a40d0"/><circle cx="357.1" cy="9.7" r="0.35" fill="#2a40d0"/><circle cx="348.5" cy="9.7" r="0.35" fill="#2a40d0"/><circle cx="356.1" cy="9.6" r="0.35" fill="#2a40d0"/><circle cx="346.3" cy="9.5" r="0.35" fill="#2a40d0"/><circle cx="359.1" cy="9.4" r="0.35" fill="#2a40d0"/><circle cx="331.4" cy="9.3" r="0.35" fill="#2a40d0"/><circle cx="357.7" cy="10.5" r="0.35" fill="#2a40d0"/><circle cx="346.5" cy="9.1" r="0.35" fill="#2a40d0"/><circle cx="349.9" cy="8.6" r="0.35" fill="#2a40d0"/><circle cx="356.0" cy="10.0" r="0.35" fill="#2a40d0"/><circle cx="344.4" cy="8.8" r="0.35" fill="#2a40d0"/><circle cx="330.9" cy="9.3" r="0.35" fill="#2a40d0"/><circle cx="344.2" cy="10.0" r="0.35" fill="#2a40d0"/><circle cx="332.1" cy="9.3" r="0.35" fill="#2a40d0"/><circle cx="333.6" cy="8.9" r="0.35" fill="#2a40d0"/><circle cx="338.3" cy="9.7" r="0.35" fill="#2a40d0"/><circle cx="330.8" cy="8.6" r="0.35" fill="#2a40d0"/><circle cx="332.8" cy="9.9" r="0.35" fill="#2a40d0"/><circle cx="344.6" cy="19.9" r="0.45" fill="#7070e8"/><circle cx="352.0" cy="19.5" r="0.45" fill="#9090f0"/><circle cx="340.8" cy="21.0" r="0.45" fill="#7070e8"/><circle cx="348.2" cy="21.4" r="0.45" fill="#7070e8"/><circle cx="333.8" cy="21.5" r="0.45" fill="#7070e8"/><circle cx="333.3" cy="21.3" r="0.45" fill="#9090f0"/><polygon points="329.0,19.25 329.6,19.14 330.2,19.02 330.8,19.02 331.4,19.12 332.0,18.98 332.6,19.17 333.2,19.11 333.8,19.23 334.4,19.20 335.0,19.05 335.6,19.27 336.2,19.23 336.8,19.27 337.4,18.87 338.0,18.98 338.6,18.97 339.2,18.91 339.8,19.12 340.4,19.08 341.0,19.26 341.6,18.99 342.2,18.94 342.8,19.14 343.4,19.28 344.0,19.24 344.6,19.09 345.2,18.92 345.8,18.98 346.4,19.05 347.0,19.17 347.6,19.27 348.2,19.10 348.8,19.05 349.4,18.91 350.0,19.01 350.6,18.87 351.2,18.89 351.8,18.90 352.4,19.19 353.0,18.94 353.6,19.28 354.2,19.26 354.8,19.01 355.4,18.89 356.0,19.04 356.6,19.20 357.2,19.08 357.8,18.91 358.4,19.13 359.0,19.26 359.6,18.96 360.2,19.10 360.8,19.01 361.4,19.23 362.0,19.27 362.1,19.05 362.1,22.34 362.0,22.42 361.4,22.43 360.8,22.32 360.2,22.36 359.6,22.33 359.0,22.26 358.4,22.30 357.8,22.16 357.2,22.28 356.6,22.23 356.0,22.29 355.4,22.41 354.8,22.23 354.2,22.19 353.6,22.15 353.0,22.30 352.4,22.28 351.8,22.35 351.2,22.17 350.6,22.25 350.0,22.42 349.4,22.43 348.8,22.44 348.2,22.43 347.6,22.26 347.0,22.33 346.4,22.45 345.8,22.27 345.2,22.31 344.6,22.28 344.0,22.36 343.4,22.15 342.8,22.33 342.2,22.22 341.6,22.14 341.0,22.43 340.4,22.30 339.8,22.16 339.2,22.28 338.6,22.41 338.0,22.22 337.4,22.25 336.8,22.39 336.2,22.40 335.6,22.32 335.0,22.18 334.4,22.40 333.8,22.41 333.2,22.25 332.6,22.21 332.0,22.22 331.4,22.18 330.8,22.42 330.2,22.29 329.6,22.28 329.0,22.26" fill="#2c34d4"/><circle cx="342.2" cy="22.3" r="0.45" fill="#3a42dc"/><circle cx="333.0" cy="22.5" r="0.45" fill="#3a42dc"/><circle cx="337.5" cy="22.6" r="0.45" fill="#3a42dc"/><circle cx="338.4" cy="18.8" r="0.45" fill="#3a42dc"/><circle cx="339.7" cy="22.4" r="0.45" fill="#3a42dc"/><circle cx="355.5" cy="18.7" r="0.45" fill="#3a42dc"/><circle cx="343.3" cy="18.7" r="0.45" fill="#3a42dc"/><circle cx="345.8" cy="18.6" r="0.45" fill="#3a42dc"/><circle cx="357.6" cy="18.5" r="0.45" fill="#3a42dc"/><circle cx="354.8" cy="22.5" r="0.45" fill="#3a42dc"/><circle cx="349.7" cy="22.7" r="0.45" fill="#3a42dc"/><circle cx="347.5" cy="22.5" r="0.45" fill="#3a42dc"/><circle cx="353.4" cy="18.8" r="0.45" fill="#3a42dc"/><circle cx="360.2" cy="18.8" r="0.45" fill="#3a42dc"/><circle cx="336.3" cy="22.4" r="0.45" fill="#3a42dc"/><circle cx="331.9" cy="22.4" r="0.45" fill="#3a42dc"/><circle cx="330.2" cy="18.9" r="0.45" fill="#3a42dc"/><circle cx="341.8" cy="22.6" r="0.45" fill="#3a42dc"/><circle cx="348.7" cy="18.7" r="0.45" fill="#3a42dc"/><circle cx="348.0" cy="18.9" r="0.45" fill="#3a42dc"/><circle cx="356.3" cy="19.0" r="0.45" fill="#3a42dc"/><circle cx="335.9" cy="18.7" r="0.45" fill="#3a42dc"/><circle cx="351.6" cy="18.5" r="0.45" fill="#3a42dc"/><circle cx="338.2" cy="18.5" r="0.45" fill="#3a42dc"/><circle cx="360.6" cy="18.4" r="0.45" fill="#3a42dc"/><circle cx="335.4" cy="18.9" r="0.45" fill="#3a42dc"/><circle cx="350.8" cy="18.6" r="0.45" fill="#3a42dc"/><circle cx="359.9" cy="22.3" r="0.45" fill="#3a42dc"/><circle cx="343.2" cy="18.7" r="0.45" fill="#3a42dc"/><circle cx="330.8" cy="22.5" r="0.45" fill="#3a42dc"/><circle cx="360.6" cy="22.7" r="0.45" fill="#3a42dc"/><circle cx="355.4" cy="18.5" r="0.45" fill="#3a42dc"/><rect x="328.8" y="19.9" width="33.5" height="1.7" rx="0.57" fill="#12cade"/><circle cx="346.5" cy="20.6" r="0.35" fill="#2a40d0"/><circle cx="346.5" cy="20.7" r="0.35" fill="#2a40d0"/><circle cx="359.9" cy="20.4" r="0.35" fill="#2a40d0"/><circle cx="353.1" cy="20.5" r="0.35" fill="#2a40d0"/><circle cx="341.3" cy="21.0" r="0.35" fill="#2a40d0"/><circle cx="333.2" cy="20.6" r="0.35" fill="#2a40d0"/><circle cx="341.1" cy="20.5" r="0.35" fill="#2a40d0"/><circle cx="353.9" cy="21.0" r="0.35" fill="#2a40d0"/><circle cx="343.9" cy="20.7" r="0.35" fill="#2a40d0"/><circle cx="355.6" cy="21.2" r="0.35" fill="#2a40d0"/><circle cx="339.5" cy="21.1" r="0.35" fill="#2a40d0"/><circle cx="357.6" cy="21.1" r="0.35" fill="#2a40d0"/><circle cx="342.0" cy="20.0" r="0.35" fill="#2a40d0"/><circle cx="342.7" cy="20.8" r="0.35" fill="#2a40d0"/><circle cx="345.0" cy="21.3" r="0.35" fill="#2a40d0"/><circle cx="342.9" cy="21.0" r="0.35" fill="#2a40d0"/><circle cx="347.1" cy="20.9" r="0.35" fill="#2a40d0"/><circle cx="352.9" cy="20.5" r="0.35" fill="#2a40d0"/><circle cx="353.3" cy="20.7" r="0.35" fill="#2a40d0"/><circle cx="335.5" cy="21.1" r="0.35" fill="#2a40d0"/><rect x="328.4" y="4.8" width="34.3" height="19.9" fill="none" stroke="#e45aa8" stroke-width="1" stroke-dasharray="1.1 2"/><rect x="328.1" y="73.7" width="34.0" height="22.1" fill="#fff"/><circle cx="333.0" cy="91.9" r="0.45" fill="#7070e8"/><circle cx="354.9" cy="90.9" r="0.45" fill="#a0a0f4"/><circle cx="353.9" cy="82.7" r="0.45" fill="#a0a0f4"/><circle cx="335.0" cy="88.4" r="0.45" fill="#9090f0"/><circle cx="344.9" cy="83.3" r="0.45" fill="#7070e8"/><circle cx="360.9" cy="89.3" r="0.45" fill="#7070e8"/><circle cx="330.1" cy="79.6" r="0.45" fill="#7070e8"/><circle cx="353.8" cy="89.2" r="0.45" fill="#7070e8"/><circle cx="340.1" cy="95.0" r="0.45" fill="#9090f0"/><circle cx="359.3" cy="92.7" r="0.45" fill="#7070e8"/><circle cx="342.1" cy="86.6" r="0.45" fill="#a0a0f4"/><circle cx="355.8" cy="82.2" r="0.45" fill="#6a6ae0"/><circle cx="340.2" cy="92.9" r="0.45" fill="#a0a0f4"/><circle cx="354.5" cy="84.3" r="0.45" fill="#9090f0"/><circle cx="335.9" cy="87.0" r="0.45" fill="#a0a0f4"/><circle cx="347.9" cy="90.8" r="0.45" fill="#6a6ae0"/><circle cx="358.4" cy="85.1" r="0.45" fill="#6a6ae0"/><circle cx="349.2" cy="88.7" r="0.45" fill="#9090f0"/><circle cx="356.6" cy="89.5" r="0.45" fill="#9090f0"/><circle cx="361.1" cy="93.7" r="0.45" fill="#a0a0f4"/><circle cx="355.0" cy="85.9" r="0.45" fill="#7070e8"/><circle cx="358.9" cy="83.2" r="0.45" fill="#a0a0f4"/><circle cx="340.0" cy="78.8" r="0.45" fill="#a0a0f4"/><circle cx="335.0" cy="81.2" r="0.45" fill="#6a6ae0"/><circle cx="336.9" cy="90.3" r="0.45" fill="#a0a0f4"/><circle cx="331.5" cy="81.0" r="0.45" fill="#6a6ae0"/><circle cx="357.6" cy="77.0" r="0.45" fill="#9090f0"/><circle cx="331.1" cy="88.8" r="0.45" fill="#6a6ae0"/><circle cx="332.9" cy="77.0" r="0.45" fill="#a0a0f4"/><circle cx="358.0" cy="82.3" r="0.45" fill="#6a6ae0"/><circle cx="343.5" cy="80.1" r="0.45" fill="#9090f0"/><circle cx="352.0" cy="79.1" r="0.45" fill="#6a6ae0"/><circle cx="357.6" cy="79.7" r="0.45" fill="#a0a0f4"/><circle cx="350.2" cy="83.6" r="0.45" fill="#7070e8"/><circle cx="358.2" cy="82.8" r="0.45" fill="#a0a0f4"/><circle cx="359.8" cy="88.0" r="0.45" fill="#6a6ae0"/><circle cx="342.0" cy="86.0" r="0.45" fill="#a0a0f4"/><circle cx="353.7" cy="88.5" r="0.45" fill="#9090f0"/><circle cx="348.8" cy="84.4" r="0.45" fill="#7070e8"/><circle cx="342.4" cy="89.9" r="0.45" fill="#7070e8"/><circle cx="347.1" cy="87.0" r="0.45" fill="#6a6ae0"/><circle cx="358.7" cy="84.7" r="0.45" fill="#9090f0"/><circle cx="333.3" cy="77.0" r="0.45" fill="#6a6ae0"/><circle cx="338.6" cy="92.2" r="0.45" fill="#6a6ae0"/><circle cx="331.2" cy="89.0" r="0.45" fill="#6a6ae0"/><circle cx="335.4" cy="82.8" r="0.45" fill="#6a6ae0"/><circle cx="359.1" cy="85.5" r="0.45" fill="#7070e8"/><circle cx="342.3" cy="80.7" r="0.45" fill="#6a6ae0"/><circle cx="329.2" cy="85.6" r="0.45" fill="#a0a0f4"/><circle cx="345.0" cy="81.9" r="0.45" fill="#7070e8"/><circle cx="358.5" cy="76.9" r="0.45" fill="#6a6ae0"/><circle cx="359.9" cy="95.7" r="0.45" fill="#a0a0f4"/><circle cx="359.7" cy="80.1" r="0.45" fill="#7070e8"/><circle cx="348.1" cy="91.1" r="0.45" fill="#6a6ae0"/><circle cx="343.6" cy="81.1" r="0.45" fill="#7070e8"/><circle cx="355.6" cy="82.8" r="0.45" fill="#a0a0f4"/><circle cx="344.6" cy="85.7" r="0.45" fill="#a0a0f4"/><circle cx="336.7" cy="85.3" r="0.45" fill="#7070e8"/><circle cx="329.7" cy="79.7" r="0.45" fill="#9090f0"/><circle cx="356.4" cy="73.7" r="0.45" fill="#a0a0f4"/><circle cx="349.7" cy="87.4" r="0.45" fill="#9090f0"/><circle cx="353.1" cy="83.4" r="0.45" fill="#6a6ae0"/><circle cx="329.9" cy="83.1" r="0.45" fill="#9090f0"/><circle cx="359.6" cy="87.6" r="0.45" fill="#6a6ae0"/><circle cx="332.9" cy="79.9" r="0.45" fill="#9090f0"/><circle cx="359.0" cy="90.1" r="0.45" fill="#a0a0f4"/><circle cx="339.6" cy="81.1" r="0.45" fill="#a0a0f4"/><circle cx="354.3" cy="83.8" r="0.45" fill="#7070e8"/><circle cx="330.8" cy="85.2" r="0.45" fill="#7070e8"/><circle cx="334.4" cy="84.9" r="0.45" fill="#9090f0"/><circle cx="332.2" cy="81.8" r="0.45" fill="#7070e8"/><circle cx="348.6" cy="97.2" r="0.45" fill="#a0a0f4"/><circle cx="332.5" cy="89.4" r="0.45" fill="#7070e8"/><circle cx="345.0" cy="79.9" r="0.45" fill="#a0a0f4"/><circle cx="355.9" cy="91.9" r="0.45" fill="#a0a0f4"/><circle cx="348.1" cy="88.3" r="0.45" fill="#a0a0f4"/><circle cx="341.5" cy="75.4" r="0.45" fill="#a0a0f4"/><circle cx="343.0" cy="83.5" r="0.45" fill="#9090f0"/><circle cx="344.9" cy="85.5" r="0.45" fill="#9090f0"/><circle cx="336.8" cy="79.4" r="0.45" fill="#9090f0"/><polygon points="328.7,81.53 329.3,81.26 329.9,81.69 330.5,81.67 331.1,81.74 331.7,81.21 332.3,81.69 332.9,81.40 333.5,81.40 334.1,81.48 334.7,81.23 335.3,81.67 335.9,81.46 336.5,81.70 337.1,81.91 337.7,81.36 338.3,81.62 338.9,81.25 339.5,81.55 340.1,81.80 340.7,81.33 341.3,81.26 341.9,81.62 342.5,81.87 343.1,81.47 343.7,81.73 344.3,81.52 344.9,81.81 345.5,81.71 346.1,81.39 346.7,81.88 347.3,81.59 347.9,81.70 348.5,81.50 349.1,81.45 349.7,81.61 350.3,81.27 350.9,81.89 351.5,81.54 352.1,81.45 352.7,81.85 353.3,81.23 353.9,81.61 354.5,81.31 355.1,81.70 355.7,81.77 356.3,81.69 356.9,81.65 357.5,81.74 358.1,81.21 358.7,81.86 359.3,81.22 359.9,81.22 360.5,81.31 361.1,81.68 361.5,81.66 361.5,87.85 361.1,87.98 360.5,88.32 359.9,88.21 359.3,88.24 358.7,88.05 358.1,88.02 357.5,88.29 356.9,87.97 356.3,88.28 355.7,88.11 355.1,88.00 354.5,87.94 353.9,87.90 353.3,88.03 352.7,87.85 352.1,88.38 351.5,88.25 350.9,88.34 350.3,88.02 349.7,87.94 349.1,87.78 348.5,87.90 347.9,87.84 347.3,88.14 346.7,88.08 346.1,88.24 345.5,87.76 344.9,87.86 344.3,88.04 343.7,88.00 343.1,87.86 342.5,88.03 341.9,87.82 341.3,88.25 340.7,88.27 340.1,88.13 339.5,88.01 338.9,88.11 338.3,88.32 337.7,88.06 337.1,88.01 336.5,88.07 335.9,88.19 335.3,87.99 334.7,87.96 334.1,88.03 333.5,87.95 332.9,87.77 332.3,88.00 331.7,87.94 331.1,88.16 330.5,87.84 329.9,88.34 329.3,87.93 328.7,88.32" fill="#2c34d4"/><circle cx="348.4" cy="88.9" r="0.45" fill="#3a42dc"/><circle cx="336.7" cy="80.6" r="0.45" fill="#3a42dc"/><circle cx="355.0" cy="80.8" r="0.45" fill="#3a42dc"/><circle cx="355.0" cy="88.6" r="0.45" fill="#3a42dc"/><circle cx="342.0" cy="88.5" r="0.45" fill="#3a42dc"/><circle cx="345.3" cy="88.6" r="0.45" fill="#3a42dc"/><circle cx="330.3" cy="81.2" r="0.45" fill="#3a42dc"/><circle cx="351.2" cy="81.4" r="0.45" fill="#3a42dc"/><circle cx="351.7" cy="81.2" r="0.45" fill="#3a42dc"/><circle cx="345.1" cy="88.1" r="0.45" fill="#3a42dc"/><circle cx="341.6" cy="80.5" r="0.45" fill="#3a42dc"/><circle cx="342.7" cy="88.9" r="0.45" fill="#3a42dc"/><circle cx="340.5" cy="88.8" r="0.45" fill="#3a42dc"/><circle cx="333.4" cy="89.0" r="0.45" fill="#3a42dc"/><circle cx="342.0" cy="81.1" r="0.45" fill="#3a42dc"/><circle cx="339.2" cy="89.0" r="0.45" fill="#3a42dc"/><circle cx="344.3" cy="81.1" r="0.45" fill="#3a42dc"/><circle cx="331.7" cy="80.8" r="0.45" fill="#3a42dc"/><circle cx="344.5" cy="88.2" r="0.45" fill="#3a42dc"/><circle cx="334.6" cy="88.6" r="0.45" fill="#3a42dc"/><circle cx="349.6" cy="89.0" r="0.45" fill="#3a42dc"/><circle cx="346.8" cy="81.3" r="0.45" fill="#3a42dc"/><circle cx="339.0" cy="80.6" r="0.45" fill="#3a42dc"/><circle cx="339.8" cy="88.5" r="0.45" fill="#3a42dc"/><circle cx="348.9" cy="88.3" r="0.45" fill="#3a42dc"/><circle cx="343.3" cy="80.7" r="0.45" fill="#3a42dc"/><circle cx="350.1" cy="88.4" r="0.45" fill="#3a42dc"/><circle cx="351.5" cy="88.8" r="0.45" fill="#3a42dc"/><circle cx="343.3" cy="88.9" r="0.45" fill="#3a42dc"/><circle cx="350.4" cy="80.8" r="0.45" fill="#3a42dc"/><circle cx="334.3" cy="80.7" r="0.45" fill="#3a42dc"/><circle cx="337.2" cy="80.9" r="0.45" fill="#3a42dc"/><circle cx="354.8" cy="88.7" r="0.45" fill="#3a42dc"/><circle cx="344.8" cy="88.9" r="0.45" fill="#3a42dc"/><circle cx="344.4" cy="88.1" r="0.45" fill="#3a42dc"/><circle cx="354.4" cy="81.2" r="0.45" fill="#3a42dc"/><circle cx="345.8" cy="81.0" r="0.45" fill="#3a42dc"/><circle cx="350.8" cy="88.5" r="0.45" fill="#3a42dc"/><circle cx="356.1" cy="80.9" r="0.45" fill="#3a42dc"/><circle cx="330.8" cy="88.1" r="0.45" fill="#3a42dc"/><circle cx="348.1" cy="88.9" r="0.45" fill="#3a42dc"/><circle cx="330.6" cy="88.5" r="0.45" fill="#3a42dc"/><circle cx="351.2" cy="81.0" r="0.45" fill="#3a42dc"/><circle cx="354.2" cy="88.3" r="0.45" fill="#3a42dc"/><circle cx="354.6" cy="81.1" r="0.45" fill="#3a42dc"/><circle cx="339.3" cy="88.7" r="0.45" fill="#3a42dc"/><circle cx="352.5" cy="81.2" r="0.45" fill="#3a42dc"/><circle cx="339.4" cy="81.0" r="0.45" fill="#3a42dc"/><circle cx="336.0" cy="81.1" r="0.45" fill="#3a42dc"/><circle cx="357.4" cy="88.1" r="0.45" fill="#3a42dc"/><circle cx="354.4" cy="81.0" r="0.45" fill="#3a42dc"/><circle cx="347.5" cy="81.2" r="0.45" fill="#3a42dc"/><circle cx="335.1" cy="89.0" r="0.45" fill="#3a42dc"/><circle cx="356.2" cy="88.2" r="0.45" fill="#3a42dc"/><circle cx="338.2" cy="88.5" r="0.45" fill="#3a42dc"/><circle cx="330.0" cy="88.5" r="0.45" fill="#3a42dc"/><circle cx="340.9" cy="80.7" r="0.45" fill="#3a42dc"/><rect x="328.5" y="83.0" width="33.2" height="3.8" rx="1.27" fill="#12cade"/><circle cx="336.1" cy="84.2" r="0.35" fill="#2a40d0"/><circle cx="350.0" cy="84.3" r="0.35" fill="#2a40d0"/><circle cx="351.2" cy="85.0" r="0.35" fill="#2a40d0"/><circle cx="340.2" cy="83.5" r="0.35" fill="#2a40d0"/><circle cx="336.2" cy="84.9" r="0.35" fill="#2a40d0"/><circle cx="360.1" cy="84.8" r="0.35" fill="#2a40d0"/><circle cx="350.5" cy="85.4" r="0.35" fill="#2a40d0"/><circle cx="355.2" cy="85.6" r="0.35" fill="#2a40d0"/><circle cx="340.7" cy="84.7" r="0.35" fill="#2a40d0"/><circle cx="339.1" cy="83.0" r="0.35" fill="#2a40d0"/><circle cx="357.0" cy="84.2" r="0.35" fill="#2a40d0"/><circle cx="338.3" cy="86.7" r="0.35" fill="#2a40d0"/><circle cx="332.9" cy="85.3" r="0.35" fill="#2a40d0"/><circle cx="347.7" cy="84.8" r="0.35" fill="#2a40d0"/><circle cx="356.1" cy="83.5" r="0.35" fill="#2a40d0"/><circle cx="329.4" cy="84.4" r="0.35" fill="#2a40d0"/><circle cx="336.8" cy="83.9" r="0.35" fill="#2a40d0"/><circle cx="338.2" cy="84.7" r="0.35" fill="#2a40d0"/><circle cx="358.3" cy="85.5" r="0.35" fill="#2a40d0"/><circle cx="341.5" cy="84.1" r="0.35" fill="#2a40d0"/><rect x="328.1" y="73.7" width="34.0" height="22.1" fill="none" stroke="#e45aa8" stroke-width="1" stroke-dasharray="1.1 2"/><line x1="255.9" y1="71.4" x2="260.3" y2="75.8" stroke="#e0409a" stroke-width="0.7"/><polygon points="261.8,77.4 259.5,76.6 261.0,75.1" fill="#e0208a"/><line x1="293.0" y1="55.2" x2="295.8" y2="61.1" stroke="#e0409a" stroke-width="0.7"/><polygon points="296.7,63.1 294.8,61.6 296.8,60.6" fill="#e0208a"/><line x1="362.5" y1="8.5" x2="365.7" y2="12.7" stroke="#e0409a" stroke-width="0.7"/><polygon points="367.0,14.5 364.8,13.4 366.6,12.1" fill="#e0208a"/><line x1="344.8" y1="71.3" x2="342.1" y2="67.1" stroke="#e0409a" stroke-width="0.7"/><polygon points="340.9,65.2 343.0,66.5 341.2,67.6" fill="#e0208a"/><circle cx="251.4" cy="88.6" r="1.9" fill="url(#gb)"/><circle cx="268.2" cy="87.4" r="2.4" fill="#dc1890"/><circle cx="268.2" cy="87.4" r="1.6" fill="url(#gb)"/><circle cx="285.0" cy="82.3" r="1.9" fill="url(#gb)"/><circle cx="301.4" cy="71.8" r="2.4" fill="#dc1890"/><circle cx="301.4" cy="71.8" r="1.6" fill="url(#gb)"/><circle cx="318.3" cy="63.5" r="1.9" fill="url(#gb)"/><circle cx="334.8" cy="55.7" r="2.4" fill="#dc1890"/><circle cx="334.8" cy="55.7" r="1.6" fill="url(#gb)"/><circle cx="352.1" cy="49.0" r="1.9" fill="url(#gb)"/><circle cx="368.5" cy="16.9" r="1.9" fill="url(#gb)"/><rect x="238.3" y="0.4" width="140.2" height="105.2" fill="none" stroke="#111" stroke-width="0.85"/><path d="M244.8 105.6v-1.6M244.8 0.4v1.6M251.5 105.6v-0.9M251.5 0.4v0.9M258.2 105.6v-1.6M258.2 0.4v1.6M264.9 105.6v-0.9M264.9 0.4v0.9M271.7 105.6v-1.6M271.7 0.4v1.6M278.4 105.6v-0.9M278.4 0.4v0.9M285.1 105.6v-1.6M285.1 0.4v1.6M291.8 105.6v-0.9M291.8 0.4v0.9M298.5 105.6v-1.6M298.5 0.4v1.6M305.2 105.6v-0.9M305.2 0.4v0.9M312.0 105.6v-1.6M312.0 0.4v1.6M318.7 105.6v-0.9M318.7 0.4v0.9M325.4 105.6v-1.6M325.4 0.4v1.6M332.1 105.6v-0.9M332.1 0.4v0.9M338.8 105.6v-1.6M338.8 0.4v1.6M345.5 105.6v-0.9M345.5 0.4v0.9M352.2 105.6v-1.6M352.2 0.4v1.6M359.0 105.6v-0.9M359.0 0.4v0.9M365.7 105.6v-1.6M365.7 0.4v1.6M372.4 105.6v-0.9M372.4 0.4v0.9M238.3 100.7h1.6M378.5 100.7h-1.6M238.3 95.5h0.9M378.5 95.5h-0.9M238.3 90.2h1.6M378.5 90.2h-1.6M238.3 85.0h0.9M378.5 85.0h-0.9M238.3 79.7h1.6M378.5 79.7h-1.6M238.3 74.5h0.9M378.5 74.5h-0.9M238.3 69.2h1.6M378.5 69.2h-1.6M238.3 64.0h0.9M378.5 64.0h-0.9M238.3 58.7h1.6M378.5 58.7h-1.6M238.3 53.5h0.9M378.5 53.5h-0.9M238.3 48.2h1.6M378.5 48.2h-1.6M238.3 43.0h0.9M378.5 43.0h-0.9M238.3 37.7h1.6M378.5 37.7h-1.6M238.3 32.5h0.9M378.5 32.5h-0.9M238.3 27.2h1.6M378.5 27.2h-1.6M238.3 22.0h0.9M378.5 22.0h-0.9M238.3 16.7h1.6M378.5 16.7h-1.6M238.3 11.5h0.9M378.5 11.5h-0.9M238.3 6.2h1.6M378.5 6.2h-1.6M238.3 1.0h0.9M378.5 1.0h-0.9" stroke="#111" stroke-width="0.6" fill="none"/><text x="244.8" y="111.4" font-size="3.8" text-anchor="middle" textLength="7.8" lengthAdjust="spacingAndGlyphs">2400</text><text x="258.2" y="111.4" font-size="3.8" text-anchor="middle" textLength="7.8" lengthAdjust="spacingAndGlyphs">2600</text><text x="271.7" y="111.4" font-size="3.8" text-anchor="middle" textLength="7.8" lengthAdjust="spacingAndGlyphs">2800</text><text x="285.1" y="111.4" font-size="3.8" text-anchor="middle" textLength="7.8" lengthAdjust="spacingAndGlyphs">3000</text><text x="298.5" y="111.4" font-size="3.8" text-anchor="middle" textLength="7.8" lengthAdjust="spacingAndGlyphs">3200</text><text x="312.0" y="111.4" font-size="3.8" text-anchor="middle" textLength="7.8" lengthAdjust="spacingAndGlyphs">3400</text><text x="325.4" y="111.4" font-size="3.8" text-anchor="middle" textLength="7.8" lengthAdjust="spacingAndGlyphs">3600</text><text x="338.8" y="111.4" font-size="3.8" text-anchor="middle" textLength="7.8" lengthAdjust="spacingAndGlyphs">3800</text><text x="352.2" y="111.4" font-size="3.8" text-anchor="middle" textLength="7.8" lengthAdjust="spacingAndGlyphs">4000</text><text x="365.7" y="111.4" font-size="3.8" text-anchor="middle" textLength="7.8" lengthAdjust="spacingAndGlyphs">4200</text><text x="379.1" y="111.4" font-size="3.8" text-anchor="middle" textLength="7.8" lengthAdjust="spacingAndGlyphs">4400</text><text x="236.2" y="102.0" font-size="3.8" text-anchor="end">-5</text><text x="236.2" y="91.5" font-size="3.8" text-anchor="end">0</text><text x="236.2" y="81.0" font-size="3.8" text-anchor="end">5</text><text x="236.2" y="70.5" font-size="3.8" text-anchor="end">10</text><text x="236.2" y="60.0" font-size="3.8" text-anchor="end">15</text><text x="236.2" y="49.5" font-size="3.8" text-anchor="end">20</text><text x="236.2" y="39.0" font-size="3.8" text-anchor="end">25</text><text x="236.2" y="28.5" font-size="3.8" text-anchor="end">30</text><text x="236.2" y="18.0" font-size="3.8" text-anchor="end">35</text><text x="236.2" y="7.5" font-size="3.8" text-anchor="end">40</text><text x="284" y="119.6" font-size="5.2" stroke="#000" stroke-width="0.1" textLength="48.9" lengthAdjust="spacingAndGlyphs">Printing voltage, V (v)</text><text transform="translate(229.6,77.2) rotate(-90)" font-size="5" stroke="#000" stroke-width="0.08" textLength="46.2" lengthAdjust="spacingAndGlyphs">Pattern width, D (nm)</text><text x="263" y="32" font-size="4" text-anchor="middle">I</text><text x="320.5" y="31.6" font-size="4" text-anchor="middle">II</text><text x="366.3" y="31.6" font-size="4" text-anchor="middle">III</text><rect x="247.7" y="132.4" width="114" height="5" rx="0.9" fill="#fff" stroke="#b0b0b0" stroke-width="0.4"/><polygon points="252.8,133.3 254.3,136.1 251.3,136.1" fill="#f5a623"/><text x="256.4" y="135.9" font-size="3.1" class="n" style="font-family:'Liberation Sans',sans-serif" fill="#444" textLength="21.4" lengthAdjust="spacingAndGlyphs">Discontinuous</text><rect x="283.7" y="133.7" width="3" height="2.3" fill="#1ab8b0"/><text x="289.1" y="135.9" font-size="3.1" class="n" style="font-family:'Liberation Sans',sans-serif" fill="#444" textLength="15.4" lengthAdjust="spacingAndGlyphs">Overspray</text><polygon points="311.5,133.6 312.8,134.9 311.5,136.2 310.2,134.9" fill="#1050c8"/><text x="315.1" y="135.9" font-size="3.1" class="n" style="font-family:'Liberation Sans',sans-serif" fill="#444" textLength="18.4" lengthAdjust="spacingAndGlyphs">Satellite drop</text><path d="M342 136.2 L340.3 133.3 L341.2 133.1 L342 133.8 L342.8 133.1 L343.8 133.3 Z" fill="#e0188a"/><text x="346.1" y="135.9" font-size="3.1" class="n" style="font-family:'Liberation Sans',sans-serif" fill="#444" textLength="10.7" lengthAdjust="spacingAndGlyphs">Multi-jet</text><rect x="238.1" y="139.2" width="19.25" height="45.70" fill="#c8eeee"/><rect x="257.0" y="139.2" width="35.35" height="13.85" fill="#cce3f1"/><rect x="257.0" y="152.7" width="16.35" height="32.20" fill="#cce3f1"/><rect x="292.0" y="139.2" width="13.00" height="13.85" fill="#f7c9e6"/><rect x="273.0" y="152.7" width="32.00" height="32.20" fill="#f7c9e6"/><rect x="241.7" y="143.8" width="1.5" height="1.5" fill="#10b0a8"/><rect x="248.2" y="143.8" width="1.5" height="1.5" fill="#10b0a8"/><rect x="254.9" y="143.8" width="1.5" height="1.5" fill="#10b0a8"/><rect x="257.1" y="143.8" width="1.5" height="1.5" fill="#1060c8"/><rect x="262.4" y="143.8" width="1.5" height="1.5" fill="#1060c8"/><rect x="280.2" y="143.8" width="1.5" height="1.5" fill="#1060c8"/><rect x="299.9" y="143.8" width="1.5" height="1.5" fill="#e0188a"/><rect x="241.7" y="166.3" width="1.5" height="1.5" fill="#10b0a8"/><rect x="248.2" y="166.3" width="1.5" height="1.5" fill="#10b0a8"/><rect x="254.9" y="166.3" width="1.5" height="1.5" fill="#10b0a8"/><rect x="257.1" y="166.3" width="1.5" height="1.5" fill="#1060c8"/><rect x="262.4" y="166.3" width="1.5" height="1.5" fill="#1060c8"/><rect x="280.2" y="166.3" width="1.5" height="1.5" fill="#e0188a"/><rect x="299.9" y="166.3" width="1.5" height="1.5" fill="#e0188a"/><rect x="241.7" y="180.8" width="1.5" height="1.5" fill="#10b0a8"/><rect x="248.2" y="180.8" width="1.5" height="1.5" fill="#10b0a8"/><rect x="254.9" y="180.8" width="1.5" height="1.5" fill="#10b0a8"/><rect x="257.1" y="180.8" width="1.5" height="1.5" fill="#1060c8"/><rect x="262.4" y="180.8" width="1.5" height="1.5" fill="#1060c8"/><rect x="280.2" y="180.8" width="1.5" height="1.5" fill="#e0188a"/><rect x="299.9" y="180.8" width="1.5" height="1.5" fill="#e0188a"/><rect x="238.1" y="139.2" width="66.9" height="45.7" fill="none" stroke="#666" stroke-width="0.45"/><path d="M238.1 184.9v-0.9M238.1 139.2v0.9M249.3 184.9v-0.9M249.3 139.2v0.9M260.5 184.9v-0.9M260.5 139.2v0.9M271.7 184.9v-0.9M271.7 139.2v0.9M282.9 184.9v-0.9M282.9 139.2v0.9M294.1 184.9v-0.9M294.1 139.2v0.9M305.0 184.9v-0.9M305.0 139.2v0.9M238.1 139.6h0.9M305.0 139.6h-0.9M238.1 145.0h0.9M305.0 145.0h-0.9M238.1 150.9h0.9M305.0 150.9h-0.9M238.1 156.8h0.9M305.0 156.8h-0.9M238.1 162.6h0.9M305.0 162.6h-0.9M238.1 168.4h0.9M305.0 168.4h-0.9M238.1 174.3h0.9M305.0 174.3h-0.9M238.1 180.1h0.9M305.0 180.1h-0.9" stroke="#555" stroke-width="0.35"/><text x="238.1" y="187.9" font-size="2.6" class="n" fill="#111" text-anchor="middle">0.1</text><text x="249.3" y="187.9" font-size="2.6" class="n" fill="#111" text-anchor="middle">0.2</text><text x="260.5" y="187.9" font-size="2.6" class="n" fill="#111" text-anchor="middle">0.3</text><text x="271.7" y="187.9" font-size="2.6" class="n" fill="#111" text-anchor="middle">0.4</text><text x="282.9" y="187.9" font-size="2.6" class="n" fill="#111" text-anchor="middle">0.5</text><text x="294.1" y="187.9" font-size="2.6" class="n" fill="#111" text-anchor="middle">0.6</text><text x="305.0" y="187.9" font-size="2.6" class="n" fill="#111" text-anchor="middle">0.7</text><text x="237.0" y="140.5" font-size="2.6" class="n" fill="#111" text-anchor="end">1.0</text><text x="237.0" y="145.9" font-size="2.6" class="n" fill="#111" text-anchor="end">0.9</text><text x="237.0" y="151.8" font-size="2.6" class="n" fill="#111" text-anchor="end">0.8</text><text x="237.0" y="157.7" font-size="2.6" class="n" fill="#111" text-anchor="end">0.7</text><text x="237.0" y="163.5" font-size="2.6" class="n" fill="#111" text-anchor="end">0.6</text><text x="237.0" y="169.3" font-size="2.6" class="n" fill="#111" text-anchor="end">0.5</text><text x="237.0" y="175.2" font-size="2.6" class="n" fill="#111" text-anchor="end">0.4</text><text x="237.0" y="181.0" font-size="2.6" class="n" fill="#111" text-anchor="end">0.3</text><text x="231.1" y="140.4" font-size="2.4" class="n" fill="#333" text-anchor="middle">10<tspan font-size="1.6" dy="-0.8">0</tspan></text><text transform="translate(231.9,162.6) rotate(-90)" font-size="2.6" class="n" fill="#222" text-anchor="middle">Oh</text><text x="271.7" y="191.6" font-size="3" class="n" fill="#222" text-anchor="middle">Re<tspan font-size="1.7" dy="0.6">x</tspan></text><rect x="319.8" y="139.4" width="36.35" height="11.15" fill="#c8eeee"/><rect x="355.8" y="139.4" width="18.95" height="11.15" fill="#cce3f1"/><rect x="374.4" y="139.4" width="11.80" height="11.15" fill="#f7c9e6"/><rect x="319.8" y="150.2" width="11.55" height="34.60" fill="#fff0d6"/><rect x="331.0" y="150.2" width="19.95" height="34.60" fill="#c8eeee"/><rect x="350.6" y="150.2" width="18.95" height="13.95" fill="#cce3f1"/><rect x="369.2" y="150.2" width="17.00" height="13.95" fill="#f7c9e6"/><rect x="345.5" y="163.8" width="17.35" height="11.15" fill="#cce3f1"/><rect x="362.5" y="163.8" width="23.70" height="11.15" fill="#f7c9e6"/><rect x="349.7" y="174.6" width="7.85" height="10.20" fill="#cce3f1"/><rect x="357.2" y="174.6" width="29.00" height="10.20" fill="#f7c9e6"/><rect x="326.6" y="142.2" width="1.5" height="1.5" fill="#10b0a8"/><rect x="333.6" y="142.2" width="1.5" height="1.5" fill="#10b0a8"/><rect x="342.2" y="142.2" width="1.5" height="1.5" fill="#10b0a8"/><rect x="352.2" y="142.2" width="1.5" height="1.5" fill="#10b0a8"/><rect x="358.1" y="142.2" width="1.5" height="1.5" fill="#1060c8"/><rect x="364.1" y="142.2" width="1.5" height="1.5" fill="#1060c8"/><rect x="370.4" y="142.2" width="1.5" height="1.5" fill="#1060c8"/><rect x="377.2" y="142.2" width="1.5" height="1.5" fill="#e0188a"/><rect x="326.6" y="156.1" width="1.5" height="1.5" fill="#f5a020"/><rect x="333.6" y="156.1" width="1.5" height="1.5" fill="#10b0a8"/><rect x="342.2" y="156.1" width="1.5" height="1.5" fill="#10b0a8"/><rect x="347.1" y="156.1" width="1.5" height="1.5" fill="#10b0a8"/><rect x="352.2" y="156.1" width="1.5" height="1.5" fill="#1060c8"/><rect x="357.1" y="156.1" width="1.5" height="1.5" fill="#1060c8"/><rect x="358.6" y="156.1" width="1.5" height="1.5" fill="#1060c8"/><rect x="365.9" y="156.1" width="1.5" height="1.5" fill="#1060c8"/><rect x="370.4" y="156.1" width="1.5" height="1.5" fill="#e0188a"/><rect x="377.2" y="156.1" width="1.5" height="1.5" fill="#e0188a"/><rect x="326.6" y="170.1" width="1.5" height="1.5" fill="#f5a020"/><rect x="333.6" y="170.1" width="1.5" height="1.5" fill="#10b0a8"/><rect x="341.9" y="170.1" width="1.5" height="1.5" fill="#10b0a8"/><rect x="347.1" y="170.1" width="1.5" height="1.5" fill="#1060c8"/><rect x="352.2" y="170.1" width="1.5" height="1.5" fill="#1060c8"/><rect x="357.2" y="170.1" width="1.5" height="1.5" fill="#1060c8"/><rect x="358.6" y="170.1" width="1.5" height="1.5" fill="#1060c8"/><rect x="364.2" y="170.1" width="1.5" height="1.5" fill="#e0188a"/><rect x="365.8" y="170.1" width="1.5" height="1.5" fill="#e0188a"/><rect x="377.1" y="170.1" width="1.5" height="1.5" fill="#e0188a"/><rect x="326.6" y="179.2" width="1.5" height="1.5" fill="#f5a020"/><rect x="333.6" y="179.2" width="1.5" height="1.5" fill="#10b0a8"/><rect x="341.9" y="179.2" width="1.5" height="1.5" fill="#10b0a8"/><rect x="346.9" y="179.2" width="1.5" height="1.5" fill="#10b0a8"/><rect x="350.1" y="179.2" width="1.5" height="1.5" fill="#1060c8"/><rect x="351.8" y="179.2" width="1.5" height="1.5" fill="#1060c8"/><rect x="353.4" y="179.2" width="1.5" height="1.5" fill="#1060c8"/><rect x="355.1" y="179.2" width="1.5" height="1.5" fill="#1060c8"/><rect x="357.9" y="179.2" width="1.5" height="1.5" fill="#e0188a"/><rect x="364.2" y="179.2" width="1.5" height="1.5" fill="#e0188a"/><rect x="365.8" y="179.2" width="1.5" height="1.5" fill="#e0188a"/><rect x="377.1" y="179.2" width="1.5" height="1.5" fill="#e0188a"/><rect x="319.8" y="139.4" width="66.4" height="45.4" fill="none" stroke="#666" stroke-width="0.45"/><path d="M323.9 184.8v-0.9M323.9 139.4v0.9M332.6 184.8v-0.9M332.6 139.4v0.9M341.4 184.8v-0.9M341.4 139.4v0.9M350.2 184.8v-0.9M350.2 139.4v0.9M359.0 184.8v-0.9M359.0 139.4v0.9M367.9 184.8v-0.9M367.9 139.4v0.9M376.8 184.8v-0.9M376.8 139.4v0.9M385.6 184.8v-0.9M385.6 139.4v0.9M319.8 140.0h0.9M386.2 140.0h-0.9M319.8 145.9h0.9M386.2 145.9h-0.9M319.8 154.9h0.9M386.2 154.9h-0.9M319.8 161.4h0.9M386.2 161.4h-0.9M319.8 166.8h0.9M386.2 166.8h-0.9M319.8 173.7h0.9M386.2 173.7h-0.9M319.8 181.6h0.9M386.2 181.6h-0.9" stroke="#555" stroke-width="0.35"/><text x="323.9" y="187.8" font-size="2.6" class="n" fill="#111" text-anchor="middle">0.1</text><text x="332.6" y="187.8" font-size="2.6" class="n" fill="#111" text-anchor="middle">0.2</text><text x="341.4" y="187.8" font-size="2.6" class="n" fill="#111" text-anchor="middle">0.3</text><text x="350.2" y="187.8" font-size="2.6" class="n" fill="#111" text-anchor="middle">0.4</text><text x="359.0" y="187.8" font-size="2.6" class="n" fill="#111" text-anchor="middle">0.5</text><text x="367.9" y="187.8" font-size="2.6" class="n" fill="#111" text-anchor="middle">0.6</text><text x="376.8" y="187.8" font-size="2.6" class="n" fill="#111" text-anchor="middle">0.7</text><text x="385.6" y="187.8" font-size="2.6" class="n" fill="#111" text-anchor="middle">0.8</text><text x="318.7" y="140.9" font-size="2.6" class="n" fill="#111" text-anchor="end">1.0</text><text x="318.7" y="146.8" font-size="2.6" class="n" fill="#111" text-anchor="end">0.9</text><text x="318.7" y="155.8" font-size="2.6" class="n" fill="#111" text-anchor="end">0.8</text><text x="318.7" y="162.3" font-size="2.6" class="n" fill="#111" text-anchor="end">0.7</text><text x="318.7" y="167.7" font-size="2.6" class="n" fill="#111" text-anchor="end">0.6</text><text x="318.7" y="174.6" font-size="2.6" class="n" fill="#111" text-anchor="end">0.5</text><text x="318.7" y="182.5" font-size="2.6" class="n" fill="#111" text-anchor="end">0.4</text><text x="312.8" y="140.6" font-size="2.4" class="n" fill="#333" text-anchor="middle">10<tspan font-size="1.6" dy="-0.8">0</tspan></text><text transform="translate(313.6,156.8) rotate(-90)" font-size="2.6" class="n" fill="#222" text-anchor="middle">Oh</text><text x="353" y="191.2" font-size="3" class="n" fill="#222" text-anchor="middle">Re<tspan font-size="1.7" dy="0.6">x</tspan></text><rect x="277.5" y="198.8" width="22.15" height="11.45" fill="#c8eeee"/><rect x="299.3" y="198.8" width="24.55" height="11.45" fill="#cce3f1"/><rect x="323.5" y="198.8" width="19.70" height="11.45" fill="#f7c9e6"/><rect x="277.5" y="209.9" width="7.65" height="25.95" fill="#fff0d6"/><rect x="284.8" y="209.9" width="14.85" height="13.95" fill="#c8eeee"/><rect x="299.3" y="209.9" width="17.35" height="13.95" fill="#cce3f1"/><rect x="316.3" y="209.9" width="26.90" height="13.95" fill="#f7c9e6"/><rect x="284.8" y="223.5" width="12.55" height="12.35" fill="#c8eeee"/><rect x="297.0" y="223.5" width="10.35" height="12.35" fill="#cce3f1"/><rect x="307.0" y="223.5" width="36.20" height="12.35" fill="#f7c9e6"/><rect x="277.5" y="235.5" width="13.65" height="8.00" fill="#fff0d6"/><rect x="290.8" y="235.5" width="5.55" height="8.00" fill="#c8eeee"/><rect x="296.0" y="235.5" width="7.55" height="8.00" fill="#cce3f1"/><rect x="303.2" y="235.5" width="40.00" height="8.00" fill="#f7c9e6"/><rect x="281.1" y="201.6" width="1.5" height="1.5" fill="#10b0a8"/><rect x="286.6" y="201.6" width="1.5" height="1.5" fill="#10b0a8"/><rect x="293.2" y="201.6" width="1.5" height="1.5" fill="#10b0a8"/><rect x="296.8" y="201.6" width="1.5" height="1.5" fill="#10b0a8"/><rect x="300.4" y="201.6" width="1.5" height="1.5" fill="#1060c8"/><rect x="306.1" y="201.6" width="1.5" height="1.5" fill="#1060c8"/><rect x="311.9" y="201.6" width="1.5" height="1.5" fill="#1060c8"/><rect x="318.2" y="201.6" width="1.5" height="1.5" fill="#1060c8"/><rect x="325.2" y="201.6" width="1.5" height="1.5" fill="#e0188a"/><rect x="340.1" y="201.6" width="1.5" height="1.5" fill="#e0188a"/><rect x="281.1" y="215.2" width="1.5" height="1.5" fill="#f5a020"/><rect x="286.6" y="215.2" width="1.5" height="1.5" fill="#10b0a8"/><rect x="293.2" y="215.2" width="1.5" height="1.5" fill="#10b0a8"/><rect x="296.8" y="215.2" width="1.5" height="1.5" fill="#10b0a8"/><rect x="300.4" y="215.2" width="1.5" height="1.5" fill="#1060c8"/><rect x="306.1" y="215.2" width="1.5" height="1.5" fill="#1060c8"/><rect x="311.9" y="215.2" width="1.5" height="1.5" fill="#1060c8"/><rect x="318.6" y="215.2" width="1.5" height="1.5" fill="#e0188a"/><rect x="325.2" y="215.2" width="1.5" height="1.5" fill="#e0188a"/><rect x="340.1" y="215.2" width="1.5" height="1.5" fill="#e0188a"/><rect x="281.1" y="228.8" width="1.5" height="1.5" fill="#f5a020"/><rect x="286.6" y="228.8" width="1.5" height="1.5" fill="#10b0a8"/><rect x="293.2" y="228.8" width="1.5" height="1.5" fill="#10b0a8"/><rect x="297.1" y="228.8" width="1.5" height="1.5" fill="#10b0a8"/><rect x="300.9" y="228.8" width="1.5" height="1.5" fill="#1060c8"/><rect x="304.9" y="228.8" width="1.5" height="1.5" fill="#1060c8"/><rect x="309.1" y="228.8" width="1.5" height="1.5" fill="#e0188a"/><rect x="318.6" y="228.8" width="1.5" height="1.5" fill="#e0188a"/><rect x="325.2" y="228.8" width="1.5" height="1.5" fill="#e0188a"/><rect x="340.1" y="228.8" width="1.5" height="1.5" fill="#e0188a"/><rect x="281.1" y="238.6" width="1.5" height="1.5" fill="#f5a020"/><rect x="286.6" y="238.6" width="1.5" height="1.5" fill="#f5a020"/><rect x="293.2" y="238.6" width="1.5" height="1.5" fill="#10b0a8"/><rect x="296.4" y="238.6" width="1.5" height="1.5" fill="#1060c8"/><rect x="300.6" y="238.6" width="1.5" height="1.5" fill="#1060c8"/><rect x="304.9" y="238.6" width="1.5" height="1.5" fill="#e0188a"/><rect x="318.6" y="238.6" width="1.5" height="1.5" fill="#e0188a"/><rect x="325.2" y="238.6" width="1.5" height="1.5" fill="#e0188a"/><rect x="340.1" y="238.6" width="1.5" height="1.5" fill="#e0188a"/><rect x="277.5" y="198.8" width="65.7" height="44.7" fill="none" stroke="#666" stroke-width="0.45"/><path d="M277.5 243.5v-0.9M277.5 198.8v0.9M284.8 243.5v-0.9M284.8 198.8v0.9M292.1 243.5v-0.9M292.1 198.8v0.9M299.4 243.5v-0.9M299.4 198.8v0.9M306.7 243.5v-0.9M306.7 198.8v0.9M314.0 243.5v-0.9M314.0 198.8v0.9M321.3 243.5v-0.9M321.3 198.8v0.9M328.6 243.5v-0.9M328.6 198.8v0.9M335.9 243.5v-0.9M335.9 198.8v0.9M343.2 243.5v-0.9M343.2 198.8v0.9M277.5 199.2h0.9M343.2 199.2h-0.9M277.5 206.1h0.9M343.2 206.1h-0.9M277.5 213.1h0.9M343.2 213.1h-0.9M277.5 220.0h0.9M343.2 220.0h-0.9M277.5 227.6h0.9M343.2 227.6h-0.9M277.5 234.0h0.9M343.2 234.0h-0.9M277.5 241.0h0.9M343.2 241.0h-0.9" stroke="#555" stroke-width="0.35"/><text x="277.5" y="246.5" font-size="2.6" class="n" fill="#111" text-anchor="middle">0.1</text><text x="284.8" y="246.5" font-size="2.6" class="n" fill="#111" text-anchor="middle">0.2</text><text x="292.1" y="246.5" font-size="2.6" class="n" fill="#111" text-anchor="middle">0.3</text><text x="299.4" y="246.5" font-size="2.6" class="n" fill="#111" text-anchor="middle">0.4</text><text x="306.7" y="246.5" font-size="2.6" class="n" fill="#111" text-anchor="middle">0.5</text><text x="314.0" y="246.5" font-size="2.6" class="n" fill="#111" text-anchor="middle">0.6</text><text x="321.3" y="246.5" font-size="2.6" class="n" fill="#111" text-anchor="middle">0.7</text><text x="328.6" y="246.5" font-size="2.6" class="n" fill="#111" text-anchor="middle">0.8</text><text x="335.9" y="246.5" font-size="2.6" class="n" fill="#111" text-anchor="middle">0.9</text><text x="343.2" y="246.5" font-size="2.6" class="n" fill="#111" text-anchor="middle">1.0</text><text x="276.4" y="200.1" font-size="2.6" class="n" fill="#111" text-anchor="end">1.0</text><text x="276.4" y="207.0" font-size="2.6" class="n" fill="#111" text-anchor="end">0.9</text><text x="276.4" y="214.0" font-size="2.6" class="n" fill="#111" text-anchor="end">0.8</text><text x="276.4" y="220.9" font-size="2.6" class="n" fill="#111" text-anchor="end">0.7</text><text x="276.4" y="228.5" font-size="2.6" class="n" fill="#111" text-anchor="end">0.6</text><text x="276.4" y="234.9" font-size="2.6" class="n" fill="#111" text-anchor="end">0.5</text><text x="276.4" y="241.9" font-size="2.6" class="n" fill="#111" text-anchor="end">0.4</text><text x="270.5" y="200.0" font-size="2.4" class="n" fill="#333" text-anchor="middle">10<tspan font-size="1.6" dy="-0.8">0</tspan></text><text transform="translate(271.3,221.3) rotate(-90)" font-size="2.6" class="n" fill="#222" text-anchor="middle">Oh</text><text x="310.8" y="251.2" font-size="3" class="n" fill="#222" text-anchor="middle">Re<tspan font-size="1.7" dy="0.6">x</tspan></text><defs><linearGradient id="gl" x1="0" y1="0" x2="0" y2="1"><stop offset="0" stop-color="#939393"/><stop offset="0.25" stop-color="#888888"/><stop offset="1" stop-color="#858585"/></linearGradient><linearGradient id="gr" x1="0" y1="0" x2="0" y2="1"><stop offset="0" stop-color="#929292"/><stop offset="0.3" stop-color="#888888"/><stop offset="1" stop-color="#848484"/></linearGradient><linearGradient id="gm" x1="0" y1="0" x2="0" y2="1"><stop offset="0" stop-color="#c0c0c0"/><stop offset="0.12" stop-color="#a6a6a6"/><stop offset="0.45" stop-color="#989898"/><stop offset="1" stop-color="#8e8e8e"/></linearGradient></defs><rect x="60" y="143.2" width="139" height="46.5" fill="#888e88"/><rect x="60" y="143.2" width="139" height="0.8" fill="#5a605c"/><rect x="106.3" y="143.5" width="0.6" height="46.2" fill="#7c827e"/><rect x="152.8" y="143.5" width="0.6" height="46.2" fill="#7c827e"/><line x1="60.5" y1="164.6" x2="106.3" y2="164.6" stroke="#5f6561" stroke-width="0.8" stroke-dasharray="1.5 0.8"/><rect x="60" y="165.4" width="46.5" height="0.7" fill="#9aa09b"/><rect x="60" y="166.5" width="46.5" height="0.6" fill="#7a807b"/><rect x="106.8" y="159.5" width="46" height="1.1" fill="#545a56"/><rect x="106.8" y="170.1" width="46" height="1.1" fill="#545a56"/><rect x="153.3" y="156.1" width="45.7" height="1.1" fill="#545a56"/><rect x="153.3" y="171.4" width="45.7" height="1.1" fill="#545a56"/><rect x="99.8" y="186" width="5" height="1.2" fill="#d03030"/><rect x="99.8" y="187.2" width="5" height="1.4" fill="#e8e8e8" opacity="0.8"/><rect x="146.0" y="186" width="5" height="1.2" fill="#d03030"/><rect x="146.0" y="187.2" width="5" height="1.4" fill="#e8e8e8" opacity="0.8"/><rect x="193.8" y="186" width="5" height="1.2" fill="#d03030"/><rect x="193.8" y="187.2" width="5" height="1.4" fill="#e8e8e8" opacity="0.8"/><rect x="60" y="205.3" width="139" height="46.7" fill="#5e5e5e"/><rect x="106.5" y="205.3" width="46.5" height="25" fill="#616161"/><rect x="153" y="205.3" width="46" height="30" fill="#5a5a5a"/><rect x="60" y="205.3" width="139" height="1" fill="#3c3c3c"/><rect x="198.3" y="205.3" width="0.7" height="30" fill="#3c3c3c"/><rect x="60" y="233.2" width="46.5" height="0.8" fill="#555"/><rect x="60" y="234" width="46.5" height="18" fill="url(#gl)"/><rect x="106.5" y="230.2" width="46.5" height="1.1" fill="#4c4c4c"/><rect x="106.5" y="231.3" width="46.5" height="20.7" fill="url(#gm)"/><rect x="153" y="234.6" width="46" height="0.9" fill="#4e4e4e"/><rect x="153" y="235.5" width="46" height="16.5" fill="url(#gr)"/></svg></body></html>
